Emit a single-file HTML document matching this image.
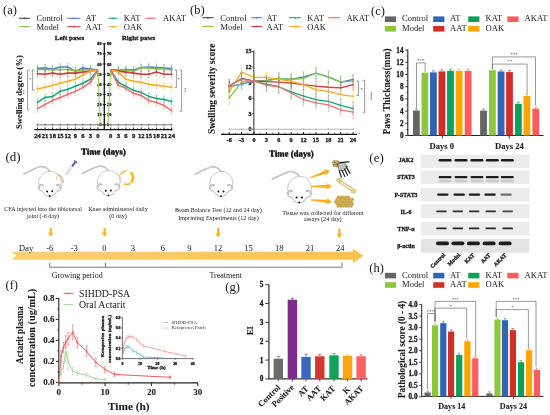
<!DOCTYPE html>
<html><head><meta charset="utf-8"><style>
html,body{margin:0;padding:0;background:#fff;width:550px;height:415px;overflow:hidden}
svg{display:block;will-change:transform;filter:blur(0.3px)}
text{font-family:"Liberation Serif", serif}
</style></head><body>
<svg width="550" height="415" viewBox="0 0 550 415">
<rect width="550" height="415" fill="#fff"/>
<text x="3" y="14.2" font-size="12.5" text-anchor="start" fill="#1a1a1a">(a)</text>
<line x1="19" y1="18.3" x2="30" y2="18.3" stroke="#444444" stroke-width="1.1"/>
<circle cx="24.5" cy="18.3" r="0.9" fill="#444444"/>
<text x="36.5" y="21.3" font-size="8.6" text-anchor="start" fill="#1a1a1a">Control</text>
<line x1="67.3" y1="18.3" x2="80.5" y2="18.3" stroke="#4a80cc" stroke-width="1.1"/>
<circle cx="73.9" cy="18.3" r="0.9" fill="#4a80cc"/>
<text x="85.6" y="21.3" font-size="8.6" text-anchor="start" fill="#1a1a1a">AT</text>
<line x1="108.5" y1="18.3" x2="117.4" y2="18.3" stroke="#13a87a" stroke-width="1.1"/>
<circle cx="113.0" cy="18.3" r="0.9" fill="#13a87a"/>
<text x="123.8" y="21.3" font-size="8.6" text-anchor="start" fill="#1a1a1a">KAT</text>
<line x1="145.4" y1="18.3" x2="155.6" y2="18.3" stroke="#f0706d" stroke-width="1.1"/>
<circle cx="150.5" cy="18.3" r="0.9" fill="#f0706d"/>
<text x="163" y="21.3" font-size="8.6" text-anchor="start" fill="#1a1a1a">AKAT</text>
<line x1="19" y1="26.7" x2="30" y2="26.7" stroke="#86c447" stroke-width="1.1"/>
<circle cx="24.5" cy="26.7" r="0.9" fill="#86c447"/>
<text x="36.5" y="29.7" font-size="8.6" text-anchor="start" fill="#1a1a1a">Model</text>
<line x1="67.3" y1="26.7" x2="80.5" y2="26.7" stroke="#cc3d3d" stroke-width="1.1"/>
<circle cx="73.9" cy="26.7" r="0.9" fill="#cc3d3d"/>
<text x="85.6" y="29.7" font-size="8.6" text-anchor="start" fill="#1a1a1a">AAT</text>
<line x1="108.5" y1="26.7" x2="117.4" y2="26.7" stroke="#f2ae24" stroke-width="1.1"/>
<circle cx="113.0" cy="26.7" r="0.9" fill="#f2ae24"/>
<text x="123.8" y="29.7" font-size="8.6" text-anchor="start" fill="#1a1a1a">OAK</text>
<text x="69.5" y="40" font-size="7" text-anchor="middle" font-weight="bold" stroke="#1a1a1a" stroke-width="0.3" fill="#1a1a1a">Left paws</text>
<text x="138.5" y="40" font-size="7" text-anchor="middle" font-weight="bold" stroke="#1a1a1a" stroke-width="0.3" fill="#1a1a1a">Right paws</text>
<line x1="104.3" y1="43.5" x2="104.3" y2="130" stroke="#111" stroke-width="1.3"/>
<line x1="102.8" y1="124.8" x2="105.8" y2="124.8" stroke="#111" stroke-width="1"/>
<text x="101.5" y="126.39999999999999" font-size="4.2" text-anchor="end" font-weight="bold" stroke="#1a1a1a" stroke-width="0.3" fill="#1a1a1a">0</text>
<text x="107.1" y="126.39999999999999" font-size="4.2" text-anchor="start" font-weight="bold" stroke="#1a1a1a" stroke-width="0.3" fill="#1a1a1a">0</text>
<line x1="102.8" y1="114.67" x2="105.8" y2="114.67" stroke="#111" stroke-width="1"/>
<text x="101.5" y="116.27" font-size="4.2" text-anchor="end" font-weight="bold" stroke="#1a1a1a" stroke-width="0.3" fill="#1a1a1a">10</text>
<text x="107.1" y="116.27" font-size="4.2" text-anchor="start" font-weight="bold" stroke="#1a1a1a" stroke-width="0.3" fill="#1a1a1a">10</text>
<line x1="102.8" y1="104.53999999999999" x2="105.8" y2="104.53999999999999" stroke="#111" stroke-width="1"/>
<text x="101.5" y="106.13999999999999" font-size="4.2" text-anchor="end" font-weight="bold" stroke="#1a1a1a" stroke-width="0.3" fill="#1a1a1a">20</text>
<text x="107.1" y="106.13999999999999" font-size="4.2" text-anchor="start" font-weight="bold" stroke="#1a1a1a" stroke-width="0.3" fill="#1a1a1a">20</text>
<line x1="102.8" y1="94.41" x2="105.8" y2="94.41" stroke="#111" stroke-width="1"/>
<text x="101.5" y="96.00999999999999" font-size="4.2" text-anchor="end" font-weight="bold" stroke="#1a1a1a" stroke-width="0.3" fill="#1a1a1a">30</text>
<text x="107.1" y="96.00999999999999" font-size="4.2" text-anchor="start" font-weight="bold" stroke="#1a1a1a" stroke-width="0.3" fill="#1a1a1a">30</text>
<line x1="102.8" y1="84.28" x2="105.8" y2="84.28" stroke="#111" stroke-width="1"/>
<text x="101.5" y="85.88" font-size="4.2" text-anchor="end" font-weight="bold" stroke="#1a1a1a" stroke-width="0.3" fill="#1a1a1a">40</text>
<text x="107.1" y="85.88" font-size="4.2" text-anchor="start" font-weight="bold" stroke="#1a1a1a" stroke-width="0.3" fill="#1a1a1a">40</text>
<line x1="102.8" y1="74.15" x2="105.8" y2="74.15" stroke="#111" stroke-width="1"/>
<text x="101.5" y="75.75" font-size="4.2" text-anchor="end" font-weight="bold" stroke="#1a1a1a" stroke-width="0.3" fill="#1a1a1a">50</text>
<text x="107.1" y="75.75" font-size="4.2" text-anchor="start" font-weight="bold" stroke="#1a1a1a" stroke-width="0.3" fill="#1a1a1a">50</text>
<line x1="102.8" y1="64.02000000000001" x2="105.8" y2="64.02000000000001" stroke="#111" stroke-width="1"/>
<text x="101.5" y="65.62" font-size="4.2" text-anchor="end" font-weight="bold" stroke="#1a1a1a" stroke-width="0.3" fill="#1a1a1a">60</text>
<text x="107.1" y="65.62" font-size="4.2" text-anchor="start" font-weight="bold" stroke="#1a1a1a" stroke-width="0.3" fill="#1a1a1a">60</text>
<line x1="102.8" y1="53.89" x2="105.8" y2="53.89" stroke="#111" stroke-width="1"/>
<text x="101.5" y="55.49" font-size="4.2" text-anchor="end" font-weight="bold" stroke="#1a1a1a" stroke-width="0.3" fill="#1a1a1a">70</text>
<text x="107.1" y="55.49" font-size="4.2" text-anchor="start" font-weight="bold" stroke="#1a1a1a" stroke-width="0.3" fill="#1a1a1a">70</text>
<line x1="102.8" y1="43.760000000000005" x2="105.8" y2="43.760000000000005" stroke="#111" stroke-width="1"/>
<text x="101.5" y="45.36000000000001" font-size="4.2" text-anchor="end" font-weight="bold" stroke="#1a1a1a" stroke-width="0.3" fill="#1a1a1a">80</text>
<text x="107.1" y="45.36000000000001" font-size="4.2" text-anchor="start" font-weight="bold" stroke="#1a1a1a" stroke-width="0.3" fill="#1a1a1a">80</text>
<line x1="34.4" y1="129.7" x2="172.5" y2="129.7" stroke="#111" stroke-width="1.3"/>
<line x1="36.5" y1="124.8" x2="172" y2="124.8" stroke="#444" stroke-width="0.7"/>
<line x1="98.0" y1="127.4" x2="98.0" y2="130.3" stroke="#111" stroke-width="0.9"/>
<line x1="98.0" y1="123.6" x2="98.0" y2="126" stroke="#444" stroke-width="0.6"/>
<line x1="110.7" y1="127.4" x2="110.7" y2="130.3" stroke="#111" stroke-width="0.9"/>
<line x1="110.7" y1="123.6" x2="110.7" y2="126" stroke="#444" stroke-width="0.6"/>
<text x="98.0" y="138.0" font-size="6.6" text-anchor="middle" font-weight="bold" stroke="#1a1a1a" stroke-width="0.3" fill="#1a1a1a">0</text>
<text x="110.7" y="138.0" font-size="6.6" text-anchor="middle" font-weight="bold" stroke="#1a1a1a" stroke-width="0.3" fill="#1a1a1a">0</text>
<line x1="90.44" y1="127.4" x2="90.44" y2="130.3" stroke="#111" stroke-width="0.9"/>
<line x1="90.44" y1="123.6" x2="90.44" y2="126" stroke="#444" stroke-width="0.6"/>
<line x1="118.32000000000001" y1="127.4" x2="118.32000000000001" y2="130.3" stroke="#111" stroke-width="0.9"/>
<line x1="118.32000000000001" y1="123.6" x2="118.32000000000001" y2="126" stroke="#444" stroke-width="0.6"/>
<text x="90.44" y="138.0" font-size="6.6" text-anchor="middle" font-weight="bold" stroke="#1a1a1a" stroke-width="0.3" fill="#1a1a1a">3</text>
<text x="118.32000000000001" y="138.0" font-size="6.6" text-anchor="middle" font-weight="bold" stroke="#1a1a1a" stroke-width="0.3" fill="#1a1a1a">3</text>
<line x1="82.88" y1="127.4" x2="82.88" y2="130.3" stroke="#111" stroke-width="0.9"/>
<line x1="82.88" y1="123.6" x2="82.88" y2="126" stroke="#444" stroke-width="0.6"/>
<line x1="125.94" y1="127.4" x2="125.94" y2="130.3" stroke="#111" stroke-width="0.9"/>
<line x1="125.94" y1="123.6" x2="125.94" y2="126" stroke="#444" stroke-width="0.6"/>
<text x="82.88" y="138.0" font-size="6.6" text-anchor="middle" font-weight="bold" stroke="#1a1a1a" stroke-width="0.3" fill="#1a1a1a">6</text>
<text x="125.94" y="138.0" font-size="6.6" text-anchor="middle" font-weight="bold" stroke="#1a1a1a" stroke-width="0.3" fill="#1a1a1a">6</text>
<line x1="75.32" y1="127.4" x2="75.32" y2="130.3" stroke="#111" stroke-width="0.9"/>
<line x1="75.32" y1="123.6" x2="75.32" y2="126" stroke="#444" stroke-width="0.6"/>
<line x1="133.56" y1="127.4" x2="133.56" y2="130.3" stroke="#111" stroke-width="0.9"/>
<line x1="133.56" y1="123.6" x2="133.56" y2="126" stroke="#444" stroke-width="0.6"/>
<text x="75.32" y="138.0" font-size="6.6" text-anchor="middle" font-weight="bold" stroke="#1a1a1a" stroke-width="0.3" fill="#1a1a1a">9</text>
<text x="133.56" y="138.0" font-size="6.6" text-anchor="middle" font-weight="bold" stroke="#1a1a1a" stroke-width="0.3" fill="#1a1a1a">9</text>
<line x1="67.75999999999999" y1="127.4" x2="67.75999999999999" y2="130.3" stroke="#111" stroke-width="0.9"/>
<line x1="67.75999999999999" y1="123.6" x2="67.75999999999999" y2="126" stroke="#444" stroke-width="0.6"/>
<line x1="141.18" y1="127.4" x2="141.18" y2="130.3" stroke="#111" stroke-width="0.9"/>
<line x1="141.18" y1="123.6" x2="141.18" y2="126" stroke="#444" stroke-width="0.6"/>
<text x="67.75999999999999" y="138.0" font-size="6.6" text-anchor="middle" font-weight="bold" stroke="#1a1a1a" stroke-width="0.3" fill="#1a1a1a">12</text>
<text x="141.18" y="138.0" font-size="6.6" text-anchor="middle" font-weight="bold" stroke="#1a1a1a" stroke-width="0.3" fill="#1a1a1a">12</text>
<line x1="60.2" y1="127.4" x2="60.2" y2="130.3" stroke="#111" stroke-width="0.9"/>
<line x1="60.2" y1="123.6" x2="60.2" y2="126" stroke="#444" stroke-width="0.6"/>
<line x1="148.8" y1="127.4" x2="148.8" y2="130.3" stroke="#111" stroke-width="0.9"/>
<line x1="148.8" y1="123.6" x2="148.8" y2="126" stroke="#444" stroke-width="0.6"/>
<text x="60.2" y="138.0" font-size="6.6" text-anchor="middle" font-weight="bold" stroke="#1a1a1a" stroke-width="0.3" fill="#1a1a1a">15</text>
<text x="148.8" y="138.0" font-size="6.6" text-anchor="middle" font-weight="bold" stroke="#1a1a1a" stroke-width="0.3" fill="#1a1a1a">15</text>
<line x1="52.64" y1="127.4" x2="52.64" y2="130.3" stroke="#111" stroke-width="0.9"/>
<line x1="52.64" y1="123.6" x2="52.64" y2="126" stroke="#444" stroke-width="0.6"/>
<line x1="156.42000000000002" y1="127.4" x2="156.42000000000002" y2="130.3" stroke="#111" stroke-width="0.9"/>
<line x1="156.42000000000002" y1="123.6" x2="156.42000000000002" y2="126" stroke="#444" stroke-width="0.6"/>
<text x="52.64" y="138.0" font-size="6.6" text-anchor="middle" font-weight="bold" stroke="#1a1a1a" stroke-width="0.3" fill="#1a1a1a">18</text>
<text x="156.42000000000002" y="138.0" font-size="6.6" text-anchor="middle" font-weight="bold" stroke="#1a1a1a" stroke-width="0.3" fill="#1a1a1a">18</text>
<line x1="45.08" y1="127.4" x2="45.08" y2="130.3" stroke="#111" stroke-width="0.9"/>
<line x1="45.08" y1="123.6" x2="45.08" y2="126" stroke="#444" stroke-width="0.6"/>
<line x1="164.04000000000002" y1="127.4" x2="164.04000000000002" y2="130.3" stroke="#111" stroke-width="0.9"/>
<line x1="164.04000000000002" y1="123.6" x2="164.04000000000002" y2="126" stroke="#444" stroke-width="0.6"/>
<text x="45.08" y="138.0" font-size="6.6" text-anchor="middle" font-weight="bold" stroke="#1a1a1a" stroke-width="0.3" fill="#1a1a1a">21</text>
<text x="164.04000000000002" y="138.0" font-size="6.6" text-anchor="middle" font-weight="bold" stroke="#1a1a1a" stroke-width="0.3" fill="#1a1a1a">21</text>
<line x1="37.519999999999996" y1="127.4" x2="37.519999999999996" y2="130.3" stroke="#111" stroke-width="0.9"/>
<line x1="37.519999999999996" y1="123.6" x2="37.519999999999996" y2="126" stroke="#444" stroke-width="0.6"/>
<line x1="171.66" y1="127.4" x2="171.66" y2="130.3" stroke="#111" stroke-width="0.9"/>
<line x1="171.66" y1="123.6" x2="171.66" y2="126" stroke="#444" stroke-width="0.6"/>
<text x="37.519999999999996" y="138.0" font-size="6.6" text-anchor="middle" font-weight="bold" stroke="#1a1a1a" stroke-width="0.3" fill="#1a1a1a">24</text>
<text x="171.66" y="138.0" font-size="6.6" text-anchor="middle" font-weight="bold" stroke="#1a1a1a" stroke-width="0.3" fill="#1a1a1a">24</text>
<line x1="94.22" y1="128.2" x2="94.22" y2="129.7" stroke="#111" stroke-width="0.6"/>
<line x1="114.51" y1="128.2" x2="114.51" y2="129.7" stroke="#111" stroke-width="0.6"/>
<line x1="86.66" y1="128.2" x2="86.66" y2="129.7" stroke="#111" stroke-width="0.6"/>
<line x1="122.13" y1="128.2" x2="122.13" y2="129.7" stroke="#111" stroke-width="0.6"/>
<line x1="79.1" y1="128.2" x2="79.1" y2="129.7" stroke="#111" stroke-width="0.6"/>
<line x1="129.75" y1="128.2" x2="129.75" y2="129.7" stroke="#111" stroke-width="0.6"/>
<line x1="71.53999999999999" y1="128.2" x2="71.53999999999999" y2="129.7" stroke="#111" stroke-width="0.6"/>
<line x1="137.37" y1="128.2" x2="137.37" y2="129.7" stroke="#111" stroke-width="0.6"/>
<line x1="63.98" y1="128.2" x2="63.98" y2="129.7" stroke="#111" stroke-width="0.6"/>
<line x1="144.99" y1="128.2" x2="144.99" y2="129.7" stroke="#111" stroke-width="0.6"/>
<line x1="56.42" y1="128.2" x2="56.42" y2="129.7" stroke="#111" stroke-width="0.6"/>
<line x1="152.61" y1="128.2" x2="152.61" y2="129.7" stroke="#111" stroke-width="0.6"/>
<line x1="48.86" y1="128.2" x2="48.86" y2="129.7" stroke="#111" stroke-width="0.6"/>
<line x1="160.23000000000002" y1="128.2" x2="160.23000000000002" y2="129.7" stroke="#111" stroke-width="0.6"/>
<line x1="41.3" y1="128.2" x2="41.3" y2="129.7" stroke="#111" stroke-width="0.6"/>
<line x1="167.85" y1="128.2" x2="167.85" y2="129.7" stroke="#111" stroke-width="0.6"/>
<text x="19.2" y="92" font-size="8.6" text-anchor="middle" font-weight="bold" stroke="#1a1a1a" stroke-width="0.08" fill="#1a1a1a" transform="rotate(-90 19.2 92)" dy="3">Swelling degree (%)</text>
<text x="103.6" y="154.5" font-size="8.8" text-anchor="middle" font-weight="bold" stroke="#1a1a1a" stroke-width="0.08" fill="#1a1a1a">Time (days)</text>
<line x1="37.519999999999996" y1="64.7746" x2="37.519999999999996" y2="71.7746" stroke="#4a80cc" stroke-width="0.55" opacity="0.8"/>
<line x1="36.72" y1="64.7746" x2="38.31999999999999" y2="64.7746" stroke="#4a80cc" stroke-width="0.45" opacity="0.8"/>
<line x1="36.72" y1="71.7746" x2="38.31999999999999" y2="71.7746" stroke="#4a80cc" stroke-width="0.45" opacity="0.8"/>
<line x1="45.08" y1="64.572" x2="45.08" y2="71.572" stroke="#4a80cc" stroke-width="0.55" opacity="0.8"/>
<line x1="44.28" y1="64.572" x2="45.879999999999995" y2="64.572" stroke="#4a80cc" stroke-width="0.45" opacity="0.8"/>
<line x1="44.28" y1="71.572" x2="45.879999999999995" y2="71.572" stroke="#4a80cc" stroke-width="0.45" opacity="0.8"/>
<line x1="52.64" y1="65.58500000000001" x2="52.64" y2="72.58500000000001" stroke="#4a80cc" stroke-width="0.55" opacity="0.8"/>
<line x1="51.84" y1="65.58500000000001" x2="53.44" y2="65.58500000000001" stroke="#4a80cc" stroke-width="0.45" opacity="0.8"/>
<line x1="51.84" y1="72.58500000000001" x2="53.44" y2="72.58500000000001" stroke="#4a80cc" stroke-width="0.45" opacity="0.8"/>
<line x1="60.2" y1="63.559" x2="60.2" y2="70.559" stroke="#4a80cc" stroke-width="0.55" opacity="0.8"/>
<line x1="59.400000000000006" y1="63.559" x2="61.0" y2="63.559" stroke="#4a80cc" stroke-width="0.45" opacity="0.8"/>
<line x1="59.400000000000006" y1="70.559" x2="61.0" y2="70.559" stroke="#4a80cc" stroke-width="0.45" opacity="0.8"/>
<line x1="67.75999999999999" y1="63.559" x2="67.75999999999999" y2="70.559" stroke="#4a80cc" stroke-width="0.55" opacity="0.8"/>
<line x1="66.96" y1="63.559" x2="68.55999999999999" y2="63.559" stroke="#4a80cc" stroke-width="0.45" opacity="0.8"/>
<line x1="66.96" y1="70.559" x2="68.55999999999999" y2="70.559" stroke="#4a80cc" stroke-width="0.45" opacity="0.8"/>
<line x1="75.32" y1="67.611" x2="75.32" y2="74.611" stroke="#4a80cc" stroke-width="0.55" opacity="0.8"/>
<line x1="74.52" y1="67.611" x2="76.11999999999999" y2="67.611" stroke="#4a80cc" stroke-width="0.45" opacity="0.8"/>
<line x1="74.52" y1="74.611" x2="76.11999999999999" y2="74.611" stroke="#4a80cc" stroke-width="0.45" opacity="0.8"/>
<line x1="82.88" y1="64.572" x2="82.88" y2="71.572" stroke="#4a80cc" stroke-width="0.55" opacity="0.8"/>
<line x1="82.08" y1="64.572" x2="83.67999999999999" y2="64.572" stroke="#4a80cc" stroke-width="0.45" opacity="0.8"/>
<line x1="82.08" y1="71.572" x2="83.67999999999999" y2="71.572" stroke="#4a80cc" stroke-width="0.45" opacity="0.8"/>
<line x1="90.44" y1="65.58500000000001" x2="90.44" y2="72.58500000000001" stroke="#4a80cc" stroke-width="0.55" opacity="0.8"/>
<line x1="89.64" y1="65.58500000000001" x2="91.24" y2="65.58500000000001" stroke="#4a80cc" stroke-width="0.45" opacity="0.8"/>
<line x1="89.64" y1="72.58500000000001" x2="91.24" y2="72.58500000000001" stroke="#4a80cc" stroke-width="0.45" opacity="0.8"/>
<polyline points="37.52,68.27 45.08,68.07 52.64,69.09 60.20,67.06 67.76,67.06 75.32,71.11 82.88,68.07 90.44,69.09 98.00,70.10" fill="none" stroke="#4a80cc" stroke-width="1.55" stroke-linejoin="round"/>
<circle cx="37.5" cy="68.3" r="0.9" fill="#4a80cc"/>
<circle cx="45.1" cy="68.1" r="0.9" fill="#4a80cc"/>
<circle cx="52.6" cy="69.1" r="0.9" fill="#4a80cc"/>
<circle cx="60.2" cy="67.1" r="0.9" fill="#4a80cc"/>
<circle cx="67.8" cy="67.1" r="0.9" fill="#4a80cc"/>
<circle cx="75.3" cy="71.1" r="0.9" fill="#4a80cc"/>
<circle cx="82.9" cy="68.1" r="0.9" fill="#4a80cc"/>
<circle cx="90.4" cy="69.1" r="0.9" fill="#4a80cc"/>
<line x1="37.519999999999996" y1="66.0915" x2="37.519999999999996" y2="73.0915" stroke="#86c447" stroke-width="0.55" opacity="0.8"/>
<line x1="36.72" y1="66.0915" x2="38.31999999999999" y2="66.0915" stroke="#86c447" stroke-width="0.45" opacity="0.8"/>
<line x1="36.72" y1="73.0915" x2="38.31999999999999" y2="73.0915" stroke="#86c447" stroke-width="0.45" opacity="0.8"/>
<line x1="45.08" y1="66.0915" x2="45.08" y2="73.0915" stroke="#86c447" stroke-width="0.55" opacity="0.8"/>
<line x1="44.28" y1="66.0915" x2="45.879999999999995" y2="66.0915" stroke="#86c447" stroke-width="0.45" opacity="0.8"/>
<line x1="44.28" y1="73.0915" x2="45.879999999999995" y2="73.0915" stroke="#86c447" stroke-width="0.45" opacity="0.8"/>
<line x1="52.64" y1="66.598" x2="52.64" y2="73.598" stroke="#86c447" stroke-width="0.55" opacity="0.8"/>
<line x1="51.84" y1="66.598" x2="53.44" y2="66.598" stroke="#86c447" stroke-width="0.45" opacity="0.8"/>
<line x1="51.84" y1="73.598" x2="53.44" y2="73.598" stroke="#86c447" stroke-width="0.45" opacity="0.8"/>
<line x1="60.2" y1="66.0915" x2="60.2" y2="73.0915" stroke="#86c447" stroke-width="0.55" opacity="0.8"/>
<line x1="59.400000000000006" y1="66.0915" x2="61.0" y2="66.0915" stroke="#86c447" stroke-width="0.45" opacity="0.8"/>
<line x1="59.400000000000006" y1="73.0915" x2="61.0" y2="73.0915" stroke="#86c447" stroke-width="0.45" opacity="0.8"/>
<line x1="67.75999999999999" y1="66.0915" x2="67.75999999999999" y2="73.0915" stroke="#86c447" stroke-width="0.55" opacity="0.8"/>
<line x1="66.96" y1="66.0915" x2="68.55999999999999" y2="66.0915" stroke="#86c447" stroke-width="0.45" opacity="0.8"/>
<line x1="66.96" y1="73.0915" x2="68.55999999999999" y2="73.0915" stroke="#86c447" stroke-width="0.45" opacity="0.8"/>
<line x1="75.32" y1="67.611" x2="75.32" y2="74.611" stroke="#86c447" stroke-width="0.55" opacity="0.8"/>
<line x1="74.52" y1="67.611" x2="76.11999999999999" y2="67.611" stroke="#86c447" stroke-width="0.45" opacity="0.8"/>
<line x1="74.52" y1="74.611" x2="76.11999999999999" y2="74.611" stroke="#86c447" stroke-width="0.45" opacity="0.8"/>
<line x1="82.88" y1="66.598" x2="82.88" y2="73.598" stroke="#86c447" stroke-width="0.55" opacity="0.8"/>
<line x1="82.08" y1="66.598" x2="83.67999999999999" y2="66.598" stroke="#86c447" stroke-width="0.45" opacity="0.8"/>
<line x1="82.08" y1="73.598" x2="83.67999999999999" y2="73.598" stroke="#86c447" stroke-width="0.45" opacity="0.8"/>
<line x1="90.44" y1="66.0915" x2="90.44" y2="73.0915" stroke="#86c447" stroke-width="0.55" opacity="0.8"/>
<line x1="89.64" y1="66.0915" x2="91.24" y2="66.0915" stroke="#86c447" stroke-width="0.45" opacity="0.8"/>
<line x1="89.64" y1="73.0915" x2="91.24" y2="73.0915" stroke="#86c447" stroke-width="0.45" opacity="0.8"/>
<polyline points="37.52,69.59 45.08,69.59 52.64,70.10 60.20,69.59 67.76,69.59 75.32,71.11 82.88,70.10 90.44,69.59 98.00,70.10" fill="none" stroke="#86c447" stroke-width="1.55" stroke-linejoin="round"/>
<line x1="98.0" y1="70.098" x2="100.2" y2="124.8" stroke="#9ccf62" stroke-width="1.1"/>
<circle cx="37.5" cy="69.6" r="0.9" fill="#86c447"/>
<circle cx="45.1" cy="69.6" r="0.9" fill="#86c447"/>
<circle cx="52.6" cy="70.1" r="0.9" fill="#86c447"/>
<circle cx="60.2" cy="69.6" r="0.9" fill="#86c447"/>
<circle cx="67.8" cy="69.6" r="0.9" fill="#86c447"/>
<circle cx="75.3" cy="71.1" r="0.9" fill="#86c447"/>
<circle cx="82.9" cy="70.1" r="0.9" fill="#86c447"/>
<circle cx="90.4" cy="69.6" r="0.9" fill="#86c447"/>
<line x1="37.519999999999996" y1="70.2448" x2="37.519999999999996" y2="77.2448" stroke="#cc3d3d" stroke-width="0.55" opacity="0.8"/>
<line x1="36.72" y1="70.2448" x2="38.31999999999999" y2="70.2448" stroke="#cc3d3d" stroke-width="0.45" opacity="0.8"/>
<line x1="36.72" y1="77.2448" x2="38.31999999999999" y2="77.2448" stroke="#cc3d3d" stroke-width="0.45" opacity="0.8"/>
<line x1="45.08" y1="70.65" x2="45.08" y2="77.65" stroke="#cc3d3d" stroke-width="0.55" opacity="0.8"/>
<line x1="44.28" y1="70.65" x2="45.879999999999995" y2="70.65" stroke="#cc3d3d" stroke-width="0.45" opacity="0.8"/>
<line x1="44.28" y1="77.65" x2="45.879999999999995" y2="77.65" stroke="#cc3d3d" stroke-width="0.45" opacity="0.8"/>
<line x1="52.64" y1="69.637" x2="52.64" y2="76.637" stroke="#cc3d3d" stroke-width="0.55" opacity="0.8"/>
<line x1="51.84" y1="69.637" x2="53.44" y2="69.637" stroke="#cc3d3d" stroke-width="0.45" opacity="0.8"/>
<line x1="51.84" y1="76.637" x2="53.44" y2="76.637" stroke="#cc3d3d" stroke-width="0.45" opacity="0.8"/>
<line x1="60.2" y1="70.65" x2="60.2" y2="77.65" stroke="#cc3d3d" stroke-width="0.55" opacity="0.8"/>
<line x1="59.400000000000006" y1="70.65" x2="61.0" y2="70.65" stroke="#cc3d3d" stroke-width="0.45" opacity="0.8"/>
<line x1="59.400000000000006" y1="77.65" x2="61.0" y2="77.65" stroke="#cc3d3d" stroke-width="0.45" opacity="0.8"/>
<line x1="67.75999999999999" y1="69.637" x2="67.75999999999999" y2="76.637" stroke="#cc3d3d" stroke-width="0.55" opacity="0.8"/>
<line x1="66.96" y1="69.637" x2="68.55999999999999" y2="69.637" stroke="#cc3d3d" stroke-width="0.45" opacity="0.8"/>
<line x1="66.96" y1="76.637" x2="68.55999999999999" y2="76.637" stroke="#cc3d3d" stroke-width="0.45" opacity="0.8"/>
<line x1="75.32" y1="69.637" x2="75.32" y2="76.637" stroke="#cc3d3d" stroke-width="0.55" opacity="0.8"/>
<line x1="74.52" y1="69.637" x2="76.11999999999999" y2="69.637" stroke="#cc3d3d" stroke-width="0.45" opacity="0.8"/>
<line x1="74.52" y1="76.637" x2="76.11999999999999" y2="76.637" stroke="#cc3d3d" stroke-width="0.45" opacity="0.8"/>
<line x1="82.88" y1="68.624" x2="82.88" y2="75.624" stroke="#cc3d3d" stroke-width="0.55" opacity="0.8"/>
<line x1="82.08" y1="68.624" x2="83.67999999999999" y2="68.624" stroke="#cc3d3d" stroke-width="0.45" opacity="0.8"/>
<line x1="82.08" y1="75.624" x2="83.67999999999999" y2="75.624" stroke="#cc3d3d" stroke-width="0.45" opacity="0.8"/>
<line x1="90.44" y1="67.611" x2="90.44" y2="74.611" stroke="#cc3d3d" stroke-width="0.55" opacity="0.8"/>
<line x1="89.64" y1="67.611" x2="91.24" y2="67.611" stroke="#cc3d3d" stroke-width="0.45" opacity="0.8"/>
<line x1="89.64" y1="74.611" x2="91.24" y2="74.611" stroke="#cc3d3d" stroke-width="0.45" opacity="0.8"/>
<polyline points="37.52,73.74 45.08,74.15 52.64,73.14 60.20,74.15 67.76,73.14 75.32,73.14 82.88,72.12 90.44,71.11 98.00,70.10" fill="none" stroke="#cc3d3d" stroke-width="1.55" stroke-linejoin="round"/>
<circle cx="37.5" cy="73.7" r="0.9" fill="#cc3d3d"/>
<circle cx="45.1" cy="74.2" r="0.9" fill="#cc3d3d"/>
<circle cx="52.6" cy="73.1" r="0.9" fill="#cc3d3d"/>
<circle cx="60.2" cy="74.2" r="0.9" fill="#cc3d3d"/>
<circle cx="67.8" cy="73.1" r="0.9" fill="#cc3d3d"/>
<circle cx="75.3" cy="73.1" r="0.9" fill="#cc3d3d"/>
<circle cx="82.9" cy="72.1" r="0.9" fill="#cc3d3d"/>
<circle cx="90.4" cy="71.1" r="0.9" fill="#cc3d3d"/>
<line x1="37.519999999999996" y1="85.5411" x2="37.519999999999996" y2="92.5411" stroke="#f2ae24" stroke-width="0.55" opacity="0.8"/>
<line x1="36.72" y1="85.5411" x2="38.31999999999999" y2="85.5411" stroke="#f2ae24" stroke-width="0.45" opacity="0.8"/>
<line x1="36.72" y1="92.5411" x2="38.31999999999999" y2="92.5411" stroke="#f2ae24" stroke-width="0.45" opacity="0.8"/>
<line x1="45.08" y1="83.819" x2="45.08" y2="90.819" stroke="#f2ae24" stroke-width="0.55" opacity="0.8"/>
<line x1="44.28" y1="83.819" x2="45.879999999999995" y2="83.819" stroke="#f2ae24" stroke-width="0.45" opacity="0.8"/>
<line x1="44.28" y1="90.819" x2="45.879999999999995" y2="90.819" stroke="#f2ae24" stroke-width="0.45" opacity="0.8"/>
<line x1="52.64" y1="81.793" x2="52.64" y2="88.793" stroke="#f2ae24" stroke-width="0.55" opacity="0.8"/>
<line x1="51.84" y1="81.793" x2="53.44" y2="81.793" stroke="#f2ae24" stroke-width="0.45" opacity="0.8"/>
<line x1="51.84" y1="88.793" x2="53.44" y2="88.793" stroke="#f2ae24" stroke-width="0.45" opacity="0.8"/>
<line x1="60.2" y1="79.767" x2="60.2" y2="86.767" stroke="#f2ae24" stroke-width="0.55" opacity="0.8"/>
<line x1="59.400000000000006" y1="79.767" x2="61.0" y2="79.767" stroke="#f2ae24" stroke-width="0.45" opacity="0.8"/>
<line x1="59.400000000000006" y1="86.767" x2="61.0" y2="86.767" stroke="#f2ae24" stroke-width="0.45" opacity="0.8"/>
<line x1="67.75999999999999" y1="77.741" x2="67.75999999999999" y2="84.741" stroke="#f2ae24" stroke-width="0.55" opacity="0.8"/>
<line x1="66.96" y1="77.741" x2="68.55999999999999" y2="77.741" stroke="#f2ae24" stroke-width="0.45" opacity="0.8"/>
<line x1="66.96" y1="84.741" x2="68.55999999999999" y2="84.741" stroke="#f2ae24" stroke-width="0.45" opacity="0.8"/>
<line x1="75.32" y1="75.715" x2="75.32" y2="82.715" stroke="#f2ae24" stroke-width="0.55" opacity="0.8"/>
<line x1="74.52" y1="75.715" x2="76.11999999999999" y2="75.715" stroke="#f2ae24" stroke-width="0.45" opacity="0.8"/>
<line x1="74.52" y1="82.715" x2="76.11999999999999" y2="82.715" stroke="#f2ae24" stroke-width="0.45" opacity="0.8"/>
<line x1="82.88" y1="71.66300000000001" x2="82.88" y2="78.66300000000001" stroke="#f2ae24" stroke-width="0.55" opacity="0.8"/>
<line x1="82.08" y1="71.66300000000001" x2="83.67999999999999" y2="71.66300000000001" stroke="#f2ae24" stroke-width="0.45" opacity="0.8"/>
<line x1="82.08" y1="78.66300000000001" x2="83.67999999999999" y2="78.66300000000001" stroke="#f2ae24" stroke-width="0.45" opacity="0.8"/>
<line x1="90.44" y1="67.611" x2="90.44" y2="74.611" stroke="#f2ae24" stroke-width="0.55" opacity="0.8"/>
<line x1="89.64" y1="67.611" x2="91.24" y2="67.611" stroke="#f2ae24" stroke-width="0.45" opacity="0.8"/>
<line x1="89.64" y1="74.611" x2="91.24" y2="74.611" stroke="#f2ae24" stroke-width="0.45" opacity="0.8"/>
<polyline points="37.52,89.04 45.08,87.32 52.64,85.29 60.20,83.27 67.76,81.24 75.32,79.22 82.88,75.16 90.44,71.11 98.00,70.10" fill="none" stroke="#f2ae24" stroke-width="1.55" stroke-linejoin="round"/>
<circle cx="37.5" cy="89.0" r="0.9" fill="#f2ae24"/>
<circle cx="45.1" cy="87.3" r="0.9" fill="#f2ae24"/>
<circle cx="52.6" cy="85.3" r="0.9" fill="#f2ae24"/>
<circle cx="60.2" cy="83.3" r="0.9" fill="#f2ae24"/>
<circle cx="67.8" cy="81.2" r="0.9" fill="#f2ae24"/>
<circle cx="75.3" cy="79.2" r="0.9" fill="#f2ae24"/>
<circle cx="82.9" cy="75.2" r="0.9" fill="#f2ae24"/>
<circle cx="90.4" cy="71.1" r="0.9" fill="#f2ae24"/>
<line x1="37.519999999999996" y1="98.9127" x2="37.519999999999996" y2="105.9127" stroke="#13a87a" stroke-width="0.55" opacity="0.8"/>
<line x1="36.72" y1="98.9127" x2="38.31999999999999" y2="98.9127" stroke="#13a87a" stroke-width="0.45" opacity="0.8"/>
<line x1="36.72" y1="105.9127" x2="38.31999999999999" y2="105.9127" stroke="#13a87a" stroke-width="0.45" opacity="0.8"/>
<line x1="45.08" y1="93.949" x2="45.08" y2="100.949" stroke="#13a87a" stroke-width="0.55" opacity="0.8"/>
<line x1="44.28" y1="93.949" x2="45.879999999999995" y2="93.949" stroke="#13a87a" stroke-width="0.45" opacity="0.8"/>
<line x1="44.28" y1="100.949" x2="45.879999999999995" y2="100.949" stroke="#13a87a" stroke-width="0.45" opacity="0.8"/>
<line x1="52.64" y1="92.936" x2="52.64" y2="99.936" stroke="#13a87a" stroke-width="0.55" opacity="0.8"/>
<line x1="51.84" y1="92.936" x2="53.44" y2="92.936" stroke="#13a87a" stroke-width="0.45" opacity="0.8"/>
<line x1="51.84" y1="99.936" x2="53.44" y2="99.936" stroke="#13a87a" stroke-width="0.45" opacity="0.8"/>
<line x1="60.2" y1="87.87100000000001" x2="60.2" y2="94.87100000000001" stroke="#13a87a" stroke-width="0.55" opacity="0.8"/>
<line x1="59.400000000000006" y1="87.87100000000001" x2="61.0" y2="87.87100000000001" stroke="#13a87a" stroke-width="0.45" opacity="0.8"/>
<line x1="59.400000000000006" y1="94.87100000000001" x2="61.0" y2="94.87100000000001" stroke="#13a87a" stroke-width="0.45" opacity="0.8"/>
<line x1="67.75999999999999" y1="85.845" x2="67.75999999999999" y2="92.845" stroke="#13a87a" stroke-width="0.55" opacity="0.8"/>
<line x1="66.96" y1="85.845" x2="68.55999999999999" y2="85.845" stroke="#13a87a" stroke-width="0.45" opacity="0.8"/>
<line x1="66.96" y1="92.845" x2="68.55999999999999" y2="92.845" stroke="#13a87a" stroke-width="0.45" opacity="0.8"/>
<line x1="75.32" y1="82.806" x2="75.32" y2="89.806" stroke="#13a87a" stroke-width="0.55" opacity="0.8"/>
<line x1="74.52" y1="82.806" x2="76.11999999999999" y2="82.806" stroke="#13a87a" stroke-width="0.45" opacity="0.8"/>
<line x1="74.52" y1="89.806" x2="76.11999999999999" y2="89.806" stroke="#13a87a" stroke-width="0.45" opacity="0.8"/>
<line x1="82.88" y1="79.767" x2="82.88" y2="86.767" stroke="#13a87a" stroke-width="0.55" opacity="0.8"/>
<line x1="82.08" y1="79.767" x2="83.67999999999999" y2="79.767" stroke="#13a87a" stroke-width="0.45" opacity="0.8"/>
<line x1="82.08" y1="86.767" x2="83.67999999999999" y2="86.767" stroke="#13a87a" stroke-width="0.45" opacity="0.8"/>
<line x1="90.44" y1="75.715" x2="90.44" y2="82.715" stroke="#13a87a" stroke-width="0.55" opacity="0.8"/>
<line x1="89.64" y1="75.715" x2="91.24" y2="75.715" stroke="#13a87a" stroke-width="0.45" opacity="0.8"/>
<line x1="89.64" y1="82.715" x2="91.24" y2="82.715" stroke="#13a87a" stroke-width="0.45" opacity="0.8"/>
<polyline points="37.52,102.41 45.08,97.45 52.64,96.44 60.20,91.37 67.76,89.34 75.32,86.31 82.88,83.27 90.44,79.22 98.00,70.10" fill="none" stroke="#13a87a" stroke-width="1.55" stroke-linejoin="round"/>
<circle cx="37.5" cy="102.4" r="0.9" fill="#13a87a"/>
<circle cx="45.1" cy="97.4" r="0.9" fill="#13a87a"/>
<circle cx="52.6" cy="96.4" r="0.9" fill="#13a87a"/>
<circle cx="60.2" cy="91.4" r="0.9" fill="#13a87a"/>
<circle cx="67.8" cy="89.3" r="0.9" fill="#13a87a"/>
<circle cx="75.3" cy="86.3" r="0.9" fill="#13a87a"/>
<circle cx="82.9" cy="83.3" r="0.9" fill="#13a87a"/>
<circle cx="90.4" cy="79.2" r="0.9" fill="#13a87a"/>
<line x1="37.519999999999996" y1="105.092" x2="37.519999999999996" y2="112.092" stroke="#f0706d" stroke-width="0.55" opacity="0.8"/>
<line x1="36.72" y1="105.092" x2="38.31999999999999" y2="105.092" stroke="#f0706d" stroke-width="0.45" opacity="0.8"/>
<line x1="36.72" y1="112.092" x2="38.31999999999999" y2="112.092" stroke="#f0706d" stroke-width="0.45" opacity="0.8"/>
<line x1="45.08" y1="101.03999999999999" x2="45.08" y2="108.03999999999999" stroke="#f0706d" stroke-width="0.55" opacity="0.8"/>
<line x1="44.28" y1="101.03999999999999" x2="45.879999999999995" y2="101.03999999999999" stroke="#f0706d" stroke-width="0.45" opacity="0.8"/>
<line x1="44.28" y1="108.03999999999999" x2="45.879999999999995" y2="108.03999999999999" stroke="#f0706d" stroke-width="0.45" opacity="0.8"/>
<line x1="52.64" y1="96.988" x2="52.64" y2="103.988" stroke="#f0706d" stroke-width="0.55" opacity="0.8"/>
<line x1="51.84" y1="96.988" x2="53.44" y2="96.988" stroke="#f0706d" stroke-width="0.45" opacity="0.8"/>
<line x1="51.84" y1="103.988" x2="53.44" y2="103.988" stroke="#f0706d" stroke-width="0.45" opacity="0.8"/>
<line x1="60.2" y1="93.949" x2="60.2" y2="100.949" stroke="#f0706d" stroke-width="0.55" opacity="0.8"/>
<line x1="59.400000000000006" y1="93.949" x2="61.0" y2="93.949" stroke="#f0706d" stroke-width="0.45" opacity="0.8"/>
<line x1="59.400000000000006" y1="100.949" x2="61.0" y2="100.949" stroke="#f0706d" stroke-width="0.45" opacity="0.8"/>
<line x1="67.75999999999999" y1="90.91" x2="67.75999999999999" y2="97.91" stroke="#f0706d" stroke-width="0.55" opacity="0.8"/>
<line x1="66.96" y1="90.91" x2="68.55999999999999" y2="90.91" stroke="#f0706d" stroke-width="0.45" opacity="0.8"/>
<line x1="66.96" y1="97.91" x2="68.55999999999999" y2="97.91" stroke="#f0706d" stroke-width="0.45" opacity="0.8"/>
<line x1="75.32" y1="87.87100000000001" x2="75.32" y2="94.87100000000001" stroke="#f0706d" stroke-width="0.55" opacity="0.8"/>
<line x1="74.52" y1="87.87100000000001" x2="76.11999999999999" y2="87.87100000000001" stroke="#f0706d" stroke-width="0.45" opacity="0.8"/>
<line x1="74.52" y1="94.87100000000001" x2="76.11999999999999" y2="94.87100000000001" stroke="#f0706d" stroke-width="0.45" opacity="0.8"/>
<line x1="82.88" y1="83.819" x2="82.88" y2="90.819" stroke="#f0706d" stroke-width="0.55" opacity="0.8"/>
<line x1="82.08" y1="83.819" x2="83.67999999999999" y2="83.819" stroke="#f0706d" stroke-width="0.45" opacity="0.8"/>
<line x1="82.08" y1="90.819" x2="83.67999999999999" y2="90.819" stroke="#f0706d" stroke-width="0.45" opacity="0.8"/>
<line x1="90.44" y1="78.754" x2="90.44" y2="85.754" stroke="#f0706d" stroke-width="0.55" opacity="0.8"/>
<line x1="89.64" y1="78.754" x2="91.24" y2="78.754" stroke="#f0706d" stroke-width="0.45" opacity="0.8"/>
<line x1="89.64" y1="85.754" x2="91.24" y2="85.754" stroke="#f0706d" stroke-width="0.45" opacity="0.8"/>
<polyline points="37.52,108.59 45.08,104.54 52.64,100.49 60.20,97.45 67.76,94.41 75.32,91.37 82.88,87.32 90.44,82.25 98.00,70.10" fill="none" stroke="#f0706d" stroke-width="1.55" stroke-linejoin="round"/>
<circle cx="37.5" cy="108.6" r="0.9" fill="#f0706d"/>
<circle cx="45.1" cy="104.5" r="0.9" fill="#f0706d"/>
<circle cx="52.6" cy="100.5" r="0.9" fill="#f0706d"/>
<circle cx="60.2" cy="97.4" r="0.9" fill="#f0706d"/>
<circle cx="67.8" cy="94.4" r="0.9" fill="#f0706d"/>
<circle cx="75.3" cy="91.4" r="0.9" fill="#f0706d"/>
<circle cx="82.9" cy="87.3" r="0.9" fill="#f0706d"/>
<circle cx="90.4" cy="82.3" r="0.9" fill="#f0706d"/>
<line x1="118.32000000000001" y1="66.29410000000001" x2="118.32000000000001" y2="73.29410000000001" stroke="#4a80cc" stroke-width="0.55" opacity="0.8"/>
<line x1="117.52000000000001" y1="66.29410000000001" x2="119.12" y2="66.29410000000001" stroke="#4a80cc" stroke-width="0.45" opacity="0.8"/>
<line x1="117.52000000000001" y1="73.29410000000001" x2="119.12" y2="73.29410000000001" stroke="#4a80cc" stroke-width="0.45" opacity="0.8"/>
<line x1="125.94" y1="66.0915" x2="125.94" y2="73.0915" stroke="#4a80cc" stroke-width="0.55" opacity="0.8"/>
<line x1="125.14" y1="66.0915" x2="126.74" y2="66.0915" stroke="#4a80cc" stroke-width="0.45" opacity="0.8"/>
<line x1="125.14" y1="73.0915" x2="126.74" y2="73.0915" stroke="#4a80cc" stroke-width="0.45" opacity="0.8"/>
<line x1="133.56" y1="66.598" x2="133.56" y2="73.598" stroke="#4a80cc" stroke-width="0.55" opacity="0.8"/>
<line x1="132.76" y1="66.598" x2="134.36" y2="66.598" stroke="#4a80cc" stroke-width="0.45" opacity="0.8"/>
<line x1="132.76" y1="73.598" x2="134.36" y2="73.598" stroke="#4a80cc" stroke-width="0.45" opacity="0.8"/>
<line x1="141.18" y1="64.0655" x2="141.18" y2="71.0655" stroke="#4a80cc" stroke-width="0.55" opacity="0.8"/>
<line x1="140.38" y1="64.0655" x2="141.98000000000002" y2="64.0655" stroke="#4a80cc" stroke-width="0.45" opacity="0.8"/>
<line x1="140.38" y1="71.0655" x2="141.98000000000002" y2="71.0655" stroke="#4a80cc" stroke-width="0.45" opacity="0.8"/>
<line x1="148.8" y1="63.559" x2="148.8" y2="70.559" stroke="#4a80cc" stroke-width="0.55" opacity="0.8"/>
<line x1="148.0" y1="63.559" x2="149.60000000000002" y2="63.559" stroke="#4a80cc" stroke-width="0.45" opacity="0.8"/>
<line x1="148.0" y1="70.559" x2="149.60000000000002" y2="70.559" stroke="#4a80cc" stroke-width="0.45" opacity="0.8"/>
<line x1="156.42000000000002" y1="64.0655" x2="156.42000000000002" y2="71.0655" stroke="#4a80cc" stroke-width="0.55" opacity="0.8"/>
<line x1="155.62" y1="64.0655" x2="157.22000000000003" y2="64.0655" stroke="#4a80cc" stroke-width="0.45" opacity="0.8"/>
<line x1="155.62" y1="71.0655" x2="157.22000000000003" y2="71.0655" stroke="#4a80cc" stroke-width="0.45" opacity="0.8"/>
<line x1="164.04000000000002" y1="64.572" x2="164.04000000000002" y2="71.572" stroke="#4a80cc" stroke-width="0.55" opacity="0.8"/>
<line x1="163.24" y1="64.572" x2="164.84000000000003" y2="64.572" stroke="#4a80cc" stroke-width="0.45" opacity="0.8"/>
<line x1="163.24" y1="71.572" x2="164.84000000000003" y2="71.572" stroke="#4a80cc" stroke-width="0.45" opacity="0.8"/>
<line x1="171.66" y1="65.0785" x2="171.66" y2="72.0785" stroke="#4a80cc" stroke-width="0.55" opacity="0.8"/>
<line x1="170.85999999999999" y1="65.0785" x2="172.46" y2="65.0785" stroke="#4a80cc" stroke-width="0.45" opacity="0.8"/>
<line x1="170.85999999999999" y1="72.0785" x2="172.46" y2="72.0785" stroke="#4a80cc" stroke-width="0.45" opacity="0.8"/>
<polyline points="110.70,70.10 118.32,69.79 125.94,69.59 133.56,70.10 141.18,67.57 148.80,67.06 156.42,67.57 164.04,68.07 171.66,68.58" fill="none" stroke="#4a80cc" stroke-width="1.55" stroke-linejoin="round"/>
<circle cx="118.3" cy="69.8" r="0.9" fill="#4a80cc"/>
<circle cx="125.9" cy="69.6" r="0.9" fill="#4a80cc"/>
<circle cx="133.6" cy="70.1" r="0.9" fill="#4a80cc"/>
<circle cx="141.2" cy="67.6" r="0.9" fill="#4a80cc"/>
<circle cx="148.8" cy="67.1" r="0.9" fill="#4a80cc"/>
<circle cx="156.4" cy="67.6" r="0.9" fill="#4a80cc"/>
<circle cx="164.0" cy="68.1" r="0.9" fill="#4a80cc"/>
<circle cx="171.7" cy="68.6" r="0.9" fill="#4a80cc"/>
<line x1="118.32000000000001" y1="66.598" x2="118.32000000000001" y2="73.598" stroke="#86c447" stroke-width="0.55" opacity="0.8"/>
<line x1="117.52000000000001" y1="66.598" x2="119.12" y2="66.598" stroke="#86c447" stroke-width="0.45" opacity="0.8"/>
<line x1="117.52000000000001" y1="73.598" x2="119.12" y2="73.598" stroke="#86c447" stroke-width="0.45" opacity="0.8"/>
<line x1="125.94" y1="66.598" x2="125.94" y2="73.598" stroke="#86c447" stroke-width="0.55" opacity="0.8"/>
<line x1="125.14" y1="66.598" x2="126.74" y2="66.598" stroke="#86c447" stroke-width="0.45" opacity="0.8"/>
<line x1="125.14" y1="73.598" x2="126.74" y2="73.598" stroke="#86c447" stroke-width="0.45" opacity="0.8"/>
<line x1="133.56" y1="67.611" x2="133.56" y2="74.611" stroke="#86c447" stroke-width="0.55" opacity="0.8"/>
<line x1="132.76" y1="67.611" x2="134.36" y2="67.611" stroke="#86c447" stroke-width="0.45" opacity="0.8"/>
<line x1="132.76" y1="74.611" x2="134.36" y2="74.611" stroke="#86c447" stroke-width="0.45" opacity="0.8"/>
<line x1="141.18" y1="64.572" x2="141.18" y2="71.572" stroke="#86c447" stroke-width="0.55" opacity="0.8"/>
<line x1="140.38" y1="64.572" x2="141.98000000000002" y2="64.572" stroke="#86c447" stroke-width="0.45" opacity="0.8"/>
<line x1="140.38" y1="71.572" x2="141.98000000000002" y2="71.572" stroke="#86c447" stroke-width="0.45" opacity="0.8"/>
<line x1="148.8" y1="64.572" x2="148.8" y2="71.572" stroke="#86c447" stroke-width="0.55" opacity="0.8"/>
<line x1="148.0" y1="64.572" x2="149.60000000000002" y2="64.572" stroke="#86c447" stroke-width="0.45" opacity="0.8"/>
<line x1="148.0" y1="71.572" x2="149.60000000000002" y2="71.572" stroke="#86c447" stroke-width="0.45" opacity="0.8"/>
<line x1="156.42000000000002" y1="65.58500000000001" x2="156.42000000000002" y2="72.58500000000001" stroke="#86c447" stroke-width="0.55" opacity="0.8"/>
<line x1="155.62" y1="65.58500000000001" x2="157.22000000000003" y2="65.58500000000001" stroke="#86c447" stroke-width="0.45" opacity="0.8"/>
<line x1="155.62" y1="72.58500000000001" x2="157.22000000000003" y2="72.58500000000001" stroke="#86c447" stroke-width="0.45" opacity="0.8"/>
<line x1="164.04000000000002" y1="65.58500000000001" x2="164.04000000000002" y2="72.58500000000001" stroke="#86c447" stroke-width="0.55" opacity="0.8"/>
<line x1="163.24" y1="65.58500000000001" x2="164.84000000000003" y2="65.58500000000001" stroke="#86c447" stroke-width="0.45" opacity="0.8"/>
<line x1="163.24" y1="72.58500000000001" x2="164.84000000000003" y2="72.58500000000001" stroke="#86c447" stroke-width="0.45" opacity="0.8"/>
<line x1="171.66" y1="66.598" x2="171.66" y2="73.598" stroke="#86c447" stroke-width="0.55" opacity="0.8"/>
<line x1="170.85999999999999" y1="66.598" x2="172.46" y2="66.598" stroke="#86c447" stroke-width="0.45" opacity="0.8"/>
<line x1="170.85999999999999" y1="73.598" x2="172.46" y2="73.598" stroke="#86c447" stroke-width="0.45" opacity="0.8"/>
<polyline points="110.70,70.10 118.32,70.10 125.94,70.10 133.56,71.11 141.18,68.07 148.80,68.07 156.42,69.09 164.04,69.09 171.66,70.10" fill="none" stroke="#86c447" stroke-width="1.55" stroke-linejoin="round"/>
<line x1="108.1" y1="124.8" x2="110.7" y2="70.098" stroke="#9ccf62" stroke-width="1.1"/>
<circle cx="118.3" cy="70.1" r="0.9" fill="#86c447"/>
<circle cx="125.9" cy="70.1" r="0.9" fill="#86c447"/>
<circle cx="133.6" cy="71.1" r="0.9" fill="#86c447"/>
<circle cx="141.2" cy="68.1" r="0.9" fill="#86c447"/>
<circle cx="148.8" cy="68.1" r="0.9" fill="#86c447"/>
<circle cx="156.4" cy="69.1" r="0.9" fill="#86c447"/>
<circle cx="164.0" cy="69.1" r="0.9" fill="#86c447"/>
<circle cx="171.7" cy="70.1" r="0.9" fill="#86c447"/>
<line x1="118.32000000000001" y1="67.611" x2="118.32000000000001" y2="74.611" stroke="#cc3d3d" stroke-width="0.55" opacity="0.8"/>
<line x1="117.52000000000001" y1="67.611" x2="119.12" y2="67.611" stroke="#cc3d3d" stroke-width="0.45" opacity="0.8"/>
<line x1="117.52000000000001" y1="74.611" x2="119.12" y2="74.611" stroke="#cc3d3d" stroke-width="0.45" opacity="0.8"/>
<line x1="125.94" y1="68.624" x2="125.94" y2="75.624" stroke="#cc3d3d" stroke-width="0.55" opacity="0.8"/>
<line x1="125.14" y1="68.624" x2="126.74" y2="68.624" stroke="#cc3d3d" stroke-width="0.45" opacity="0.8"/>
<line x1="125.14" y1="75.624" x2="126.74" y2="75.624" stroke="#cc3d3d" stroke-width="0.45" opacity="0.8"/>
<line x1="133.56" y1="69.637" x2="133.56" y2="76.637" stroke="#cc3d3d" stroke-width="0.55" opacity="0.8"/>
<line x1="132.76" y1="69.637" x2="134.36" y2="69.637" stroke="#cc3d3d" stroke-width="0.45" opacity="0.8"/>
<line x1="132.76" y1="76.637" x2="134.36" y2="76.637" stroke="#cc3d3d" stroke-width="0.45" opacity="0.8"/>
<line x1="141.18" y1="70.65" x2="141.18" y2="77.65" stroke="#cc3d3d" stroke-width="0.55" opacity="0.8"/>
<line x1="140.38" y1="70.65" x2="141.98000000000002" y2="70.65" stroke="#cc3d3d" stroke-width="0.45" opacity="0.8"/>
<line x1="140.38" y1="77.65" x2="141.98000000000002" y2="77.65" stroke="#cc3d3d" stroke-width="0.45" opacity="0.8"/>
<line x1="148.8" y1="70.65" x2="148.8" y2="77.65" stroke="#cc3d3d" stroke-width="0.55" opacity="0.8"/>
<line x1="148.0" y1="70.65" x2="149.60000000000002" y2="70.65" stroke="#cc3d3d" stroke-width="0.45" opacity="0.8"/>
<line x1="148.0" y1="77.65" x2="149.60000000000002" y2="77.65" stroke="#cc3d3d" stroke-width="0.45" opacity="0.8"/>
<line x1="156.42000000000002" y1="68.624" x2="156.42000000000002" y2="75.624" stroke="#cc3d3d" stroke-width="0.55" opacity="0.8"/>
<line x1="155.62" y1="68.624" x2="157.22000000000003" y2="68.624" stroke="#cc3d3d" stroke-width="0.45" opacity="0.8"/>
<line x1="155.62" y1="75.624" x2="157.22000000000003" y2="75.624" stroke="#cc3d3d" stroke-width="0.45" opacity="0.8"/>
<line x1="164.04000000000002" y1="70.65" x2="164.04000000000002" y2="77.65" stroke="#cc3d3d" stroke-width="0.55" opacity="0.8"/>
<line x1="163.24" y1="70.65" x2="164.84000000000003" y2="70.65" stroke="#cc3d3d" stroke-width="0.45" opacity="0.8"/>
<line x1="163.24" y1="77.65" x2="164.84000000000003" y2="77.65" stroke="#cc3d3d" stroke-width="0.45" opacity="0.8"/>
<line x1="171.66" y1="70.65" x2="171.66" y2="77.65" stroke="#cc3d3d" stroke-width="0.55" opacity="0.8"/>
<line x1="170.85999999999999" y1="70.65" x2="172.46" y2="70.65" stroke="#cc3d3d" stroke-width="0.45" opacity="0.8"/>
<line x1="170.85999999999999" y1="77.65" x2="172.46" y2="77.65" stroke="#cc3d3d" stroke-width="0.45" opacity="0.8"/>
<polyline points="110.70,70.10 118.32,71.11 125.94,72.12 133.56,73.14 141.18,74.15 148.80,74.15 156.42,72.12 164.04,74.15 171.66,74.15" fill="none" stroke="#cc3d3d" stroke-width="1.55" stroke-linejoin="round"/>
<circle cx="118.3" cy="71.1" r="0.9" fill="#cc3d3d"/>
<circle cx="125.9" cy="72.1" r="0.9" fill="#cc3d3d"/>
<circle cx="133.6" cy="73.1" r="0.9" fill="#cc3d3d"/>
<circle cx="141.2" cy="74.2" r="0.9" fill="#cc3d3d"/>
<circle cx="148.8" cy="74.2" r="0.9" fill="#cc3d3d"/>
<circle cx="156.4" cy="72.1" r="0.9" fill="#cc3d3d"/>
<circle cx="164.0" cy="74.2" r="0.9" fill="#cc3d3d"/>
<circle cx="171.7" cy="74.2" r="0.9" fill="#cc3d3d"/>
<line x1="118.32000000000001" y1="68.624" x2="118.32000000000001" y2="75.624" stroke="#f2ae24" stroke-width="0.55" opacity="0.8"/>
<line x1="117.52000000000001" y1="68.624" x2="119.12" y2="68.624" stroke="#f2ae24" stroke-width="0.45" opacity="0.8"/>
<line x1="117.52000000000001" y1="75.624" x2="119.12" y2="75.624" stroke="#f2ae24" stroke-width="0.45" opacity="0.8"/>
<line x1="125.94" y1="75.715" x2="125.94" y2="82.715" stroke="#f2ae24" stroke-width="0.55" opacity="0.8"/>
<line x1="125.14" y1="75.715" x2="126.74" y2="75.715" stroke="#f2ae24" stroke-width="0.45" opacity="0.8"/>
<line x1="125.14" y1="82.715" x2="126.74" y2="82.715" stroke="#f2ae24" stroke-width="0.45" opacity="0.8"/>
<line x1="133.56" y1="77.741" x2="133.56" y2="84.741" stroke="#f2ae24" stroke-width="0.55" opacity="0.8"/>
<line x1="132.76" y1="77.741" x2="134.36" y2="77.741" stroke="#f2ae24" stroke-width="0.45" opacity="0.8"/>
<line x1="132.76" y1="84.741" x2="134.36" y2="84.741" stroke="#f2ae24" stroke-width="0.45" opacity="0.8"/>
<line x1="141.18" y1="78.754" x2="141.18" y2="85.754" stroke="#f2ae24" stroke-width="0.55" opacity="0.8"/>
<line x1="140.38" y1="78.754" x2="141.98000000000002" y2="78.754" stroke="#f2ae24" stroke-width="0.45" opacity="0.8"/>
<line x1="140.38" y1="85.754" x2="141.98000000000002" y2="85.754" stroke="#f2ae24" stroke-width="0.45" opacity="0.8"/>
<line x1="148.8" y1="80.78" x2="148.8" y2="87.78" stroke="#f2ae24" stroke-width="0.55" opacity="0.8"/>
<line x1="148.0" y1="80.78" x2="149.60000000000002" y2="80.78" stroke="#f2ae24" stroke-width="0.45" opacity="0.8"/>
<line x1="148.0" y1="87.78" x2="149.60000000000002" y2="87.78" stroke="#f2ae24" stroke-width="0.45" opacity="0.8"/>
<line x1="156.42000000000002" y1="81.793" x2="156.42000000000002" y2="88.793" stroke="#f2ae24" stroke-width="0.55" opacity="0.8"/>
<line x1="155.62" y1="81.793" x2="157.22000000000003" y2="81.793" stroke="#f2ae24" stroke-width="0.45" opacity="0.8"/>
<line x1="155.62" y1="88.793" x2="157.22000000000003" y2="88.793" stroke="#f2ae24" stroke-width="0.45" opacity="0.8"/>
<line x1="164.04000000000002" y1="82.806" x2="164.04000000000002" y2="89.806" stroke="#f2ae24" stroke-width="0.55" opacity="0.8"/>
<line x1="163.24" y1="82.806" x2="164.84000000000003" y2="82.806" stroke="#f2ae24" stroke-width="0.45" opacity="0.8"/>
<line x1="163.24" y1="89.806" x2="164.84000000000003" y2="89.806" stroke="#f2ae24" stroke-width="0.45" opacity="0.8"/>
<line x1="171.66" y1="83.819" x2="171.66" y2="90.819" stroke="#f2ae24" stroke-width="0.55" opacity="0.8"/>
<line x1="170.85999999999999" y1="83.819" x2="172.46" y2="83.819" stroke="#f2ae24" stroke-width="0.45" opacity="0.8"/>
<line x1="170.85999999999999" y1="90.819" x2="172.46" y2="90.819" stroke="#f2ae24" stroke-width="0.45" opacity="0.8"/>
<polyline points="110.70,70.10 118.32,72.12 125.94,79.22 133.56,81.24 141.18,82.25 148.80,84.28 156.42,85.29 164.04,86.31 171.66,87.32" fill="none" stroke="#f2ae24" stroke-width="1.55" stroke-linejoin="round"/>
<circle cx="118.3" cy="72.1" r="0.9" fill="#f2ae24"/>
<circle cx="125.9" cy="79.2" r="0.9" fill="#f2ae24"/>
<circle cx="133.6" cy="81.2" r="0.9" fill="#f2ae24"/>
<circle cx="141.2" cy="82.3" r="0.9" fill="#f2ae24"/>
<circle cx="148.8" cy="84.3" r="0.9" fill="#f2ae24"/>
<circle cx="156.4" cy="85.3" r="0.9" fill="#f2ae24"/>
<circle cx="164.0" cy="86.3" r="0.9" fill="#f2ae24"/>
<circle cx="171.7" cy="87.3" r="0.9" fill="#f2ae24"/>
<line x1="118.32000000000001" y1="78.754" x2="118.32000000000001" y2="85.754" stroke="#13a87a" stroke-width="0.55" opacity="0.8"/>
<line x1="117.52000000000001" y1="78.754" x2="119.12" y2="78.754" stroke="#13a87a" stroke-width="0.45" opacity="0.8"/>
<line x1="117.52000000000001" y1="85.754" x2="119.12" y2="85.754" stroke="#13a87a" stroke-width="0.45" opacity="0.8"/>
<line x1="125.94" y1="82.806" x2="125.94" y2="89.806" stroke="#13a87a" stroke-width="0.55" opacity="0.8"/>
<line x1="125.14" y1="82.806" x2="126.74" y2="82.806" stroke="#13a87a" stroke-width="0.45" opacity="0.8"/>
<line x1="125.14" y1="89.806" x2="126.74" y2="89.806" stroke="#13a87a" stroke-width="0.45" opacity="0.8"/>
<line x1="133.56" y1="86.858" x2="133.56" y2="93.858" stroke="#13a87a" stroke-width="0.55" opacity="0.8"/>
<line x1="132.76" y1="86.858" x2="134.36" y2="86.858" stroke="#13a87a" stroke-width="0.45" opacity="0.8"/>
<line x1="132.76" y1="93.858" x2="134.36" y2="93.858" stroke="#13a87a" stroke-width="0.45" opacity="0.8"/>
<line x1="141.18" y1="88.884" x2="141.18" y2="95.884" stroke="#13a87a" stroke-width="0.55" opacity="0.8"/>
<line x1="140.38" y1="88.884" x2="141.98000000000002" y2="88.884" stroke="#13a87a" stroke-width="0.45" opacity="0.8"/>
<line x1="140.38" y1="95.884" x2="141.98000000000002" y2="95.884" stroke="#13a87a" stroke-width="0.45" opacity="0.8"/>
<line x1="148.8" y1="92.936" x2="148.8" y2="99.936" stroke="#13a87a" stroke-width="0.55" opacity="0.8"/>
<line x1="148.0" y1="92.936" x2="149.60000000000002" y2="92.936" stroke="#13a87a" stroke-width="0.45" opacity="0.8"/>
<line x1="148.0" y1="99.936" x2="149.60000000000002" y2="99.936" stroke="#13a87a" stroke-width="0.45" opacity="0.8"/>
<line x1="156.42000000000002" y1="94.962" x2="156.42000000000002" y2="101.962" stroke="#13a87a" stroke-width="0.55" opacity="0.8"/>
<line x1="155.62" y1="94.962" x2="157.22000000000003" y2="94.962" stroke="#13a87a" stroke-width="0.45" opacity="0.8"/>
<line x1="155.62" y1="101.962" x2="157.22000000000003" y2="101.962" stroke="#13a87a" stroke-width="0.45" opacity="0.8"/>
<line x1="164.04000000000002" y1="95.975" x2="164.04000000000002" y2="102.975" stroke="#13a87a" stroke-width="0.55" opacity="0.8"/>
<line x1="163.24" y1="95.975" x2="164.84000000000003" y2="95.975" stroke="#13a87a" stroke-width="0.45" opacity="0.8"/>
<line x1="163.24" y1="102.975" x2="164.84000000000003" y2="102.975" stroke="#13a87a" stroke-width="0.45" opacity="0.8"/>
<line x1="171.66" y1="98.001" x2="171.66" y2="105.001" stroke="#13a87a" stroke-width="0.55" opacity="0.8"/>
<line x1="170.85999999999999" y1="98.001" x2="172.46" y2="98.001" stroke="#13a87a" stroke-width="0.45" opacity="0.8"/>
<line x1="170.85999999999999" y1="105.001" x2="172.46" y2="105.001" stroke="#13a87a" stroke-width="0.45" opacity="0.8"/>
<polyline points="110.70,70.10 118.32,82.25 125.94,86.31 133.56,90.36 141.18,92.38 148.80,96.44 156.42,98.46 164.04,99.47 171.66,101.50" fill="none" stroke="#13a87a" stroke-width="1.55" stroke-linejoin="round"/>
<circle cx="118.3" cy="82.3" r="0.9" fill="#13a87a"/>
<circle cx="125.9" cy="86.3" r="0.9" fill="#13a87a"/>
<circle cx="133.6" cy="90.4" r="0.9" fill="#13a87a"/>
<circle cx="141.2" cy="92.4" r="0.9" fill="#13a87a"/>
<circle cx="148.8" cy="96.4" r="0.9" fill="#13a87a"/>
<circle cx="156.4" cy="98.5" r="0.9" fill="#13a87a"/>
<circle cx="164.0" cy="99.5" r="0.9" fill="#13a87a"/>
<circle cx="171.7" cy="101.5" r="0.9" fill="#13a87a"/>
<line x1="118.32000000000001" y1="81.793" x2="118.32000000000001" y2="88.793" stroke="#f0706d" stroke-width="0.55" opacity="0.8"/>
<line x1="117.52000000000001" y1="81.793" x2="119.12" y2="81.793" stroke="#f0706d" stroke-width="0.45" opacity="0.8"/>
<line x1="117.52000000000001" y1="88.793" x2="119.12" y2="88.793" stroke="#f0706d" stroke-width="0.45" opacity="0.8"/>
<line x1="125.94" y1="84.832" x2="125.94" y2="91.832" stroke="#f0706d" stroke-width="0.55" opacity="0.8"/>
<line x1="125.14" y1="84.832" x2="126.74" y2="84.832" stroke="#f0706d" stroke-width="0.45" opacity="0.8"/>
<line x1="125.14" y1="91.832" x2="126.74" y2="91.832" stroke="#f0706d" stroke-width="0.45" opacity="0.8"/>
<line x1="133.56" y1="89.89699999999999" x2="133.56" y2="96.89699999999999" stroke="#f0706d" stroke-width="0.55" opacity="0.8"/>
<line x1="132.76" y1="89.89699999999999" x2="134.36" y2="89.89699999999999" stroke="#f0706d" stroke-width="0.45" opacity="0.8"/>
<line x1="132.76" y1="96.89699999999999" x2="134.36" y2="96.89699999999999" stroke="#f0706d" stroke-width="0.45" opacity="0.8"/>
<line x1="141.18" y1="91.923" x2="141.18" y2="98.923" stroke="#f0706d" stroke-width="0.55" opacity="0.8"/>
<line x1="140.38" y1="91.923" x2="141.98000000000002" y2="91.923" stroke="#f0706d" stroke-width="0.45" opacity="0.8"/>
<line x1="140.38" y1="98.923" x2="141.98000000000002" y2="98.923" stroke="#f0706d" stroke-width="0.45" opacity="0.8"/>
<line x1="148.8" y1="96.988" x2="148.8" y2="103.988" stroke="#f0706d" stroke-width="0.55" opacity="0.8"/>
<line x1="148.0" y1="96.988" x2="149.60000000000002" y2="96.988" stroke="#f0706d" stroke-width="0.45" opacity="0.8"/>
<line x1="148.0" y1="103.988" x2="149.60000000000002" y2="103.988" stroke="#f0706d" stroke-width="0.45" opacity="0.8"/>
<line x1="156.42000000000002" y1="99.014" x2="156.42000000000002" y2="106.014" stroke="#f0706d" stroke-width="0.55" opacity="0.8"/>
<line x1="155.62" y1="99.014" x2="157.22000000000003" y2="99.014" stroke="#f0706d" stroke-width="0.45" opacity="0.8"/>
<line x1="155.62" y1="106.014" x2="157.22000000000003" y2="106.014" stroke="#f0706d" stroke-width="0.45" opacity="0.8"/>
<line x1="164.04000000000002" y1="102.053" x2="164.04000000000002" y2="109.053" stroke="#f0706d" stroke-width="0.55" opacity="0.8"/>
<line x1="163.24" y1="102.053" x2="164.84000000000003" y2="102.053" stroke="#f0706d" stroke-width="0.45" opacity="0.8"/>
<line x1="163.24" y1="109.053" x2="164.84000000000003" y2="109.053" stroke="#f0706d" stroke-width="0.45" opacity="0.8"/>
<line x1="171.66" y1="107.118" x2="171.66" y2="114.118" stroke="#f0706d" stroke-width="0.55" opacity="0.8"/>
<line x1="170.85999999999999" y1="107.118" x2="172.46" y2="107.118" stroke="#f0706d" stroke-width="0.45" opacity="0.8"/>
<line x1="170.85999999999999" y1="114.118" x2="172.46" y2="114.118" stroke="#f0706d" stroke-width="0.45" opacity="0.8"/>
<polyline points="110.70,70.10 118.32,85.29 125.94,88.33 133.56,93.40 141.18,95.42 148.80,100.49 156.42,102.51 164.04,105.55 171.66,110.62" fill="none" stroke="#f0706d" stroke-width="1.55" stroke-linejoin="round"/>
<circle cx="118.3" cy="85.3" r="0.9" fill="#f0706d"/>
<circle cx="125.9" cy="88.3" r="0.9" fill="#f0706d"/>
<circle cx="133.6" cy="93.4" r="0.9" fill="#f0706d"/>
<circle cx="141.2" cy="95.4" r="0.9" fill="#f0706d"/>
<circle cx="148.8" cy="100.5" r="0.9" fill="#f0706d"/>
<circle cx="156.4" cy="102.5" r="0.9" fill="#f0706d"/>
<circle cx="164.0" cy="105.6" r="0.9" fill="#f0706d"/>
<circle cx="171.7" cy="110.6" r="0.9" fill="#f0706d"/>
<polyline points="34.4,70 32.4,70 32.4,90.2 34.4,90.2" fill="none" stroke="#555" stroke-width="0.6"/>
<polyline points="29.6,70.1 27.6,70.1 27.6,109.8 29.6,109.8" fill="none" stroke="#555" stroke-width="0.6"/>
<text x="30.2" y="81" font-size="4" text-anchor="middle" fill="#1a1a1a">*</text>
<text x="25.6" y="92" font-size="4.5" text-anchor="middle" fill="#1a1a1a" transform="rotate(-90 25.6 92)">**</text>
<polyline points="174.6,70.1 176.6,70.1 176.6,87.4 174.6,87.4" fill="none" stroke="#555" stroke-width="0.6"/>
<polyline points="179.6,70.1 181.6,70.1 181.6,111.2 179.6,111.2" fill="none" stroke="#555" stroke-width="0.6"/>
<text x="178.8" y="81" font-size="4.5" text-anchor="middle" fill="#1a1a1a">*</text>
<text x="183.2" y="90" font-size="4.5" text-anchor="middle" fill="#1a1a1a" transform="rotate(90 183.2 90)">**</text>
<text x="190" y="14.2" font-size="12.5" text-anchor="start" fill="#1a1a1a">(b)</text>
<line x1="202.3" y1="17.7" x2="213.7" y2="17.7" stroke="#444444" stroke-width="1.1"/>
<circle cx="208.0" cy="17.7" r="0.9" fill="#444444"/>
<text x="220.3" y="20.7" font-size="8.6" text-anchor="start" fill="#1a1a1a">Control</text>
<line x1="251.4" y1="17.7" x2="262" y2="17.7" stroke="#4a80cc" stroke-width="1.1"/>
<circle cx="256.7" cy="17.7" r="0.9" fill="#4a80cc"/>
<text x="266.5" y="20.7" font-size="8.6" text-anchor="start" fill="#1a1a1a">AT</text>
<line x1="289" y1="17.7" x2="301" y2="17.7" stroke="#13a87a" stroke-width="1.1"/>
<circle cx="295.0" cy="17.7" r="0.9" fill="#13a87a"/>
<text x="307.3" y="20.7" font-size="8.6" text-anchor="start" fill="#1a1a1a">KAT</text>
<line x1="328" y1="17.7" x2="340" y2="17.7" stroke="#f0706d" stroke-width="1.1"/>
<circle cx="334.0" cy="17.7" r="0.9" fill="#f0706d"/>
<text x="346.4" y="20.7" font-size="8.6" text-anchor="start" fill="#1a1a1a">AKAT</text>
<line x1="202.3" y1="26.5" x2="213.7" y2="26.5" stroke="#86c447" stroke-width="1.1"/>
<circle cx="208.0" cy="26.5" r="0.9" fill="#86c447"/>
<text x="220.3" y="29.5" font-size="8.6" text-anchor="start" fill="#1a1a1a">Model</text>
<line x1="251.4" y1="26.5" x2="262" y2="26.5" stroke="#cc3d3d" stroke-width="1.1"/>
<circle cx="256.7" cy="26.5" r="0.9" fill="#cc3d3d"/>
<text x="266.5" y="29.5" font-size="8.6" text-anchor="start" fill="#1a1a1a">AAT</text>
<line x1="289" y1="26.5" x2="301" y2="26.5" stroke="#f2ae24" stroke-width="1.1"/>
<circle cx="295.0" cy="26.5" r="0.9" fill="#f2ae24"/>
<text x="307.3" y="29.5" font-size="8.6" text-anchor="start" fill="#1a1a1a">OAK</text>
<line x1="253.8" y1="50.5" x2="253.8" y2="134.6" stroke="#666" stroke-width="1.4"/>
<line x1="252" y1="129.3" x2="253.8" y2="129.3" stroke="#333" stroke-width="0.8"/>
<text x="251.5" y="131.3" font-size="6" text-anchor="end" font-weight="bold" stroke="#1a1a1a" stroke-width="0.3" fill="#1a1a1a">0</text>
<line x1="252" y1="113.73000000000002" x2="253.8" y2="113.73000000000002" stroke="#333" stroke-width="0.8"/>
<text x="251.5" y="115.73000000000002" font-size="6" text-anchor="end" font-weight="bold" stroke="#1a1a1a" stroke-width="0.3" fill="#1a1a1a">3</text>
<line x1="252" y1="98.16000000000001" x2="253.8" y2="98.16000000000001" stroke="#333" stroke-width="0.8"/>
<text x="251.5" y="100.16000000000001" font-size="6" text-anchor="end" font-weight="bold" stroke="#1a1a1a" stroke-width="0.3" fill="#1a1a1a">6</text>
<line x1="252" y1="82.59" x2="253.8" y2="82.59" stroke="#333" stroke-width="0.8"/>
<text x="251.5" y="84.59" font-size="6" text-anchor="end" font-weight="bold" stroke="#1a1a1a" stroke-width="0.3" fill="#1a1a1a">9</text>
<line x1="252" y1="67.02000000000001" x2="253.8" y2="67.02000000000001" stroke="#333" stroke-width="0.8"/>
<text x="251.5" y="69.02000000000001" font-size="6" text-anchor="end" font-weight="bold" stroke="#1a1a1a" stroke-width="0.3" fill="#1a1a1a">12</text>
<line x1="252" y1="51.45" x2="253.8" y2="51.45" stroke="#333" stroke-width="0.8"/>
<text x="251.5" y="53.45" font-size="6" text-anchor="end" font-weight="bold" stroke="#1a1a1a" stroke-width="0.3" fill="#1a1a1a">15</text>
<line x1="221" y1="134.3" x2="357" y2="134.3" stroke="#111" stroke-width="1.2"/>
<line x1="228.6" y1="129.3" x2="354" y2="129.3" stroke="#999" stroke-width="0.7"/>
<line x1="229.22" y1="132.0" x2="229.22" y2="134.4" stroke="#111" stroke-width="0.9"/>
<line x1="229.22" y1="128.2" x2="229.22" y2="129.3" stroke="#777" stroke-width="0.5"/>
<text x="229.22" y="142.3" font-size="6.2" text-anchor="middle" font-weight="bold" stroke="#1a1a1a" stroke-width="0.3" fill="#1a1a1a">-6</text>
<line x1="241.61" y1="132.0" x2="241.61" y2="134.4" stroke="#111" stroke-width="0.9"/>
<line x1="241.61" y1="128.2" x2="241.61" y2="129.3" stroke="#777" stroke-width="0.5"/>
<text x="241.61" y="142.3" font-size="6.2" text-anchor="middle" font-weight="bold" stroke="#1a1a1a" stroke-width="0.3" fill="#1a1a1a">-3</text>
<line x1="254.0" y1="132.0" x2="254.0" y2="134.4" stroke="#111" stroke-width="0.9"/>
<line x1="254.0" y1="128.2" x2="254.0" y2="129.3" stroke="#777" stroke-width="0.5"/>
<text x="254.0" y="142.3" font-size="6.2" text-anchor="middle" font-weight="bold" stroke="#1a1a1a" stroke-width="0.3" fill="#1a1a1a">0</text>
<line x1="266.39" y1="132.0" x2="266.39" y2="134.4" stroke="#111" stroke-width="0.9"/>
<line x1="266.39" y1="128.2" x2="266.39" y2="129.3" stroke="#777" stroke-width="0.5"/>
<text x="266.39" y="142.3" font-size="6.2" text-anchor="middle" font-weight="bold" stroke="#1a1a1a" stroke-width="0.3" fill="#1a1a1a">3</text>
<line x1="278.78" y1="132.0" x2="278.78" y2="134.4" stroke="#111" stroke-width="0.9"/>
<line x1="278.78" y1="128.2" x2="278.78" y2="129.3" stroke="#777" stroke-width="0.5"/>
<text x="278.78" y="142.3" font-size="6.2" text-anchor="middle" font-weight="bold" stroke="#1a1a1a" stroke-width="0.3" fill="#1a1a1a">6</text>
<line x1="291.17" y1="132.0" x2="291.17" y2="134.4" stroke="#111" stroke-width="0.9"/>
<line x1="291.17" y1="128.2" x2="291.17" y2="129.3" stroke="#777" stroke-width="0.5"/>
<text x="291.17" y="142.3" font-size="6.2" text-anchor="middle" font-weight="bold" stroke="#1a1a1a" stroke-width="0.3" fill="#1a1a1a">9</text>
<line x1="303.56" y1="132.0" x2="303.56" y2="134.4" stroke="#111" stroke-width="0.9"/>
<line x1="303.56" y1="128.2" x2="303.56" y2="129.3" stroke="#777" stroke-width="0.5"/>
<text x="303.56" y="142.3" font-size="6.2" text-anchor="middle" font-weight="bold" stroke="#1a1a1a" stroke-width="0.3" fill="#1a1a1a">12</text>
<line x1="315.95" y1="132.0" x2="315.95" y2="134.4" stroke="#111" stroke-width="0.9"/>
<line x1="315.95" y1="128.2" x2="315.95" y2="129.3" stroke="#777" stroke-width="0.5"/>
<text x="315.95" y="142.3" font-size="6.2" text-anchor="middle" font-weight="bold" stroke="#1a1a1a" stroke-width="0.3" fill="#1a1a1a">15</text>
<line x1="328.34000000000003" y1="132.0" x2="328.34000000000003" y2="134.4" stroke="#111" stroke-width="0.9"/>
<line x1="328.34000000000003" y1="128.2" x2="328.34000000000003" y2="129.3" stroke="#777" stroke-width="0.5"/>
<text x="328.34000000000003" y="142.3" font-size="6.2" text-anchor="middle" font-weight="bold" stroke="#1a1a1a" stroke-width="0.3" fill="#1a1a1a">18</text>
<line x1="340.73" y1="132.0" x2="340.73" y2="134.4" stroke="#111" stroke-width="0.9"/>
<line x1="340.73" y1="128.2" x2="340.73" y2="129.3" stroke="#777" stroke-width="0.5"/>
<text x="340.73" y="142.3" font-size="6.2" text-anchor="middle" font-weight="bold" stroke="#1a1a1a" stroke-width="0.3" fill="#1a1a1a">21</text>
<line x1="353.12" y1="132.0" x2="353.12" y2="134.4" stroke="#111" stroke-width="0.9"/>
<line x1="353.12" y1="128.2" x2="353.12" y2="129.3" stroke="#777" stroke-width="0.5"/>
<text x="353.12" y="142.3" font-size="6.2" text-anchor="middle" font-weight="bold" stroke="#1a1a1a" stroke-width="0.3" fill="#1a1a1a">24</text>
<line x1="223.025" y1="132.8" x2="223.025" y2="134.3" stroke="#111" stroke-width="0.6"/>
<line x1="235.415" y1="132.8" x2="235.415" y2="134.3" stroke="#111" stroke-width="0.6"/>
<line x1="247.805" y1="132.8" x2="247.805" y2="134.3" stroke="#111" stroke-width="0.6"/>
<line x1="260.195" y1="132.8" x2="260.195" y2="134.3" stroke="#111" stroke-width="0.6"/>
<line x1="272.585" y1="132.8" x2="272.585" y2="134.3" stroke="#111" stroke-width="0.6"/>
<line x1="284.975" y1="132.8" x2="284.975" y2="134.3" stroke="#111" stroke-width="0.6"/>
<line x1="297.365" y1="132.8" x2="297.365" y2="134.3" stroke="#111" stroke-width="0.6"/>
<line x1="309.755" y1="132.8" x2="309.755" y2="134.3" stroke="#111" stroke-width="0.6"/>
<line x1="322.145" y1="132.8" x2="322.145" y2="134.3" stroke="#111" stroke-width="0.6"/>
<line x1="334.53499999999997" y1="132.8" x2="334.53499999999997" y2="134.3" stroke="#111" stroke-width="0.6"/>
<line x1="346.925" y1="132.8" x2="346.925" y2="134.3" stroke="#111" stroke-width="0.6"/>
<line x1="359.315" y1="132.8" x2="359.315" y2="134.3" stroke="#111" stroke-width="0.6"/>
<text x="211.8" y="88.7" font-size="9.4" text-anchor="middle" font-weight="bold" stroke="#1a1a1a" stroke-width="0.08" fill="#1a1a1a" transform="rotate(-90 211.8 88.7)" dy="3">Swelling severity score</text>
<text x="291.4" y="156" font-size="8.8" text-anchor="middle" font-weight="bold" stroke="#1a1a1a" stroke-width="0.08" fill="#1a1a1a">Time (days)</text>
<line x1="229.22" y1="81.55200000000002" x2="229.22" y2="91.93200000000002" stroke="#4a80cc" stroke-width="0.55" opacity="0.75"/>
<line x1="228.32" y1="81.55200000000002" x2="230.12" y2="81.55200000000002" stroke="#4a80cc" stroke-width="0.5" opacity="0.75"/>
<line x1="228.32" y1="91.93200000000002" x2="230.12" y2="91.93200000000002" stroke="#4a80cc" stroke-width="0.5" opacity="0.75"/>
<line x1="241.61" y1="78.95700000000002" x2="241.61" y2="89.33700000000002" stroke="#4a80cc" stroke-width="0.55" opacity="0.75"/>
<line x1="240.71" y1="78.95700000000002" x2="242.51000000000002" y2="78.95700000000002" stroke="#4a80cc" stroke-width="0.5" opacity="0.75"/>
<line x1="240.71" y1="89.33700000000002" x2="242.51000000000002" y2="89.33700000000002" stroke="#4a80cc" stroke-width="0.5" opacity="0.75"/>
<line x1="254.0" y1="75.843" x2="254.0" y2="86.223" stroke="#4a80cc" stroke-width="0.55" opacity="0.75"/>
<line x1="253.1" y1="75.843" x2="254.9" y2="75.843" stroke="#4a80cc" stroke-width="0.5" opacity="0.75"/>
<line x1="253.1" y1="86.223" x2="254.9" y2="86.223" stroke="#4a80cc" stroke-width="0.5" opacity="0.75"/>
<line x1="266.39" y1="75.32400000000001" x2="266.39" y2="85.70400000000001" stroke="#4a80cc" stroke-width="0.55" opacity="0.75"/>
<line x1="265.49" y1="75.32400000000001" x2="267.28999999999996" y2="75.32400000000001" stroke="#4a80cc" stroke-width="0.5" opacity="0.75"/>
<line x1="265.49" y1="85.70400000000001" x2="267.28999999999996" y2="85.70400000000001" stroke="#4a80cc" stroke-width="0.5" opacity="0.75"/>
<line x1="278.78" y1="73.248" x2="278.78" y2="83.628" stroke="#4a80cc" stroke-width="0.55" opacity="0.75"/>
<line x1="277.88" y1="73.248" x2="279.67999999999995" y2="73.248" stroke="#4a80cc" stroke-width="0.5" opacity="0.75"/>
<line x1="277.88" y1="83.628" x2="279.67999999999995" y2="83.628" stroke="#4a80cc" stroke-width="0.5" opacity="0.75"/>
<line x1="291.17" y1="74.286" x2="291.17" y2="84.666" stroke="#4a80cc" stroke-width="0.55" opacity="0.75"/>
<line x1="290.27000000000004" y1="74.286" x2="292.07" y2="74.286" stroke="#4a80cc" stroke-width="0.5" opacity="0.75"/>
<line x1="290.27000000000004" y1="84.666" x2="292.07" y2="84.666" stroke="#4a80cc" stroke-width="0.5" opacity="0.75"/>
<line x1="303.56" y1="71.691" x2="303.56" y2="82.071" stroke="#4a80cc" stroke-width="0.55" opacity="0.75"/>
<line x1="302.66" y1="71.691" x2="304.46" y2="71.691" stroke="#4a80cc" stroke-width="0.5" opacity="0.75"/>
<line x1="302.66" y1="82.071" x2="304.46" y2="82.071" stroke="#4a80cc" stroke-width="0.5" opacity="0.75"/>
<line x1="315.95" y1="68.058" x2="315.95" y2="78.438" stroke="#4a80cc" stroke-width="0.55" opacity="0.75"/>
<line x1="315.05" y1="68.058" x2="316.84999999999997" y2="68.058" stroke="#4a80cc" stroke-width="0.5" opacity="0.75"/>
<line x1="315.05" y1="78.438" x2="316.84999999999997" y2="78.438" stroke="#4a80cc" stroke-width="0.5" opacity="0.75"/>
<line x1="328.34000000000003" y1="71.691" x2="328.34000000000003" y2="82.071" stroke="#4a80cc" stroke-width="0.55" opacity="0.75"/>
<line x1="327.44000000000005" y1="71.691" x2="329.24" y2="71.691" stroke="#4a80cc" stroke-width="0.5" opacity="0.75"/>
<line x1="327.44000000000005" y1="82.071" x2="329.24" y2="82.071" stroke="#4a80cc" stroke-width="0.5" opacity="0.75"/>
<line x1="340.73" y1="76.88100000000001" x2="340.73" y2="87.26100000000001" stroke="#4a80cc" stroke-width="0.55" opacity="0.75"/>
<line x1="339.83000000000004" y1="76.88100000000001" x2="341.63" y2="76.88100000000001" stroke="#4a80cc" stroke-width="0.5" opacity="0.75"/>
<line x1="339.83000000000004" y1="87.26100000000001" x2="341.63" y2="87.26100000000001" stroke="#4a80cc" stroke-width="0.5" opacity="0.75"/>
<line x1="353.12" y1="74.286" x2="353.12" y2="84.666" stroke="#4a80cc" stroke-width="0.55" opacity="0.75"/>
<line x1="352.22" y1="74.286" x2="354.02" y2="74.286" stroke="#4a80cc" stroke-width="0.5" opacity="0.75"/>
<line x1="352.22" y1="84.666" x2="354.02" y2="84.666" stroke="#4a80cc" stroke-width="0.5" opacity="0.75"/>
<polyline points="229.22,86.74 241.61,84.15 254.00,81.03 266.39,80.51 278.78,78.44 291.17,79.48 303.56,76.88 315.95,73.25 328.34,76.88 340.73,82.07 353.12,79.48" fill="none" stroke="#4a80cc" stroke-width="1.3" stroke-linejoin="round"/>
<circle cx="229.2" cy="86.7" r="0.8" fill="#4a80cc"/>
<circle cx="241.6" cy="84.1" r="0.8" fill="#4a80cc"/>
<circle cx="254.0" cy="81.0" r="0.8" fill="#4a80cc"/>
<circle cx="266.4" cy="80.5" r="0.8" fill="#4a80cc"/>
<circle cx="278.8" cy="78.4" r="0.8" fill="#4a80cc"/>
<circle cx="291.2" cy="79.5" r="0.8" fill="#4a80cc"/>
<circle cx="303.6" cy="76.9" r="0.8" fill="#4a80cc"/>
<circle cx="315.9" cy="73.2" r="0.8" fill="#4a80cc"/>
<circle cx="328.3" cy="76.9" r="0.8" fill="#4a80cc"/>
<circle cx="340.7" cy="82.1" r="0.8" fill="#4a80cc"/>
<circle cx="353.1" cy="79.5" r="0.8" fill="#4a80cc"/>
<line x1="229.22" y1="91.93200000000002" x2="229.22" y2="104.388" stroke="#86c447" stroke-width="0.55" opacity="0.75"/>
<line x1="228.32" y1="91.93200000000002" x2="230.12" y2="91.93200000000002" stroke="#86c447" stroke-width="0.5" opacity="0.75"/>
<line x1="228.32" y1="104.388" x2="230.12" y2="104.388" stroke="#86c447" stroke-width="0.5" opacity="0.75"/>
<line x1="241.61" y1="75.84300000000002" x2="241.61" y2="88.299" stroke="#86c447" stroke-width="0.55" opacity="0.75"/>
<line x1="240.71" y1="75.84300000000002" x2="242.51000000000002" y2="75.84300000000002" stroke="#86c447" stroke-width="0.5" opacity="0.75"/>
<line x1="240.71" y1="88.299" x2="242.51000000000002" y2="88.299" stroke="#86c447" stroke-width="0.5" opacity="0.75"/>
<line x1="254.0" y1="74.805" x2="254.0" y2="87.261" stroke="#86c447" stroke-width="0.55" opacity="0.75"/>
<line x1="253.1" y1="74.805" x2="254.9" y2="74.805" stroke="#86c447" stroke-width="0.5" opacity="0.75"/>
<line x1="253.1" y1="87.261" x2="254.9" y2="87.261" stroke="#86c447" stroke-width="0.5" opacity="0.75"/>
<line x1="266.39" y1="74.805" x2="266.39" y2="87.261" stroke="#86c447" stroke-width="0.55" opacity="0.75"/>
<line x1="265.49" y1="74.805" x2="267.28999999999996" y2="74.805" stroke="#86c447" stroke-width="0.5" opacity="0.75"/>
<line x1="265.49" y1="87.261" x2="267.28999999999996" y2="87.261" stroke="#86c447" stroke-width="0.5" opacity="0.75"/>
<line x1="278.78" y1="72.21000000000001" x2="278.78" y2="84.666" stroke="#86c447" stroke-width="0.55" opacity="0.75"/>
<line x1="277.88" y1="72.21000000000001" x2="279.67999999999995" y2="72.21000000000001" stroke="#86c447" stroke-width="0.5" opacity="0.75"/>
<line x1="277.88" y1="84.666" x2="279.67999999999995" y2="84.666" stroke="#86c447" stroke-width="0.5" opacity="0.75"/>
<line x1="291.17" y1="73.248" x2="291.17" y2="85.704" stroke="#86c447" stroke-width="0.55" opacity="0.75"/>
<line x1="290.27000000000004" y1="73.248" x2="292.07" y2="73.248" stroke="#86c447" stroke-width="0.5" opacity="0.75"/>
<line x1="290.27000000000004" y1="85.704" x2="292.07" y2="85.704" stroke="#86c447" stroke-width="0.5" opacity="0.75"/>
<line x1="303.56" y1="72.21000000000001" x2="303.56" y2="84.666" stroke="#86c447" stroke-width="0.55" opacity="0.75"/>
<line x1="302.66" y1="72.21000000000001" x2="304.46" y2="72.21000000000001" stroke="#86c447" stroke-width="0.5" opacity="0.75"/>
<line x1="302.66" y1="84.666" x2="304.46" y2="84.666" stroke="#86c447" stroke-width="0.5" opacity="0.75"/>
<line x1="315.95" y1="67.02000000000001" x2="315.95" y2="79.476" stroke="#86c447" stroke-width="0.55" opacity="0.75"/>
<line x1="315.05" y1="67.02000000000001" x2="316.84999999999997" y2="67.02000000000001" stroke="#86c447" stroke-width="0.5" opacity="0.75"/>
<line x1="315.05" y1="79.476" x2="316.84999999999997" y2="79.476" stroke="#86c447" stroke-width="0.5" opacity="0.75"/>
<line x1="328.34000000000003" y1="70.653" x2="328.34000000000003" y2="83.109" stroke="#86c447" stroke-width="0.55" opacity="0.75"/>
<line x1="327.44000000000005" y1="70.653" x2="329.24" y2="70.653" stroke="#86c447" stroke-width="0.5" opacity="0.75"/>
<line x1="327.44000000000005" y1="83.109" x2="329.24" y2="83.109" stroke="#86c447" stroke-width="0.5" opacity="0.75"/>
<line x1="340.73" y1="75.84300000000002" x2="340.73" y2="88.299" stroke="#86c447" stroke-width="0.55" opacity="0.75"/>
<line x1="339.83000000000004" y1="75.84300000000002" x2="341.63" y2="75.84300000000002" stroke="#86c447" stroke-width="0.5" opacity="0.75"/>
<line x1="339.83000000000004" y1="88.299" x2="341.63" y2="88.299" stroke="#86c447" stroke-width="0.5" opacity="0.75"/>
<line x1="353.12" y1="74.805" x2="353.12" y2="87.261" stroke="#86c447" stroke-width="0.55" opacity="0.75"/>
<line x1="352.22" y1="74.805" x2="354.02" y2="74.805" stroke="#86c447" stroke-width="0.5" opacity="0.75"/>
<line x1="352.22" y1="87.261" x2="354.02" y2="87.261" stroke="#86c447" stroke-width="0.5" opacity="0.75"/>
<polyline points="229.22,98.16 241.61,82.07 254.00,81.03 266.39,81.03 278.78,78.44 291.17,79.48 303.56,78.44 315.95,73.25 328.34,76.88 340.73,82.07 353.12,81.03" fill="none" stroke="#86c447" stroke-width="1.3" stroke-linejoin="round"/>
<circle cx="229.2" cy="98.2" r="0.8" fill="#86c447"/>
<circle cx="241.6" cy="82.1" r="0.8" fill="#86c447"/>
<circle cx="254.0" cy="81.0" r="0.8" fill="#86c447"/>
<circle cx="266.4" cy="81.0" r="0.8" fill="#86c447"/>
<circle cx="278.8" cy="78.4" r="0.8" fill="#86c447"/>
<circle cx="291.2" cy="79.5" r="0.8" fill="#86c447"/>
<circle cx="303.6" cy="78.4" r="0.8" fill="#86c447"/>
<circle cx="315.9" cy="73.2" r="0.8" fill="#86c447"/>
<circle cx="328.3" cy="76.9" r="0.8" fill="#86c447"/>
<circle cx="340.7" cy="82.1" r="0.8" fill="#86c447"/>
<circle cx="353.1" cy="81.0" r="0.8" fill="#86c447"/>
<line x1="229.22" y1="81.03300000000002" x2="229.22" y2="91.41300000000001" stroke="#cc3d3d" stroke-width="0.55" opacity="0.75"/>
<line x1="228.32" y1="81.03300000000002" x2="230.12" y2="81.03300000000002" stroke="#cc3d3d" stroke-width="0.5" opacity="0.75"/>
<line x1="228.32" y1="91.41300000000001" x2="230.12" y2="91.41300000000001" stroke="#cc3d3d" stroke-width="0.5" opacity="0.75"/>
<line x1="241.61" y1="73.248" x2="241.61" y2="83.628" stroke="#cc3d3d" stroke-width="0.55" opacity="0.75"/>
<line x1="240.71" y1="73.248" x2="242.51000000000002" y2="73.248" stroke="#cc3d3d" stroke-width="0.5" opacity="0.75"/>
<line x1="240.71" y1="83.628" x2="242.51000000000002" y2="83.628" stroke="#cc3d3d" stroke-width="0.5" opacity="0.75"/>
<line x1="254.0" y1="75.843" x2="254.0" y2="86.223" stroke="#cc3d3d" stroke-width="0.55" opacity="0.75"/>
<line x1="253.1" y1="75.843" x2="254.9" y2="75.843" stroke="#cc3d3d" stroke-width="0.5" opacity="0.75"/>
<line x1="253.1" y1="86.223" x2="254.9" y2="86.223" stroke="#cc3d3d" stroke-width="0.5" opacity="0.75"/>
<line x1="266.39" y1="76.36200000000002" x2="266.39" y2="86.74200000000002" stroke="#cc3d3d" stroke-width="0.55" opacity="0.75"/>
<line x1="265.49" y1="76.36200000000002" x2="267.28999999999996" y2="76.36200000000002" stroke="#cc3d3d" stroke-width="0.5" opacity="0.75"/>
<line x1="265.49" y1="86.74200000000002" x2="267.28999999999996" y2="86.74200000000002" stroke="#cc3d3d" stroke-width="0.5" opacity="0.75"/>
<line x1="278.78" y1="76.88100000000001" x2="278.78" y2="87.26100000000001" stroke="#cc3d3d" stroke-width="0.55" opacity="0.75"/>
<line x1="277.88" y1="76.88100000000001" x2="279.67999999999995" y2="76.88100000000001" stroke="#cc3d3d" stroke-width="0.5" opacity="0.75"/>
<line x1="277.88" y1="87.26100000000001" x2="279.67999999999995" y2="87.26100000000001" stroke="#cc3d3d" stroke-width="0.5" opacity="0.75"/>
<line x1="291.17" y1="77.91900000000001" x2="291.17" y2="88.299" stroke="#cc3d3d" stroke-width="0.55" opacity="0.75"/>
<line x1="290.27000000000004" y1="77.91900000000001" x2="292.07" y2="77.91900000000001" stroke="#cc3d3d" stroke-width="0.5" opacity="0.75"/>
<line x1="290.27000000000004" y1="88.299" x2="292.07" y2="88.299" stroke="#cc3d3d" stroke-width="0.5" opacity="0.75"/>
<line x1="303.56" y1="79.47600000000001" x2="303.56" y2="89.85600000000001" stroke="#cc3d3d" stroke-width="0.55" opacity="0.75"/>
<line x1="302.66" y1="79.47600000000001" x2="304.46" y2="79.47600000000001" stroke="#cc3d3d" stroke-width="0.5" opacity="0.75"/>
<line x1="302.66" y1="89.85600000000001" x2="304.46" y2="89.85600000000001" stroke="#cc3d3d" stroke-width="0.5" opacity="0.75"/>
<line x1="315.95" y1="81.03300000000002" x2="315.95" y2="91.41300000000001" stroke="#cc3d3d" stroke-width="0.55" opacity="0.75"/>
<line x1="315.05" y1="81.03300000000002" x2="316.84999999999997" y2="81.03300000000002" stroke="#cc3d3d" stroke-width="0.5" opacity="0.75"/>
<line x1="315.05" y1="91.41300000000001" x2="316.84999999999997" y2="91.41300000000001" stroke="#cc3d3d" stroke-width="0.5" opacity="0.75"/>
<line x1="328.34000000000003" y1="82.07100000000001" x2="328.34000000000003" y2="92.45100000000001" stroke="#cc3d3d" stroke-width="0.55" opacity="0.75"/>
<line x1="327.44000000000005" y1="82.07100000000001" x2="329.24" y2="82.07100000000001" stroke="#cc3d3d" stroke-width="0.5" opacity="0.75"/>
<line x1="327.44000000000005" y1="92.45100000000001" x2="329.24" y2="92.45100000000001" stroke="#cc3d3d" stroke-width="0.5" opacity="0.75"/>
<line x1="340.73" y1="82.59" x2="340.73" y2="92.97" stroke="#cc3d3d" stroke-width="0.55" opacity="0.75"/>
<line x1="339.83000000000004" y1="82.59" x2="341.63" y2="82.59" stroke="#cc3d3d" stroke-width="0.5" opacity="0.75"/>
<line x1="339.83000000000004" y1="92.97" x2="341.63" y2="92.97" stroke="#cc3d3d" stroke-width="0.5" opacity="0.75"/>
<line x1="353.12" y1="79.47600000000001" x2="353.12" y2="89.85600000000001" stroke="#cc3d3d" stroke-width="0.55" opacity="0.75"/>
<line x1="352.22" y1="79.47600000000001" x2="354.02" y2="79.47600000000001" stroke="#cc3d3d" stroke-width="0.5" opacity="0.75"/>
<line x1="352.22" y1="89.85600000000001" x2="354.02" y2="89.85600000000001" stroke="#cc3d3d" stroke-width="0.5" opacity="0.75"/>
<polyline points="229.22,86.22 241.61,78.44 254.00,81.03 266.39,81.55 278.78,82.07 291.17,83.11 303.56,84.67 315.95,86.22 328.34,87.26 340.73,87.78 353.12,84.67" fill="none" stroke="#cc3d3d" stroke-width="1.3" stroke-linejoin="round"/>
<circle cx="229.2" cy="86.2" r="0.8" fill="#cc3d3d"/>
<circle cx="241.6" cy="78.4" r="0.8" fill="#cc3d3d"/>
<circle cx="254.0" cy="81.0" r="0.8" fill="#cc3d3d"/>
<circle cx="266.4" cy="81.6" r="0.8" fill="#cc3d3d"/>
<circle cx="278.8" cy="82.1" r="0.8" fill="#cc3d3d"/>
<circle cx="291.2" cy="83.1" r="0.8" fill="#cc3d3d"/>
<circle cx="303.6" cy="84.7" r="0.8" fill="#cc3d3d"/>
<circle cx="315.9" cy="86.2" r="0.8" fill="#cc3d3d"/>
<circle cx="328.3" cy="87.3" r="0.8" fill="#cc3d3d"/>
<circle cx="340.7" cy="87.8" r="0.8" fill="#cc3d3d"/>
<circle cx="353.1" cy="84.7" r="0.8" fill="#cc3d3d"/>
<line x1="229.22" y1="86.74200000000002" x2="229.22" y2="97.12200000000001" stroke="#f2ae24" stroke-width="0.55" opacity="0.75"/>
<line x1="228.32" y1="86.74200000000002" x2="230.12" y2="86.74200000000002" stroke="#f2ae24" stroke-width="0.5" opacity="0.75"/>
<line x1="228.32" y1="97.12200000000001" x2="230.12" y2="97.12200000000001" stroke="#f2ae24" stroke-width="0.5" opacity="0.75"/>
<line x1="241.61" y1="67.02000000000001" x2="241.61" y2="77.4" stroke="#f2ae24" stroke-width="0.55" opacity="0.75"/>
<line x1="240.71" y1="67.02000000000001" x2="242.51000000000002" y2="67.02000000000001" stroke="#f2ae24" stroke-width="0.5" opacity="0.75"/>
<line x1="240.71" y1="77.4" x2="242.51000000000002" y2="77.4" stroke="#f2ae24" stroke-width="0.5" opacity="0.75"/>
<line x1="254.0" y1="72.21000000000001" x2="254.0" y2="82.59" stroke="#f2ae24" stroke-width="0.55" opacity="0.75"/>
<line x1="253.1" y1="72.21000000000001" x2="254.9" y2="72.21000000000001" stroke="#f2ae24" stroke-width="0.5" opacity="0.75"/>
<line x1="253.1" y1="82.59" x2="254.9" y2="82.59" stroke="#f2ae24" stroke-width="0.5" opacity="0.75"/>
<line x1="266.39" y1="72.21000000000001" x2="266.39" y2="82.59" stroke="#f2ae24" stroke-width="0.55" opacity="0.75"/>
<line x1="265.49" y1="72.21000000000001" x2="267.28999999999996" y2="72.21000000000001" stroke="#f2ae24" stroke-width="0.5" opacity="0.75"/>
<line x1="265.49" y1="82.59" x2="267.28999999999996" y2="82.59" stroke="#f2ae24" stroke-width="0.5" opacity="0.75"/>
<line x1="278.78" y1="74.286" x2="278.78" y2="84.666" stroke="#f2ae24" stroke-width="0.55" opacity="0.75"/>
<line x1="277.88" y1="74.286" x2="279.67999999999995" y2="74.286" stroke="#f2ae24" stroke-width="0.5" opacity="0.75"/>
<line x1="277.88" y1="84.666" x2="279.67999999999995" y2="84.666" stroke="#f2ae24" stroke-width="0.5" opacity="0.75"/>
<line x1="291.17" y1="75.843" x2="291.17" y2="86.223" stroke="#f2ae24" stroke-width="0.55" opacity="0.75"/>
<line x1="290.27000000000004" y1="75.843" x2="292.07" y2="75.843" stroke="#f2ae24" stroke-width="0.5" opacity="0.75"/>
<line x1="290.27000000000004" y1="86.223" x2="292.07" y2="86.223" stroke="#f2ae24" stroke-width="0.5" opacity="0.75"/>
<line x1="303.56" y1="79.47600000000001" x2="303.56" y2="89.85600000000001" stroke="#f2ae24" stroke-width="0.55" opacity="0.75"/>
<line x1="302.66" y1="79.47600000000001" x2="304.46" y2="79.47600000000001" stroke="#f2ae24" stroke-width="0.5" opacity="0.75"/>
<line x1="302.66" y1="89.85600000000001" x2="304.46" y2="89.85600000000001" stroke="#f2ae24" stroke-width="0.5" opacity="0.75"/>
<line x1="315.95" y1="84.66600000000001" x2="315.95" y2="95.046" stroke="#f2ae24" stroke-width="0.55" opacity="0.75"/>
<line x1="315.05" y1="84.66600000000001" x2="316.84999999999997" y2="84.66600000000001" stroke="#f2ae24" stroke-width="0.5" opacity="0.75"/>
<line x1="315.05" y1="95.046" x2="316.84999999999997" y2="95.046" stroke="#f2ae24" stroke-width="0.5" opacity="0.75"/>
<line x1="328.34000000000003" y1="86.22300000000001" x2="328.34000000000003" y2="96.60300000000001" stroke="#f2ae24" stroke-width="0.55" opacity="0.75"/>
<line x1="327.44000000000005" y1="86.22300000000001" x2="329.24" y2="86.22300000000001" stroke="#f2ae24" stroke-width="0.5" opacity="0.75"/>
<line x1="327.44000000000005" y1="96.60300000000001" x2="329.24" y2="96.60300000000001" stroke="#f2ae24" stroke-width="0.5" opacity="0.75"/>
<line x1="340.73" y1="89.33700000000002" x2="340.73" y2="99.71700000000001" stroke="#f2ae24" stroke-width="0.55" opacity="0.75"/>
<line x1="339.83000000000004" y1="89.33700000000002" x2="341.63" y2="89.33700000000002" stroke="#f2ae24" stroke-width="0.5" opacity="0.75"/>
<line x1="339.83000000000004" y1="99.71700000000001" x2="341.63" y2="99.71700000000001" stroke="#f2ae24" stroke-width="0.5" opacity="0.75"/>
<line x1="353.12" y1="91.15350000000001" x2="353.12" y2="101.5335" stroke="#f2ae24" stroke-width="0.55" opacity="0.75"/>
<line x1="352.22" y1="91.15350000000001" x2="354.02" y2="91.15350000000001" stroke="#f2ae24" stroke-width="0.5" opacity="0.75"/>
<line x1="352.22" y1="101.5335" x2="354.02" y2="101.5335" stroke="#f2ae24" stroke-width="0.5" opacity="0.75"/>
<polyline points="229.22,91.93 241.61,72.21 254.00,77.40 266.39,77.40 278.78,79.48 291.17,81.03 303.56,84.67 315.95,89.86 328.34,91.41 340.73,94.53 353.12,96.34" fill="none" stroke="#f2ae24" stroke-width="1.3" stroke-linejoin="round"/>
<circle cx="229.2" cy="91.9" r="0.8" fill="#f2ae24"/>
<circle cx="241.6" cy="72.2" r="0.8" fill="#f2ae24"/>
<circle cx="254.0" cy="77.4" r="0.8" fill="#f2ae24"/>
<circle cx="266.4" cy="77.4" r="0.8" fill="#f2ae24"/>
<circle cx="278.8" cy="79.5" r="0.8" fill="#f2ae24"/>
<circle cx="291.2" cy="81.0" r="0.8" fill="#f2ae24"/>
<circle cx="303.6" cy="84.7" r="0.8" fill="#f2ae24"/>
<circle cx="315.9" cy="89.9" r="0.8" fill="#f2ae24"/>
<circle cx="328.3" cy="91.4" r="0.8" fill="#f2ae24"/>
<circle cx="340.7" cy="94.5" r="0.8" fill="#f2ae24"/>
<circle cx="353.1" cy="96.3" r="0.8" fill="#f2ae24"/>
<line x1="229.22" y1="79.47600000000001" x2="229.22" y2="91.932" stroke="#13a87a" stroke-width="0.55" opacity="0.75"/>
<line x1="228.32" y1="79.47600000000001" x2="230.12" y2="79.47600000000001" stroke="#13a87a" stroke-width="0.5" opacity="0.75"/>
<line x1="228.32" y1="91.932" x2="230.12" y2="91.932" stroke="#13a87a" stroke-width="0.5" opacity="0.75"/>
<line x1="241.61" y1="72.72900000000001" x2="241.61" y2="85.185" stroke="#13a87a" stroke-width="0.55" opacity="0.75"/>
<line x1="240.71" y1="72.72900000000001" x2="242.51000000000002" y2="72.72900000000001" stroke="#13a87a" stroke-width="0.5" opacity="0.75"/>
<line x1="240.71" y1="85.185" x2="242.51000000000002" y2="85.185" stroke="#13a87a" stroke-width="0.5" opacity="0.75"/>
<line x1="254.0" y1="74.805" x2="254.0" y2="87.261" stroke="#13a87a" stroke-width="0.55" opacity="0.75"/>
<line x1="253.1" y1="74.805" x2="254.9" y2="74.805" stroke="#13a87a" stroke-width="0.5" opacity="0.75"/>
<line x1="253.1" y1="87.261" x2="254.9" y2="87.261" stroke="#13a87a" stroke-width="0.5" opacity="0.75"/>
<line x1="266.39" y1="77.91900000000003" x2="266.39" y2="90.37500000000001" stroke="#13a87a" stroke-width="0.55" opacity="0.75"/>
<line x1="265.49" y1="77.91900000000003" x2="267.28999999999996" y2="77.91900000000003" stroke="#13a87a" stroke-width="0.5" opacity="0.75"/>
<line x1="265.49" y1="90.37500000000001" x2="267.28999999999996" y2="90.37500000000001" stroke="#13a87a" stroke-width="0.5" opacity="0.75"/>
<line x1="278.78" y1="80.51400000000002" x2="278.78" y2="92.97000000000001" stroke="#13a87a" stroke-width="0.55" opacity="0.75"/>
<line x1="277.88" y1="80.51400000000002" x2="279.67999999999995" y2="80.51400000000002" stroke="#13a87a" stroke-width="0.5" opacity="0.75"/>
<line x1="277.88" y1="92.97000000000001" x2="279.67999999999995" y2="92.97000000000001" stroke="#13a87a" stroke-width="0.5" opacity="0.75"/>
<line x1="291.17" y1="85.70400000000002" x2="291.17" y2="98.16000000000001" stroke="#13a87a" stroke-width="0.55" opacity="0.75"/>
<line x1="290.27000000000004" y1="85.70400000000002" x2="292.07" y2="85.70400000000002" stroke="#13a87a" stroke-width="0.5" opacity="0.75"/>
<line x1="290.27000000000004" y1="98.16000000000001" x2="292.07" y2="98.16000000000001" stroke="#13a87a" stroke-width="0.5" opacity="0.75"/>
<line x1="303.56" y1="89.85600000000001" x2="303.56" y2="102.312" stroke="#13a87a" stroke-width="0.55" opacity="0.75"/>
<line x1="302.66" y1="89.85600000000001" x2="304.46" y2="89.85600000000001" stroke="#13a87a" stroke-width="0.5" opacity="0.75"/>
<line x1="302.66" y1="102.312" x2="304.46" y2="102.312" stroke="#13a87a" stroke-width="0.5" opacity="0.75"/>
<line x1="315.95" y1="93.48900000000002" x2="315.95" y2="105.94500000000001" stroke="#13a87a" stroke-width="0.55" opacity="0.75"/>
<line x1="315.05" y1="93.48900000000002" x2="316.84999999999997" y2="93.48900000000002" stroke="#13a87a" stroke-width="0.5" opacity="0.75"/>
<line x1="315.05" y1="105.94500000000001" x2="316.84999999999997" y2="105.94500000000001" stroke="#13a87a" stroke-width="0.5" opacity="0.75"/>
<line x1="328.34000000000003" y1="95.046" x2="328.34000000000003" y2="107.502" stroke="#13a87a" stroke-width="0.55" opacity="0.75"/>
<line x1="327.44000000000005" y1="95.046" x2="329.24" y2="95.046" stroke="#13a87a" stroke-width="0.5" opacity="0.75"/>
<line x1="327.44000000000005" y1="107.502" x2="329.24" y2="107.502" stroke="#13a87a" stroke-width="0.5" opacity="0.75"/>
<line x1="340.73" y1="99.19800000000002" x2="340.73" y2="111.65400000000001" stroke="#13a87a" stroke-width="0.55" opacity="0.75"/>
<line x1="339.83000000000004" y1="99.19800000000002" x2="341.63" y2="99.19800000000002" stroke="#13a87a" stroke-width="0.5" opacity="0.75"/>
<line x1="339.83000000000004" y1="111.65400000000001" x2="341.63" y2="111.65400000000001" stroke="#13a87a" stroke-width="0.5" opacity="0.75"/>
<line x1="353.12" y1="102.31200000000001" x2="353.12" y2="114.768" stroke="#13a87a" stroke-width="0.55" opacity="0.75"/>
<line x1="352.22" y1="102.31200000000001" x2="354.02" y2="102.31200000000001" stroke="#13a87a" stroke-width="0.5" opacity="0.75"/>
<line x1="352.22" y1="114.768" x2="354.02" y2="114.768" stroke="#13a87a" stroke-width="0.5" opacity="0.75"/>
<polyline points="229.22,85.70 241.61,78.96 254.00,81.03 266.39,84.15 278.78,86.74 291.17,91.93 303.56,96.08 315.95,99.72 328.34,101.27 340.73,105.43 353.12,108.54" fill="none" stroke="#13a87a" stroke-width="1.3" stroke-linejoin="round"/>
<circle cx="229.2" cy="85.7" r="0.8" fill="#13a87a"/>
<circle cx="241.6" cy="79.0" r="0.8" fill="#13a87a"/>
<circle cx="254.0" cy="81.0" r="0.8" fill="#13a87a"/>
<circle cx="266.4" cy="84.1" r="0.8" fill="#13a87a"/>
<circle cx="278.8" cy="86.7" r="0.8" fill="#13a87a"/>
<circle cx="291.2" cy="91.9" r="0.8" fill="#13a87a"/>
<circle cx="303.6" cy="96.1" r="0.8" fill="#13a87a"/>
<circle cx="315.9" cy="99.7" r="0.8" fill="#13a87a"/>
<circle cx="328.3" cy="101.3" r="0.8" fill="#13a87a"/>
<circle cx="340.7" cy="105.4" r="0.8" fill="#13a87a"/>
<circle cx="353.1" cy="108.5" r="0.8" fill="#13a87a"/>
<line x1="229.22" y1="79.47600000000001" x2="229.22" y2="91.932" stroke="#f0706d" stroke-width="0.55" opacity="0.75"/>
<line x1="228.32" y1="79.47600000000001" x2="230.12" y2="79.47600000000001" stroke="#f0706d" stroke-width="0.5" opacity="0.75"/>
<line x1="228.32" y1="91.932" x2="230.12" y2="91.932" stroke="#f0706d" stroke-width="0.5" opacity="0.75"/>
<line x1="241.61" y1="73.248" x2="241.61" y2="85.704" stroke="#f0706d" stroke-width="0.55" opacity="0.75"/>
<line x1="240.71" y1="73.248" x2="242.51000000000002" y2="73.248" stroke="#f0706d" stroke-width="0.5" opacity="0.75"/>
<line x1="240.71" y1="85.704" x2="242.51000000000002" y2="85.704" stroke="#f0706d" stroke-width="0.5" opacity="0.75"/>
<line x1="254.0" y1="74.805" x2="254.0" y2="87.261" stroke="#f0706d" stroke-width="0.55" opacity="0.75"/>
<line x1="253.1" y1="74.805" x2="254.9" y2="74.805" stroke="#f0706d" stroke-width="0.5" opacity="0.75"/>
<line x1="253.1" y1="87.261" x2="254.9" y2="87.261" stroke="#f0706d" stroke-width="0.5" opacity="0.75"/>
<line x1="266.39" y1="78.95700000000001" x2="266.39" y2="91.413" stroke="#f0706d" stroke-width="0.55" opacity="0.75"/>
<line x1="265.49" y1="78.95700000000001" x2="267.28999999999996" y2="78.95700000000001" stroke="#f0706d" stroke-width="0.5" opacity="0.75"/>
<line x1="265.49" y1="91.413" x2="267.28999999999996" y2="91.413" stroke="#f0706d" stroke-width="0.5" opacity="0.75"/>
<line x1="278.78" y1="80.51400000000002" x2="278.78" y2="92.97000000000001" stroke="#f0706d" stroke-width="0.55" opacity="0.75"/>
<line x1="277.88" y1="80.51400000000002" x2="279.67999999999995" y2="80.51400000000002" stroke="#f0706d" stroke-width="0.5" opacity="0.75"/>
<line x1="277.88" y1="92.97000000000001" x2="279.67999999999995" y2="92.97000000000001" stroke="#f0706d" stroke-width="0.5" opacity="0.75"/>
<line x1="291.17" y1="86.742" x2="291.17" y2="99.198" stroke="#f0706d" stroke-width="0.55" opacity="0.75"/>
<line x1="290.27000000000004" y1="86.742" x2="292.07" y2="86.742" stroke="#f0706d" stroke-width="0.5" opacity="0.75"/>
<line x1="290.27000000000004" y1="99.198" x2="292.07" y2="99.198" stroke="#f0706d" stroke-width="0.5" opacity="0.75"/>
<line x1="303.56" y1="93.48900000000002" x2="303.56" y2="105.94500000000001" stroke="#f0706d" stroke-width="0.55" opacity="0.75"/>
<line x1="302.66" y1="93.48900000000002" x2="304.46" y2="93.48900000000002" stroke="#f0706d" stroke-width="0.5" opacity="0.75"/>
<line x1="302.66" y1="105.94500000000001" x2="304.46" y2="105.94500000000001" stroke="#f0706d" stroke-width="0.5" opacity="0.75"/>
<line x1="315.95" y1="96.60300000000002" x2="315.95" y2="109.05900000000001" stroke="#f0706d" stroke-width="0.55" opacity="0.75"/>
<line x1="315.05" y1="96.60300000000002" x2="316.84999999999997" y2="96.60300000000002" stroke="#f0706d" stroke-width="0.5" opacity="0.75"/>
<line x1="315.05" y1="109.05900000000001" x2="316.84999999999997" y2="109.05900000000001" stroke="#f0706d" stroke-width="0.5" opacity="0.75"/>
<line x1="328.34000000000003" y1="98.67900000000002" x2="328.34000000000003" y2="111.135" stroke="#f0706d" stroke-width="0.55" opacity="0.75"/>
<line x1="327.44000000000005" y1="98.67900000000002" x2="329.24" y2="98.67900000000002" stroke="#f0706d" stroke-width="0.5" opacity="0.75"/>
<line x1="327.44000000000005" y1="111.135" x2="329.24" y2="111.135" stroke="#f0706d" stroke-width="0.5" opacity="0.75"/>
<line x1="340.73" y1="103.60950000000001" x2="340.73" y2="116.0655" stroke="#f0706d" stroke-width="0.55" opacity="0.75"/>
<line x1="339.83000000000004" y1="103.60950000000001" x2="341.63" y2="103.60950000000001" stroke="#f0706d" stroke-width="0.5" opacity="0.75"/>
<line x1="339.83000000000004" y1="116.0655" x2="341.63" y2="116.0655" stroke="#f0706d" stroke-width="0.5" opacity="0.75"/>
<line x1="353.12" y1="105.94500000000002" x2="353.12" y2="118.40100000000001" stroke="#f0706d" stroke-width="0.55" opacity="0.75"/>
<line x1="352.22" y1="105.94500000000002" x2="354.02" y2="105.94500000000002" stroke="#f0706d" stroke-width="0.5" opacity="0.75"/>
<line x1="352.22" y1="118.40100000000001" x2="354.02" y2="118.40100000000001" stroke="#f0706d" stroke-width="0.5" opacity="0.75"/>
<polyline points="229.22,85.70 241.61,79.48 254.00,81.03 266.39,85.19 278.78,86.74 291.17,92.97 303.56,99.72 315.95,102.83 328.34,104.91 340.73,109.84 353.12,112.17" fill="none" stroke="#f0706d" stroke-width="1.3" stroke-linejoin="round"/>
<circle cx="229.2" cy="85.7" r="0.8" fill="#f0706d"/>
<circle cx="241.6" cy="79.5" r="0.8" fill="#f0706d"/>
<circle cx="254.0" cy="81.0" r="0.8" fill="#f0706d"/>
<circle cx="266.4" cy="85.2" r="0.8" fill="#f0706d"/>
<circle cx="278.8" cy="86.7" r="0.8" fill="#f0706d"/>
<circle cx="291.2" cy="93.0" r="0.8" fill="#f0706d"/>
<circle cx="303.6" cy="99.7" r="0.8" fill="#f0706d"/>
<circle cx="315.9" cy="102.8" r="0.8" fill="#f0706d"/>
<circle cx="328.3" cy="104.9" r="0.8" fill="#f0706d"/>
<circle cx="340.7" cy="109.8" r="0.8" fill="#f0706d"/>
<circle cx="353.1" cy="112.2" r="0.8" fill="#f0706d"/>
<polyline points="356.4,81.1 358.4,81.1 358.4,95.5 356.4,95.5" fill="none" stroke="#555" stroke-width="0.6"/>
<polyline points="362.6,80.3 364.6,80.3 364.6,112.3 362.6,112.3" fill="none" stroke="#555" stroke-width="0.6"/>
<text x="361.5" y="91" font-size="4" text-anchor="middle" fill="#1a1a1a">*</text>
<text x="368.5" y="96" font-size="5" text-anchor="middle" fill="#1a1a1a" transform="rotate(90 368.5 96)">***</text>
<text x="371" y="14.6" font-size="12.5" text-anchor="start" fill="#1a1a1a">(c)</text>
<rect x="384.90" y="16.40" width="11.20" height="5.60" fill="#666666"/>
<text x="402" y="21.4" font-size="8.6" text-anchor="start" fill="#1a1a1a">Control</text>
<rect x="433.20" y="16.40" width="11.20" height="5.60" fill="#3065b5"/>
<text x="450" y="21.4" font-size="8.6" text-anchor="start" fill="#1a1a1a">AT</text>
<rect x="468.20" y="16.40" width="11.20" height="5.60" fill="#0ea05a"/>
<text x="485.5" y="21.4" font-size="8.6" text-anchor="start" fill="#1a1a1a">KAT</text>
<rect x="507.30" y="16.40" width="11.20" height="5.60" fill="#fb5c5f"/>
<text x="524.5" y="21.4" font-size="8.6" text-anchor="start" fill="#1a1a1a">AKAT</text>
<rect x="384.90" y="26.00" width="11.20" height="5.60" fill="#8dc63f"/>
<text x="402" y="31" font-size="8.6" text-anchor="start" fill="#1a1a1a">Model</text>
<rect x="433.20" y="26.00" width="11.20" height="5.60" fill="#d22e28"/>
<text x="450" y="31" font-size="8.6" text-anchor="start" fill="#1a1a1a">AAT</text>
<rect x="468.20" y="26.00" width="11.20" height="5.60" fill="#ffa500"/>
<text x="485.5" y="31" font-size="8.6" text-anchor="start" fill="#1a1a1a">OAK</text>
<line x1="407.8" y1="49.5" x2="407.8" y2="135.5" stroke="#222" stroke-width="1.1"/>
<line x1="405.2" y1="135.5" x2="407.8" y2="135.5" stroke="#222" stroke-width="0.9"/>
<text x="403.5" y="137.9" font-size="7.2" text-anchor="end" font-weight="bold" stroke="#1a1a1a" stroke-width="0.3" fill="#1a1a1a">0</text>
<line x1="405.2" y1="123.3" x2="407.8" y2="123.3" stroke="#222" stroke-width="0.9"/>
<text x="403.5" y="125.7" font-size="7.2" text-anchor="end" font-weight="bold" stroke="#1a1a1a" stroke-width="0.3" fill="#1a1a1a">2</text>
<line x1="405.2" y1="111.1" x2="407.8" y2="111.1" stroke="#222" stroke-width="0.9"/>
<text x="403.5" y="113.5" font-size="7.2" text-anchor="end" font-weight="bold" stroke="#1a1a1a" stroke-width="0.3" fill="#1a1a1a">4</text>
<line x1="405.2" y1="98.9" x2="407.8" y2="98.9" stroke="#222" stroke-width="0.9"/>
<text x="403.5" y="101.30000000000001" font-size="7.2" text-anchor="end" font-weight="bold" stroke="#1a1a1a" stroke-width="0.3" fill="#1a1a1a">6</text>
<line x1="405.2" y1="86.7" x2="407.8" y2="86.7" stroke="#222" stroke-width="0.9"/>
<text x="403.5" y="89.10000000000001" font-size="7.2" text-anchor="end" font-weight="bold" stroke="#1a1a1a" stroke-width="0.3" fill="#1a1a1a">8</text>
<line x1="405.2" y1="74.5" x2="407.8" y2="74.5" stroke="#222" stroke-width="0.9"/>
<text x="403.5" y="76.9" font-size="7.2" text-anchor="end" font-weight="bold" stroke="#1a1a1a" stroke-width="0.3" fill="#1a1a1a">10</text>
<line x1="405.2" y1="62.30000000000001" x2="407.8" y2="62.30000000000001" stroke="#222" stroke-width="0.9"/>
<text x="403.5" y="64.70000000000002" font-size="7.2" text-anchor="end" font-weight="bold" stroke="#1a1a1a" stroke-width="0.3" fill="#1a1a1a">12</text>
<line x1="405.2" y1="50.10000000000001" x2="407.8" y2="50.10000000000001" stroke="#222" stroke-width="0.9"/>
<text x="403.5" y="52.50000000000001" font-size="7.2" text-anchor="end" font-weight="bold" stroke="#1a1a1a" stroke-width="0.3" fill="#1a1a1a">14</text>
<line x1="406.3" y1="129.4" x2="407.8" y2="129.4" stroke="#222" stroke-width="0.6"/>
<line x1="406.3" y1="117.2" x2="407.8" y2="117.2" stroke="#222" stroke-width="0.6"/>
<line x1="406.3" y1="105.0" x2="407.8" y2="105.0" stroke="#222" stroke-width="0.6"/>
<line x1="406.3" y1="92.80000000000001" x2="407.8" y2="92.80000000000001" stroke="#222" stroke-width="0.6"/>
<line x1="406.3" y1="80.6" x2="407.8" y2="80.6" stroke="#222" stroke-width="0.6"/>
<line x1="406.3" y1="68.4" x2="407.8" y2="68.4" stroke="#222" stroke-width="0.6"/>
<line x1="406.3" y1="56.2" x2="407.8" y2="56.2" stroke="#222" stroke-width="0.6"/>
<line x1="407.8" y1="135.5" x2="543.5" y2="135.5" stroke="#222" stroke-width="1.1"/>
<line x1="442.3" y1="135.5" x2="442.3" y2="138.5" stroke="#222" stroke-width="0.9"/>
<line x1="509.2" y1="135.5" x2="509.2" y2="138.5" stroke="#222" stroke-width="0.9"/>
<text x="441.8" y="148.5" font-size="8.6" text-anchor="middle" font-weight="bold" stroke="#1a1a1a" stroke-width="0.08" fill="#1a1a1a">Days 0</text>
<text x="509.4" y="148.5" font-size="8.6" text-anchor="middle" font-weight="bold" stroke="#1a1a1a" stroke-width="0.08" fill="#1a1a1a">Days 24</text>
<text x="387" y="91.5" font-size="9.5" text-anchor="middle" font-weight="bold" stroke="#1a1a1a" stroke-width="0.08" fill="#1a1a1a" transform="rotate(-90 387 91.5)" dy="3">Paws Thickness(mm)</text>
<rect x="413.00" y="110.49" width="6.80" height="25.01" fill="#666666"/>
<line x1="416.4" y1="108.89000000000001" x2="416.4" y2="110.49000000000001" stroke="#666666" stroke-width="0.6"/>
<line x1="415.0" y1="108.89000000000001" x2="417.8" y2="108.89000000000001" stroke="#666666" stroke-width="0.6"/>
<rect x="421.50" y="72.67" width="6.80" height="62.83" fill="#8dc63f"/>
<line x1="424.9" y1="71.07000000000001" x2="424.9" y2="72.67" stroke="#8dc63f" stroke-width="0.6"/>
<line x1="423.5" y1="71.07000000000001" x2="426.3" y2="71.07000000000001" stroke="#8dc63f" stroke-width="0.6"/>
<rect x="430.00" y="72.37" width="6.80" height="63.13" fill="#3065b5"/>
<line x1="433.4" y1="70.76500000000001" x2="433.4" y2="72.36500000000001" stroke="#3065b5" stroke-width="0.6"/>
<line x1="432.0" y1="70.76500000000001" x2="434.8" y2="70.76500000000001" stroke="#3065b5" stroke-width="0.6"/>
<rect x="438.50" y="71.45" width="6.80" height="64.05" fill="#d22e28"/>
<line x1="441.9" y1="69.85000000000001" x2="441.9" y2="71.45" stroke="#d22e28" stroke-width="0.6"/>
<line x1="440.5" y1="69.85000000000001" x2="443.3" y2="69.85000000000001" stroke="#d22e28" stroke-width="0.6"/>
<rect x="447.10" y="70.84" width="6.80" height="64.66" fill="#0ea05a"/>
<line x1="450.5" y1="69.24000000000001" x2="450.5" y2="70.84" stroke="#0ea05a" stroke-width="0.6"/>
<line x1="449.1" y1="69.24000000000001" x2="451.90000000000003" y2="69.24000000000001" stroke="#0ea05a" stroke-width="0.6"/>
<rect x="455.70" y="70.84" width="6.80" height="64.66" fill="#ffa500"/>
<line x1="459.09999999999997" y1="69.24000000000001" x2="459.09999999999997" y2="70.84" stroke="#ffa500" stroke-width="0.6"/>
<line x1="457.7" y1="69.24000000000001" x2="460.5" y2="69.24000000000001" stroke="#ffa500" stroke-width="0.6"/>
<rect x="464.70" y="70.84" width="6.80" height="64.66" fill="#fb5c5f"/>
<line x1="468.09999999999997" y1="69.24000000000001" x2="468.09999999999997" y2="70.84" stroke="#fb5c5f" stroke-width="0.6"/>
<line x1="466.7" y1="69.24000000000001" x2="469.5" y2="69.24000000000001" stroke="#fb5c5f" stroke-width="0.6"/>
<rect x="480.10" y="110.61" width="6.80" height="24.89" fill="#666666"/>
<line x1="483.5" y1="109.012" x2="483.5" y2="110.612" stroke="#666666" stroke-width="0.6"/>
<line x1="482.1" y1="109.012" x2="484.90000000000003" y2="109.012" stroke="#666666" stroke-width="0.6"/>
<rect x="489.00" y="70.23" width="6.80" height="65.27" fill="#8dc63f"/>
<line x1="492.4" y1="68.63000000000001" x2="492.4" y2="70.23" stroke="#8dc63f" stroke-width="0.6"/>
<line x1="491" y1="68.63000000000001" x2="493.8" y2="68.63000000000001" stroke="#8dc63f" stroke-width="0.6"/>
<rect x="497.70" y="71.45" width="6.80" height="64.05" fill="#3065b5"/>
<line x1="501.09999999999997" y1="69.85000000000001" x2="501.09999999999997" y2="71.45" stroke="#3065b5" stroke-width="0.6"/>
<line x1="499.7" y1="69.85000000000001" x2="502.5" y2="69.85000000000001" stroke="#3065b5" stroke-width="0.6"/>
<rect x="506.10" y="72.06" width="6.80" height="63.44" fill="#d22e28"/>
<line x1="509.5" y1="70.46000000000001" x2="509.5" y2="72.06" stroke="#d22e28" stroke-width="0.6"/>
<line x1="508.1" y1="70.46000000000001" x2="510.90000000000003" y2="70.46000000000001" stroke="#d22e28" stroke-width="0.6"/>
<rect x="515.00" y="103.78" width="6.80" height="31.72" fill="#0ea05a"/>
<line x1="518.4" y1="102.18" x2="518.4" y2="103.78" stroke="#0ea05a" stroke-width="0.6"/>
<line x1="517" y1="102.18" x2="519.8" y2="102.18" stroke="#0ea05a" stroke-width="0.6"/>
<rect x="523.50" y="95.85" width="6.80" height="39.65" fill="#ffa500"/>
<line x1="526.9" y1="94.25" x2="526.9" y2="95.85" stroke="#ffa500" stroke-width="0.6"/>
<line x1="525.5" y1="94.25" x2="528.3" y2="94.25" stroke="#ffa500" stroke-width="0.6"/>
<rect x="532.40" y="108.66" width="6.80" height="26.84" fill="#fb5c5f"/>
<line x1="535.8" y1="107.06" x2="535.8" y2="108.66" stroke="#fb5c5f" stroke-width="0.6"/>
<line x1="534.4" y1="107.06" x2="537.1999999999999" y2="107.06" stroke="#fb5c5f" stroke-width="0.6"/>
<polyline points="416.5,108 416.5,62.9 425.2,62.9 425.2,70.5" fill="none" stroke="#555" stroke-width="0.6"/>
<text x="420.85" y="61.5" font-size="5" text-anchor="middle" fill="#333">***</text>
<polyline points="492.4,68.4 492.4,56.9 535.5,56.9 535.5,105.5" fill="none" stroke="#555" stroke-width="0.6"/>
<text x="513.95" y="56.2" font-size="5" text-anchor="middle" fill="#333">***</text>
<polyline points="492.4,68.4 492.4,64.1 527.1,64.1 527.1,94.5" fill="none" stroke="#555" stroke-width="0.6"/>
<text x="509.75" y="63.4" font-size="5" text-anchor="middle" fill="#333">**</text>
<text x="5.5" y="160.5" font-size="13" text-anchor="start" fill="#1a1a1a">(d)</text>
<text x="103.4" y="153.8" font-size="8.8" text-anchor="middle" font-weight="bold" stroke="#1a1a1a" stroke-width="0.08" fill="#1a1a1a">Time (days)</text>
<text x="291.5" y="156.5" font-size="8.8" text-anchor="middle" font-weight="bold" stroke="#1a1a1a" stroke-width="0.08" fill="#1a1a1a">Time (days)</text>
<g transform="translate(49.7 196.0) scale(1.0)" fill="#fff"><path d="M-25.7,-22 C-19,-25 -12,-29.6 -7.7,-29.4 C-4.5,-29.2 -2,-27.5 0.6,-24.2" fill="none" stroke="#a8a8a8" stroke-width="1.5" stroke-linecap="round"/><path d="M-25.2,-22.1 C-19,-25 -12,-29.4 -7.7,-29.3 C-4.5,-29.1 -2,-27.5 0.4,-24.4" fill="none" stroke="#ececec" stroke-width="0.6" stroke-linecap="round"/><circle cx="0.3" cy="-13.4" r="11.4" stroke="#999" stroke-width="0.5"/><path d="M-6,-11 C-9,-12.6 -12,-10.5 -11.4,-7.6 C-10.9,-5.6 -9.2,-5 -8,-5.3 C-6,-2.8 -3,0.6 0,0.7 C3,0.6 6,-2.8 8,-5.3 C9.2,-5 11,-5.6 11.5,-7.6 C12,-10.5 9,-12.6 6,-11 C3,-12.2 -3,-12.2 -6,-11 Z" stroke="none"/><path d="M-6,-11 C-9,-12.6 -12,-10.5 -11.4,-7.6 C-10.9,-5.6 -9.2,-5 -8,-5.3 C-6,-2.8 -3,0.6 0,0.7 C3,0.6 6,-2.8 8,-5.3 C9.2,-5 11,-5.6 11.5,-7.6 C12,-10.5 9,-12.6 6,-11" fill="none" stroke="#7a7a7a" stroke-width="0.55"/><path d="M-6.2,-10.2 C-8.8,-11.4 -10.8,-9.6 -10.2,-7.0 M6.2,-10.2 C8.8,-11.4 10.8,-9.6 10.2,-7.0" fill="none" stroke="#9a9a9a" stroke-width="0.75"/><circle cx="-2.6" cy="-4.6" r="1.0" fill="#111"/><circle cx="2.5" cy="-4.7" r="1.0" fill="#111"/><circle cx="0" cy="0" r="0.9" fill="#111"/><path d="M-3.5,-1.2 L-7.5,-0.6 M-3.5,-0.6 L-6.8,1.0 M3.5,-1.2 L7.5,-0.6 M3.5,-0.6 L6.8,1.0" stroke="#c8c8c8" stroke-width="0.3"/></g>
<path d="M59.3,174.2 C62.5,175.5 64.2,179.5 63.9,183.3 L62,183 C61.8,179.8 60.6,176.8 58.6,175.4 Z" fill="#ebc5a5"/>
<path d="M59,174.6 C56.5,175.2 55.6,178.6 57.6,180.4" fill="none" stroke="#9a9a9a" stroke-width="0.55"/>
<g stroke-linecap="round"><line x1="65.4" y1="175" x2="67" y2="173" stroke="#aab" stroke-width="0.5"/><line x1="67" y1="173" x2="72.6" y2="165.4" stroke="#c4c6e0" stroke-width="2.4"/><line x1="67.4" y1="172.4" x2="72.2" y2="165.9" stroke="#f4f4fb" stroke-width="1.2"/><line x1="72.6" y1="165.6" x2="75.6" y2="161.6" stroke="#5b57a8" stroke-width="1.9"/><line x1="74.2" y1="160.8" x2="77" y2="163" stroke="#6d69b5" stroke-width="1.1"/></g>
<g transform="translate(108.4 195.3) scale(1.0)" fill="#fff"><path d="M-25.7,-22 C-19,-25 -12,-29.6 -7.7,-29.4 C-4.5,-29.2 -2,-27.5 0.6,-24.2" fill="none" stroke="#a8a8a8" stroke-width="1.5" stroke-linecap="round"/><path d="M-25.2,-22.1 C-19,-25 -12,-29.4 -7.7,-29.3 C-4.5,-29.1 -2,-27.5 0.4,-24.4" fill="none" stroke="#ececec" stroke-width="0.6" stroke-linecap="round"/><circle cx="0.3" cy="-13.4" r="11.4" stroke="#999" stroke-width="0.5"/><path d="M-6,-11 C-9,-12.6 -12,-10.5 -11.4,-7.6 C-10.9,-5.6 -9.2,-5 -8,-5.3 C-6,-2.8 -3,0.6 0,0.7 C3,0.6 6,-2.8 8,-5.3 C9.2,-5 11,-5.6 11.5,-7.6 C12,-10.5 9,-12.6 6,-11 C3,-12.2 -3,-12.2 -6,-11 Z" stroke="none"/><path d="M-6,-11 C-9,-12.6 -12,-10.5 -11.4,-7.6 C-10.9,-5.6 -9.2,-5 -8,-5.3 C-6,-2.8 -3,0.6 0,0.7 C3,0.6 6,-2.8 8,-5.3 C9.2,-5 11,-5.6 11.5,-7.6 C12,-10.5 9,-12.6 6,-11" fill="none" stroke="#7a7a7a" stroke-width="0.55"/><path d="M-6.2,-10.2 C-8.8,-11.4 -10.8,-9.6 -10.2,-7.0 M6.2,-10.2 C8.8,-11.4 10.8,-9.6 10.2,-7.0" fill="none" stroke="#9a9a9a" stroke-width="0.75"/><circle cx="-2.6" cy="-4.6" r="1.0" fill="#111"/><circle cx="2.5" cy="-4.7" r="1.0" fill="#111"/><circle cx="0" cy="0" r="0.9" fill="#111"/><path d="M-3.5,-1.2 L-7.5,-0.6 M-3.5,-0.6 L-6.8,1.0 M3.5,-1.2 L7.5,-0.6 M3.5,-0.6 L6.8,1.0" stroke="#c8c8c8" stroke-width="0.3"/></g>
<path d="M120.91,174.20 A6.8,6.8 0 0 1 125.85,170.87" fill="none" stroke="#f5a623" stroke-width="1.3" stroke-linecap="round"/>
<path d="M131.25,173.15 A6.3,6.3 0 0 1 131.63,181.65" fill="none" stroke="#f7b800" stroke-width="2.6" stroke-linecap="round"/>
<path d="M129.99,183.60 A6.8,6.8 0 0 1 124.25,183.90" fill="none" stroke="#f5a623" stroke-width="1.3" stroke-linecap="round"/>
<path d="M118,173.6 C120.5,175 122,179 121.7,183 L120.6,182.8 C120.5,179.5 119.5,176.5 117.6,175 Z" fill="#ecd0bc"/>
<g transform="translate(221 196.1) scale(1.0)" fill="#fff"><path d="M-25.7,-22 C-19,-25 -12,-29.6 -7.7,-29.4 C-4.5,-29.2 -2,-27.5 0.6,-24.2" fill="none" stroke="#a8a8a8" stroke-width="1.5" stroke-linecap="round"/><path d="M-25.2,-22.1 C-19,-25 -12,-29.4 -7.7,-29.3 C-4.5,-29.1 -2,-27.5 0.4,-24.4" fill="none" stroke="#ececec" stroke-width="0.6" stroke-linecap="round"/><circle cx="0.3" cy="-13.4" r="11.4" stroke="#999" stroke-width="0.5"/><path d="M-6,-11 C-9,-12.6 -12,-10.5 -11.4,-7.6 C-10.9,-5.6 -9.2,-5 -8,-5.3 C-6,-2.8 -3,0.6 0,0.7 C3,0.6 6,-2.8 8,-5.3 C9.2,-5 11,-5.6 11.5,-7.6 C12,-10.5 9,-12.6 6,-11 C3,-12.2 -3,-12.2 -6,-11 Z" stroke="none"/><path d="M-6,-11 C-9,-12.6 -12,-10.5 -11.4,-7.6 C-10.9,-5.6 -9.2,-5 -8,-5.3 C-6,-2.8 -3,0.6 0,0.7 C3,0.6 6,-2.8 8,-5.3 C9.2,-5 11,-5.6 11.5,-7.6 C12,-10.5 9,-12.6 6,-11" fill="none" stroke="#7a7a7a" stroke-width="0.55"/><path d="M-6.2,-10.2 C-8.8,-11.4 -10.8,-9.6 -10.2,-7.0 M6.2,-10.2 C8.8,-11.4 10.8,-9.6 10.2,-7.0" fill="none" stroke="#9a9a9a" stroke-width="0.75"/><circle cx="-2.6" cy="-4.6" r="1.0" fill="#111"/><circle cx="2.5" cy="-4.7" r="1.0" fill="#111"/><circle cx="0" cy="0" r="0.9" fill="#111"/><path d="M-3.5,-1.2 L-7.5,-0.6 M-3.5,-0.6 L-6.8,1.0 M3.5,-1.2 L7.5,-0.6 M3.5,-0.6 L6.8,1.0" stroke="#c8c8c8" stroke-width="0.3"/></g>
<g transform="translate(299.3 202.4) scale(1.05)" fill="#fff"><path d="M-25.7,-22 C-19,-25 -12,-29.6 -7.7,-29.4 C-4.5,-29.2 -2,-27.5 0.6,-24.2" fill="none" stroke="#a8a8a8" stroke-width="1.5" stroke-linecap="round"/><path d="M-25.2,-22.1 C-19,-25 -12,-29.4 -7.7,-29.3 C-4.5,-29.1 -2,-27.5 0.4,-24.4" fill="none" stroke="#ececec" stroke-width="0.6" stroke-linecap="round"/><circle cx="0.3" cy="-13.4" r="11.4" stroke="#999" stroke-width="0.5"/><path d="M-6,-11 C-9,-12.6 -12,-10.5 -11.4,-7.6 C-10.9,-5.6 -9.2,-5 -8,-5.3 C-6,-2.8 -3,0.6 0,0.7 C3,0.6 6,-2.8 8,-5.3 C9.2,-5 11,-5.6 11.5,-7.6 C12,-10.5 9,-12.6 6,-11 C3,-12.2 -3,-12.2 -6,-11 Z" stroke="none"/><path d="M-6,-11 C-9,-12.6 -12,-10.5 -11.4,-7.6 C-10.9,-5.6 -9.2,-5 -8,-5.3 C-6,-2.8 -3,0.6 0,0.7 C3,0.6 6,-2.8 8,-5.3 C9.2,-5 11,-5.6 11.5,-7.6 C12,-10.5 9,-12.6 6,-11" fill="none" stroke="#7a7a7a" stroke-width="0.55"/><path d="M-6.2,-10.2 C-8.8,-11.4 -10.8,-9.6 -10.2,-7.0 M6.2,-10.2 C8.8,-11.4 10.8,-9.6 10.2,-7.0" fill="none" stroke="#9a9a9a" stroke-width="0.75"/><circle cx="-2.6" cy="-4.6" r="1.0" fill="#111"/><circle cx="2.5" cy="-4.7" r="1.0" fill="#111"/><circle cx="0" cy="0" r="0.9" fill="#111"/><path d="M-3.5,-1.2 L-7.5,-0.6 M-3.5,-0.6 L-6.8,1.0 M3.5,-1.2 L7.5,-0.6 M3.5,-0.6 L6.8,1.0" stroke="#c8c8c8" stroke-width="0.3"/></g>
<polygon points="310.51,178.36 325.90,173.83 326.42,175.24 330.00,170.50 324.20,169.24 324.72,170.64 310.09,177.24" fill="#f7b21f"/>
<polygon points="311.20,187.00 327.00,188.10 327.00,189.60 332.00,186.40 327.00,183.20 327.00,184.70 311.20,185.80" fill="#f7b21f"/>
<polygon points="311.15,200.50 326.87,203.04 326.73,204.53 332.00,201.80 327.31,198.16 327.18,199.65 311.25,199.30" fill="#f7b21f"/>
<g stroke-linecap="round"><polygon points="331.5,163 334,159.8 338.5,160.5 340.5,164.5 338,167.8 333.5,166.5" fill="#b9a060"/><g fill="#3a342c"><circle cx="335" cy="162" r="0.8"/><circle cx="337.5" cy="164.6" r="0.8"/><circle cx="334" cy="165" r="0.6"/><circle cx="339" cy="162" r="0.6"/></g><circle cx="335.8" cy="161.2" r="0.9" fill="#e6cf7a"/><circle cx="333.6" cy="163.4" r="0.7" fill="#e8d488"/><polygon points="338,164 344.5,162.5 347.5,166.5 343.5,171 339.5,170" fill="#d9d5cf" stroke="#3a3530" stroke-width="0.6"/><g stroke="#222" stroke-width="1.25" fill="none" stroke-dasharray="2.2 0.6"><path d="M339.2,170.6 L341.3,177"/><path d="M341.9,170.3 L344.8,176.4"/><path d="M344.6,169 L347.5,175.2"/><path d="M346,166.5 L350,173.4"/><path d="M340,162.6 L349,161.9"/></g><g stroke="#777" stroke-width="0.5" fill="none"><path d="M339.8,165.5 L341.5,169.8"/><path d="M342,165 L344,169.3"/><path d="M344,164.5 L346,168"/></g></g>
<g><path d="M340.5,182.2 L352.2,189.6" stroke="#b8963c" stroke-width="3.2" stroke-linecap="round"/><path d="M340.5,182.2 L352.2,189.6" stroke="#f3e3a6" stroke-width="2.2" stroke-linecap="round"/><circle cx="338.6" cy="180.4" r="1.9" fill="#f0dc94" stroke="#b8963c" stroke-width="0.5"/><circle cx="340.2" cy="179.6" r="1.5" fill="#f0dc94" stroke="#b8963c" stroke-width="0.4"/><circle cx="354" cy="190.8" r="1.9" fill="#f0dc94" stroke="#b8963c" stroke-width="0.5"/><circle cx="352.4" cy="191.8" r="1.5" fill="#f0dc94" stroke="#b8963c" stroke-width="0.4"/><path d="M341,182.4 L352,189.4" stroke="#f6ebbf" stroke-width="1.6" stroke-linecap="round"/></g>
<circle cx="338.2" cy="197.2" r="1.35" fill="#e6b94e" stroke="#a7802a" stroke-width="0.3"/><circle cx="338.2" cy="197.2" r="0.5" fill="#9a9a50"/><circle cx="340.8" cy="197.2" r="1.35" fill="#e6b94e" stroke="#a7802a" stroke-width="0.3"/><circle cx="340.8" cy="197.2" r="0.5" fill="#7a8a60"/><circle cx="343.4" cy="197.2" r="1.35" fill="#e6b94e" stroke="#a7802a" stroke-width="0.3"/><circle cx="343.4" cy="197.2" r="0.5" fill="#9a9a50"/><circle cx="346.0" cy="197.2" r="1.35" fill="#e6b94e" stroke="#a7802a" stroke-width="0.3"/><circle cx="346.0" cy="197.2" r="0.5" fill="#7a8a60"/><circle cx="348.6" cy="197.2" r="1.35" fill="#e6b94e" stroke="#a7802a" stroke-width="0.3"/><circle cx="348.6" cy="197.2" r="0.5" fill="#9a9a50"/><circle cx="336.9" cy="199.4" r="1.35" fill="#e6b94e" stroke="#a7802a" stroke-width="0.3"/><circle cx="336.9" cy="199.4" r="0.5" fill="#9a9a50"/><circle cx="339.5" cy="199.4" r="1.35" fill="#e6b94e" stroke="#a7802a" stroke-width="0.3"/><circle cx="339.5" cy="199.4" r="0.5" fill="#9a9a50"/><circle cx="342.1" cy="199.4" r="1.35" fill="#e6b94e" stroke="#a7802a" stroke-width="0.3"/><circle cx="342.1" cy="199.4" r="0.5" fill="#9a9a50"/><circle cx="344.7" cy="199.4" r="1.35" fill="#e6b94e" stroke="#a7802a" stroke-width="0.3"/><circle cx="344.7" cy="199.4" r="0.5" fill="#6f8f78"/><circle cx="347.3" cy="199.4" r="1.35" fill="#e6b94e" stroke="#a7802a" stroke-width="0.3"/><circle cx="347.3" cy="199.4" r="0.5" fill="#7a8a60"/><circle cx="349.9" cy="199.4" r="1.35" fill="#e6b94e" stroke="#a7802a" stroke-width="0.3"/><circle cx="349.9" cy="199.4" r="0.5" fill="#6f8f78"/><circle cx="352.5" cy="199.4" r="1.35" fill="#e6b94e" stroke="#a7802a" stroke-width="0.3"/><circle cx="352.5" cy="199.4" r="0.5" fill="#9a9a50"/><circle cx="335.6" cy="201.7" r="1.35" fill="#e6b94e" stroke="#a7802a" stroke-width="0.3"/><circle cx="335.6" cy="201.7" r="0.5" fill="#6f8f78"/><circle cx="338.2" cy="201.7" r="1.35" fill="#e6b94e" stroke="#a7802a" stroke-width="0.3"/><circle cx="338.2" cy="201.7" r="0.5" fill="#6f8f78"/><circle cx="340.8" cy="201.7" r="1.35" fill="#e6b94e" stroke="#a7802a" stroke-width="0.3"/><circle cx="340.8" cy="201.7" r="0.5" fill="#6f8f78"/><circle cx="343.4" cy="201.7" r="1.35" fill="#e6b94e" stroke="#a7802a" stroke-width="0.3"/><circle cx="343.4" cy="201.7" r="0.5" fill="#7a8a60"/><circle cx="346.0" cy="201.7" r="1.35" fill="#e6b94e" stroke="#a7802a" stroke-width="0.3"/><circle cx="346.0" cy="201.7" r="0.5" fill="#7a8a60"/><circle cx="348.6" cy="201.7" r="1.35" fill="#e6b94e" stroke="#a7802a" stroke-width="0.3"/><circle cx="348.6" cy="201.7" r="0.5" fill="#6f8f78"/><circle cx="351.2" cy="201.7" r="1.35" fill="#e6b94e" stroke="#a7802a" stroke-width="0.3"/><circle cx="351.2" cy="201.7" r="0.5" fill="#7a8a60"/><circle cx="336.9" cy="203.9" r="1.35" fill="#e6b94e" stroke="#a7802a" stroke-width="0.3"/><circle cx="336.9" cy="203.9" r="0.5" fill="#9a9a50"/><circle cx="339.5" cy="203.9" r="1.35" fill="#e6b94e" stroke="#a7802a" stroke-width="0.3"/><circle cx="339.5" cy="203.9" r="0.5" fill="#6f8f78"/><circle cx="342.1" cy="203.9" r="1.35" fill="#e6b94e" stroke="#a7802a" stroke-width="0.3"/><circle cx="342.1" cy="203.9" r="0.5" fill="#9a9a50"/><circle cx="344.7" cy="203.9" r="1.35" fill="#e6b94e" stroke="#a7802a" stroke-width="0.3"/><circle cx="344.7" cy="203.9" r="0.5" fill="#6f8f78"/><circle cx="347.3" cy="203.9" r="1.35" fill="#e6b94e" stroke="#a7802a" stroke-width="0.3"/><circle cx="347.3" cy="203.9" r="0.5" fill="#6f8f78"/><circle cx="349.9" cy="203.9" r="1.35" fill="#e6b94e" stroke="#a7802a" stroke-width="0.3"/><circle cx="349.9" cy="203.9" r="0.5" fill="#9a9a50"/><circle cx="352.5" cy="203.9" r="1.35" fill="#e6b94e" stroke="#a7802a" stroke-width="0.3"/><circle cx="352.5" cy="203.9" r="0.5" fill="#6f8f78"/><circle cx="338.2" cy="206.2" r="1.35" fill="#e6b94e" stroke="#a7802a" stroke-width="0.3"/><circle cx="338.2" cy="206.2" r="0.5" fill="#7a8a60"/><circle cx="340.8" cy="206.2" r="1.35" fill="#e6b94e" stroke="#a7802a" stroke-width="0.3"/><circle cx="340.8" cy="206.2" r="0.5" fill="#7a8a60"/><circle cx="343.4" cy="206.2" r="1.35" fill="#e6b94e" stroke="#a7802a" stroke-width="0.3"/><circle cx="343.4" cy="206.2" r="0.5" fill="#6f8f78"/><circle cx="346.0" cy="206.2" r="1.35" fill="#e6b94e" stroke="#a7802a" stroke-width="0.3"/><circle cx="346.0" cy="206.2" r="0.5" fill="#7a8a60"/><circle cx="348.6" cy="206.2" r="1.35" fill="#e6b94e" stroke="#a7802a" stroke-width="0.3"/><circle cx="348.6" cy="206.2" r="0.5" fill="#6f8f78"/><circle cx="351.2" cy="206.2" r="1.35" fill="#e6b94e" stroke="#a7802a" stroke-width="0.3"/><circle cx="351.2" cy="206.2" r="0.5" fill="#6f8f78"/>
<text x="43" y="211" font-size="6.1" text-anchor="middle" fill="#1a1a1a">CFA injected into the tibiotarsal</text>
<text x="43" y="217.6" font-size="6.1" text-anchor="middle" fill="#1a1a1a">joint (-6 day)</text>
<text x="118" y="211" font-size="6.1" text-anchor="middle" fill="#1a1a1a">Knee administered daily</text>
<text x="118" y="217.6" font-size="6.1" text-anchor="middle" fill="#1a1a1a">(0 day)</text>
<text x="218.5" y="212" font-size="6.1" text-anchor="middle" fill="#1a1a1a">Beam Balance Test (12 and 24 day)</text>
<text x="218.5" y="219.5" font-size="6.1" text-anchor="middle" fill="#1a1a1a">Imprinting Experiments (12 day)</text>
<text x="322.8" y="215" font-size="6.1" text-anchor="middle" fill="#1a1a1a">Tissue was collected for different</text>
<text x="322.8" y="220.6" font-size="6.1" text-anchor="middle" fill="#1a1a1a">assays (24 day)</text>
<path d="M49.699999999999996,228 L51.9,228 L51.9,232.8 L53.699999999999996,232.4 L50.8,236.8 L47.9,232.4 L49.699999999999996,232.8 Z" fill="#f7b529"/>
<path d="M103.5,228 L105.69999999999999,228 L105.69999999999999,232.8 L107.5,232.4 L104.6,236.8 L101.69999999999999,232.4 L103.5,232.8 Z" fill="#f7b529"/>
<path d="M217.0,227.7 L219.2,227.7 L219.2,233.4 L221.0,233.0 L218.1,237.4 L215.2,233.0 L217.0,233.4 Z" fill="#f7b529"/>
<path d="M338.4,228.5 L340.6,228.5 L340.6,234.3 L342.4,233.9 L339.5,238.3 L336.6,233.9 L338.4,234.3 Z" fill="#f7b529"/>
<defs><linearGradient id="tl" x1="0" x2="1" y1="0" y2="0"><stop offset="0" stop-color="#fccf74"/><stop offset="1" stop-color="#fbc24c"/></linearGradient></defs>
<path d="M11.5,251.7 L352.9,251.7 L352.9,248.7 L363.5,255.8 L352.9,262.9 L352.9,259.7 L11.5,259.7 L16.2,255.7 Z" fill="url(#tl)"/>
<text x="26" y="250.5" font-size="8.8" text-anchor="middle" fill="#1a1a1a">Day</text>
<text x="49.7" y="250.8" font-size="8.5" text-anchor="middle" fill="#1a1a1a">-6</text>
<text x="74.2" y="250.8" font-size="8.5" text-anchor="middle" fill="#1a1a1a">-3</text>
<text x="104.3" y="250.8" font-size="8.5" text-anchor="middle" fill="#1a1a1a">0</text>
<text x="132.9" y="250.8" font-size="8.5" text-anchor="middle" fill="#1a1a1a">3</text>
<text x="162.9" y="250.8" font-size="8.5" text-anchor="middle" fill="#1a1a1a">6</text>
<text x="189.4" y="250.8" font-size="8.5" text-anchor="middle" fill="#1a1a1a">9</text>
<text x="218.1" y="250.8" font-size="8.5" text-anchor="middle" fill="#1a1a1a">12</text>
<text x="248.6" y="250.8" font-size="8.5" text-anchor="middle" fill="#1a1a1a">15</text>
<text x="279.3" y="250.8" font-size="8.5" text-anchor="middle" fill="#1a1a1a">18</text>
<text x="310" y="250.8" font-size="8.5" text-anchor="middle" fill="#1a1a1a">21</text>
<text x="340.2" y="250.8" font-size="8.5" text-anchor="middle" fill="#1a1a1a">24</text>
<polyline points="49.7,263 49.7,267.2 342,267.2 342,262.5" fill="none" stroke="#555" stroke-width="0.8"/>
<line x1="105.4" y1="263" x2="105.4" y2="267.2" stroke="#555" stroke-width="0.8"/>
<text x="77.3" y="278.3" font-size="8" text-anchor="middle" fill="#1a1a1a">Growing period</text>
<text x="225.7" y="278.3" font-size="8" text-anchor="middle" fill="#1a1a1a">Treatment</text>
<text x="369.3" y="161.5" font-size="13" text-anchor="start" fill="#1a1a1a">(e)</text>
<rect x="420.80" y="154.70" width="108.50" height="13.30" fill="#ececec"/>
<text x="406" y="162.4" font-size="5.9" text-anchor="middle" font-weight="bold" stroke="#1a1a1a" stroke-width="0.3" fill="#1a1a1a">JAK2</text>
<rect x="420.80" y="170.60" width="108.50" height="13.40" fill="#ececec"/>
<text x="406" y="179.4" font-size="5.9" text-anchor="middle" font-weight="bold" stroke="#1a1a1a" stroke-width="0.3" fill="#1a1a1a">STAT3</text>
<rect x="420.80" y="188.00" width="108.50" height="13.30" fill="#ececec"/>
<text x="406" y="196.6" font-size="5.9" text-anchor="middle" font-weight="bold" stroke="#1a1a1a" stroke-width="0.3" fill="#1a1a1a">P-STAT3</text>
<rect x="420.80" y="204.00" width="108.50" height="14.20" fill="#ececec"/>
<text x="406" y="214.1" font-size="5.9" text-anchor="middle" font-weight="bold" stroke="#1a1a1a" stroke-width="0.3" fill="#1a1a1a">IL-6</text>
<rect x="420.80" y="221.80" width="108.50" height="13.70" fill="#ececec"/>
<text x="406" y="230.9" font-size="5.9" text-anchor="middle" font-weight="bold" stroke="#1a1a1a" stroke-width="0.3" fill="#1a1a1a">TNF-α</text>
<rect x="420.80" y="239.10" width="108.50" height="13.60" fill="#e4e4e4"/>
<text x="406" y="248.0" font-size="5.9" text-anchor="middle" font-weight="bold" stroke="#1a1a1a" stroke-width="0.3" fill="#1a1a1a">β-actin</text>
<filter id="bl" x="-20%" y="-100%" width="140%" height="300%"><feGaussianBlur stdDeviation="0.45"/></filter>
<rect x="438.60" y="159.10" width="13.00" height="2.40" rx="1.20" fill="#1a1a1a" opacity="1.0" filter="url(#bl)"/>
<rect x="438.60" y="176.10" width="13.00" height="2.20" rx="1.10" fill="#1a1a1a" opacity="1.0" filter="url(#bl)"/>
<rect x="438.35" y="179.60" width="13.50" height="2.80" rx="1.40" fill="#aaa" opacity="0.45" filter="url(#bl)"/>
<rect x="454.50" y="159.10" width="13.00" height="2.40" rx="1.20" fill="#1a1a1a" opacity="1.0" filter="url(#bl)"/>
<rect x="454.50" y="176.10" width="13.00" height="2.20" rx="1.10" fill="#1a1a1a" opacity="1.0" filter="url(#bl)"/>
<rect x="454.25" y="179.60" width="13.50" height="2.80" rx="1.40" fill="#aaa" opacity="0.45" filter="url(#bl)"/>
<rect x="470.40" y="159.10" width="13.00" height="2.40" rx="1.20" fill="#1a1a1a" opacity="1.0" filter="url(#bl)"/>
<rect x="470.40" y="176.10" width="13.00" height="2.20" rx="1.10" fill="#1a1a1a" opacity="1.0" filter="url(#bl)"/>
<rect x="470.15" y="179.60" width="13.50" height="2.80" rx="1.40" fill="#aaa" opacity="0.45" filter="url(#bl)"/>
<rect x="485.80" y="159.10" width="13.00" height="2.40" rx="1.20" fill="#1a1a1a" opacity="1.0" filter="url(#bl)"/>
<rect x="485.80" y="176.10" width="13.00" height="2.20" rx="1.10" fill="#1a1a1a" opacity="1.0" filter="url(#bl)"/>
<rect x="485.55" y="179.60" width="13.50" height="2.80" rx="1.40" fill="#aaa" opacity="0.45" filter="url(#bl)"/>
<rect x="500.80" y="159.10" width="13.00" height="2.40" rx="1.20" fill="#1a1a1a" opacity="1.0" filter="url(#bl)"/>
<rect x="500.80" y="176.10" width="13.00" height="2.20" rx="1.10" fill="#1a1a1a" opacity="1.0" filter="url(#bl)"/>
<rect x="500.55" y="179.60" width="13.50" height="2.80" rx="1.40" fill="#aaa" opacity="0.45" filter="url(#bl)"/>
<rect x="437.05" y="193.55" width="11.50" height="2.10" rx="1.05" fill="#1a1a1a" opacity="1" filter="url(#bl)"/>
<rect x="453.45" y="193.55" width="11.50" height="2.10" rx="1.05" fill="#1a1a1a" opacity="1" filter="url(#bl)"/>
<rect x="468.75" y="193.55" width="11.50" height="2.10" rx="1.05" fill="#1a1a1a" opacity="1" filter="url(#bl)"/>
<rect x="484.25" y="193.55" width="11.50" height="2.10" rx="1.05" fill="#1a1a1a" opacity="1" filter="url(#bl)"/>
<rect x="500.35" y="193.55" width="11.50" height="2.10" rx="1.05" fill="#1a1a1a" opacity="0.6" filter="url(#bl)"/>
<rect x="436.25" y="210.45" width="10.50" height="1.70" rx="0.85" fill="#1a1a1a" opacity="0.9" filter="url(#bl)"/>
<rect x="436.25" y="227.45" width="10.50" height="1.90" rx="0.95" fill="#1a1a1a" opacity="0.95" filter="url(#bl)"/>
<rect x="452.55" y="210.45" width="10.50" height="1.70" rx="0.85" fill="#1a1a1a" opacity="0.9" filter="url(#bl)"/>
<rect x="452.55" y="227.45" width="10.50" height="1.90" rx="0.95" fill="#1a1a1a" opacity="0.95" filter="url(#bl)"/>
<rect x="468.95" y="210.45" width="10.50" height="1.70" rx="0.85" fill="#1a1a1a" opacity="0.9" filter="url(#bl)"/>
<rect x="468.95" y="227.45" width="10.50" height="1.90" rx="0.95" fill="#1a1a1a" opacity="0.95" filter="url(#bl)"/>
<rect x="485.55" y="210.45" width="10.50" height="1.70" rx="0.85" fill="#1a1a1a" opacity="0.9" filter="url(#bl)"/>
<rect x="485.55" y="227.45" width="10.50" height="1.90" rx="0.95" fill="#1a1a1a" opacity="0.95" filter="url(#bl)"/>
<rect x="502.45" y="210.45" width="10.50" height="1.70" rx="0.85" fill="#1a1a1a" opacity="0.8" filter="url(#bl)"/>
<rect x="502.45" y="227.45" width="10.50" height="1.90" rx="0.95" fill="#1a1a1a" opacity="0.95" filter="url(#bl)"/>
<rect x="436.00" y="241.60" width="13.00" height="3.60" rx="1.80" fill="#1a1a1a" opacity="1.0" filter="url(#bl)"/>
<rect x="451.40" y="241.60" width="13.00" height="3.60" rx="1.80" fill="#1a1a1a" opacity="1.0" filter="url(#bl)"/>
<rect x="466.90" y="241.60" width="13.00" height="3.60" rx="1.80" fill="#1a1a1a" opacity="1.0" filter="url(#bl)"/>
<rect x="482.60" y="241.60" width="13.00" height="3.60" rx="1.80" fill="#1a1a1a" opacity="1.0" filter="url(#bl)"/>
<rect x="498.60" y="241.60" width="13.00" height="3.60" rx="1.80" fill="#1a1a1a" opacity="1.0" filter="url(#bl)"/>
<text x="445.5" y="255.5" font-size="5.6" text-anchor="end" font-weight="bold" stroke="#1a1a1a" stroke-width="0.3" fill="#1a1a1a" transform="rotate(-45 445.5 255.5)">Control</text>
<text x="460.5" y="255.5" font-size="5.6" text-anchor="end" font-weight="bold" stroke="#1a1a1a" stroke-width="0.3" fill="#1a1a1a" transform="rotate(-45 460.5 255.5)">Model</text>
<text x="475" y="255.5" font-size="5.6" text-anchor="end" font-weight="bold" stroke="#1a1a1a" stroke-width="0.3" fill="#1a1a1a" transform="rotate(-45 475 255.5)">KAT</text>
<text x="491" y="255.5" font-size="5.6" text-anchor="end" font-weight="bold" stroke="#1a1a1a" stroke-width="0.3" fill="#1a1a1a" transform="rotate(-45 491 255.5)">AAT</text>
<text x="507" y="255.5" font-size="5.6" text-anchor="end" font-weight="bold" stroke="#1a1a1a" stroke-width="0.3" fill="#1a1a1a" transform="rotate(-45 507 255.5)">AKAT</text>
<text x="5.5" y="289.2" font-size="12.5" text-anchor="start" fill="#1a1a1a">(f)</text>
<line x1="58.8" y1="298" x2="58.8" y2="383" stroke="#222" stroke-width="1.1"/>
<line x1="58.8" y1="382.9" x2="198" y2="382.9" stroke="#222" stroke-width="1.1"/>
<line x1="55.8" y1="382.3" x2="58.8" y2="382.3" stroke="#222" stroke-width="1"/>
<text x="54.5" y="385.3" font-size="9" text-anchor="end" font-weight="bold" stroke="#1a1a1a" stroke-width="0.08" fill="#1a1a1a">0.0</text>
<line x1="55.8" y1="361.34000000000003" x2="58.8" y2="361.34000000000003" stroke="#222" stroke-width="1"/>
<text x="54.5" y="364.34000000000003" font-size="9" text-anchor="end" font-weight="bold" stroke="#1a1a1a" stroke-width="0.08" fill="#1a1a1a">0.2</text>
<line x1="55.8" y1="340.38" x2="58.8" y2="340.38" stroke="#222" stroke-width="1"/>
<text x="54.5" y="343.38" font-size="9" text-anchor="end" font-weight="bold" stroke="#1a1a1a" stroke-width="0.08" fill="#1a1a1a">0.4</text>
<line x1="55.8" y1="319.42" x2="58.8" y2="319.42" stroke="#222" stroke-width="1"/>
<text x="54.5" y="322.42" font-size="9" text-anchor="end" font-weight="bold" stroke="#1a1a1a" stroke-width="0.08" fill="#1a1a1a">0.6</text>
<line x1="55.8" y1="298.46000000000004" x2="58.8" y2="298.46000000000004" stroke="#222" stroke-width="1"/>
<text x="54.5" y="301.46000000000004" font-size="9" text-anchor="end" font-weight="bold" stroke="#1a1a1a" stroke-width="0.08" fill="#1a1a1a">0.8</text>
<line x1="57.2" y1="371.82" x2="58.8" y2="371.82" stroke="#222" stroke-width="0.7"/>
<line x1="57.2" y1="350.86" x2="58.8" y2="350.86" stroke="#222" stroke-width="0.7"/>
<line x1="57.2" y1="329.90000000000003" x2="58.8" y2="329.90000000000003" stroke="#222" stroke-width="0.7"/>
<line x1="57.2" y1="308.94" x2="58.8" y2="308.94" stroke="#222" stroke-width="0.7"/>
<line x1="58.8" y1="382.9" x2="58.8" y2="386" stroke="#222" stroke-width="1"/>
<text x="58.8" y="395" font-size="9" text-anchor="middle" font-weight="bold" stroke="#1a1a1a" stroke-width="0.08" fill="#1a1a1a">0</text>
<line x1="105.1" y1="382.9" x2="105.1" y2="386" stroke="#222" stroke-width="1"/>
<text x="105.1" y="395" font-size="9" text-anchor="middle" font-weight="bold" stroke="#1a1a1a" stroke-width="0.08" fill="#1a1a1a">10</text>
<line x1="151.39999999999998" y1="382.9" x2="151.39999999999998" y2="386" stroke="#222" stroke-width="1"/>
<text x="151.39999999999998" y="395" font-size="9" text-anchor="middle" font-weight="bold" stroke="#1a1a1a" stroke-width="0.08" fill="#1a1a1a">20</text>
<line x1="197.7" y1="382.9" x2="197.7" y2="386" stroke="#222" stroke-width="1"/>
<text x="197.7" y="395" font-size="9" text-anchor="middle" font-weight="bold" stroke="#1a1a1a" stroke-width="0.08" fill="#1a1a1a">30</text>
<line x1="81.94999999999999" y1="382.9" x2="81.94999999999999" y2="384.8" stroke="#222" stroke-width="0.7"/>
<line x1="128.25" y1="382.9" x2="128.25" y2="384.8" stroke="#222" stroke-width="0.7"/>
<line x1="174.55" y1="382.9" x2="174.55" y2="384.8" stroke="#222" stroke-width="0.7"/>
<text x="128.8" y="409.5" font-size="11.3" text-anchor="middle" font-weight="bold" stroke="#1a1a1a" stroke-width="0.08" fill="#1a1a1a">Time (h)</text>
<text x="19.6" y="335" font-size="10.4" text-anchor="middle" font-weight="bold" stroke="#1a1a1a" stroke-width="0.08" fill="#1a1a1a" transform="rotate(-90 19.6 335)" dy="3.5" textLength="57.8" lengthAdjust="spacingAndGlyphs">Actarit plasma</text>
<text x="31.9" y="337.9" font-size="10.4" text-anchor="middle" font-weight="bold" stroke="#1a1a1a" stroke-width="0.08" fill="#1a1a1a" transform="rotate(-90 31.9 337.9)" dy="3.5" textLength="98.3" lengthAdjust="spacingAndGlyphs">concentration (ug/mL)</text>
<line x1="63.7" y1="293.4" x2="73.2" y2="293.4" stroke="#f05a5a" stroke-width="1"/>
<circle cx="68.4" cy="293.4" r="0.9" fill="#f05a5a"/>
<text x="79" y="296.8" font-size="9.8" text-anchor="start" fill="#1a1a1a">SIHDD-PSA</text>
<line x1="63.7" y1="304.6" x2="73.2" y2="304.6" stroke="#9fd59a" stroke-width="1"/>
<text x="79" y="308.3" font-size="9.8" text-anchor="start" fill="#1a1a1a">Oral Actarit</text>
<line x1="61.114999999999995" y1="366.05600000000004" x2="61.114999999999995" y2="374.44" stroke="#9fd59a" stroke-width="0.6"/>
<line x1="60.114999999999995" y1="366.05600000000004" x2="62.114999999999995" y2="366.05600000000004" stroke="#9fd59a" stroke-width="0.5"/>
<line x1="60.114999999999995" y1="374.44" x2="62.114999999999995" y2="374.44" stroke="#9fd59a" stroke-width="0.5"/>
<line x1="63.43" y1="361.7592" x2="63.43" y2="372.23920000000004" stroke="#9fd59a" stroke-width="0.6"/>
<line x1="62.43" y1="361.7592" x2="64.43" y2="361.7592" stroke="#9fd59a" stroke-width="0.5"/>
<line x1="62.43" y1="372.23920000000004" x2="64.43" y2="372.23920000000004" stroke="#9fd59a" stroke-width="0.5"/>
<line x1="65.745" y1="340.38" x2="65.745" y2="361.34000000000003" stroke="#9fd59a" stroke-width="0.6"/>
<line x1="64.745" y1="340.38" x2="66.745" y2="340.38" stroke="#9fd59a" stroke-width="0.5"/>
<line x1="64.745" y1="361.34000000000003" x2="66.745" y2="361.34000000000003" stroke="#9fd59a" stroke-width="0.5"/>
<line x1="68.06" y1="353.1656" x2="68.06" y2="369.9336" stroke="#9fd59a" stroke-width="0.6"/>
<line x1="67.06" y1="353.1656" x2="69.06" y2="353.1656" stroke="#9fd59a" stroke-width="0.5"/>
<line x1="67.06" y1="369.9336" x2="69.06" y2="369.9336" stroke="#9fd59a" stroke-width="0.5"/>
<line x1="72.69" y1="366.7896" x2="72.69" y2="375.1736" stroke="#9fd59a" stroke-width="0.6"/>
<line x1="71.69" y1="366.7896" x2="73.69" y2="366.7896" stroke="#9fd59a" stroke-width="0.5"/>
<line x1="71.69" y1="375.1736" x2="73.69" y2="375.1736" stroke="#9fd59a" stroke-width="0.5"/>
<line x1="77.32" y1="371.19120000000004" x2="77.32" y2="375.3832" stroke="#9fd59a" stroke-width="0.6"/>
<line x1="76.32" y1="371.19120000000004" x2="78.32" y2="371.19120000000004" stroke="#9fd59a" stroke-width="0.5"/>
<line x1="76.32" y1="375.3832" x2="78.32" y2="375.3832" stroke="#9fd59a" stroke-width="0.5"/>
<line x1="86.58" y1="372.868" x2="86.58" y2="377.06" stroke="#9fd59a" stroke-width="0.6"/>
<line x1="85.58" y1="372.868" x2="87.58" y2="372.868" stroke="#9fd59a" stroke-width="0.5"/>
<line x1="85.58" y1="377.06" x2="87.58" y2="377.06" stroke="#9fd59a" stroke-width="0.5"/>
<line x1="95.84" y1="377.7936" x2="95.84" y2="379.88960000000003" stroke="#9fd59a" stroke-width="0.6"/>
<line x1="94.84" y1="377.7936" x2="96.84" y2="377.7936" stroke="#9fd59a" stroke-width="0.5"/>
<line x1="94.84" y1="379.88960000000003" x2="96.84" y2="379.88960000000003" stroke="#9fd59a" stroke-width="0.5"/>
<line x1="105.1" y1="378.5272" x2="105.1" y2="380.6232" stroke="#9fd59a" stroke-width="0.6"/>
<line x1="104.1" y1="378.5272" x2="106.1" y2="378.5272" stroke="#9fd59a" stroke-width="0.5"/>
<line x1="104.1" y1="380.6232" x2="106.1" y2="380.6232" stroke="#9fd59a" stroke-width="0.5"/>
<polyline points="58.80,382.30 61.11,370.25 63.43,367.00 65.75,350.86 68.06,361.55 72.69,370.98 77.32,373.29 86.58,374.96 95.84,378.84 105.10,379.58" fill="none" stroke="#9fd59a" stroke-width="1.0" stroke-linejoin="round"/>
<line x1="61.114999999999995" y1="350.86" x2="61.114999999999995" y2="361.34000000000003" stroke="#f05a5a" stroke-width="0.6"/>
<line x1="60.01499999999999" y1="350.86" x2="62.214999999999996" y2="350.86" stroke="#f05a5a" stroke-width="0.5"/>
<line x1="60.01499999999999" y1="361.34000000000003" x2="62.214999999999996" y2="361.34000000000003" stroke="#f05a5a" stroke-width="0.5"/>
<line x1="63.43" y1="342.476" x2="63.43" y2="352.956" stroke="#f05a5a" stroke-width="0.6"/>
<line x1="62.33" y1="342.476" x2="64.53" y2="342.476" stroke="#f05a5a" stroke-width="0.5"/>
<line x1="62.33" y1="352.956" x2="64.53" y2="352.956" stroke="#f05a5a" stroke-width="0.5"/>
<line x1="65.745" y1="335.664" x2="65.745" y2="348.24" stroke="#f05a5a" stroke-width="0.6"/>
<line x1="64.64500000000001" y1="335.664" x2="66.845" y2="335.664" stroke="#f05a5a" stroke-width="0.5"/>
<line x1="64.64500000000001" y1="348.24" x2="66.845" y2="348.24" stroke="#f05a5a" stroke-width="0.5"/>
<line x1="68.06" y1="332.52000000000004" x2="68.06" y2="345.096" stroke="#f05a5a" stroke-width="0.6"/>
<line x1="66.96000000000001" y1="332.52000000000004" x2="69.16" y2="332.52000000000004" stroke="#f05a5a" stroke-width="0.5"/>
<line x1="66.96000000000001" y1="345.096" x2="69.16" y2="345.096" stroke="#f05a5a" stroke-width="0.5"/>
<line x1="72.69" y1="324.8696" x2="72.69" y2="339.5416" stroke="#f05a5a" stroke-width="0.6"/>
<line x1="71.59" y1="324.8696" x2="73.78999999999999" y2="324.8696" stroke="#f05a5a" stroke-width="0.5"/>
<line x1="71.59" y1="339.5416" x2="73.78999999999999" y2="339.5416" stroke="#f05a5a" stroke-width="0.5"/>
<line x1="77.32" y1="337.4456" x2="77.32" y2="347.92560000000003" stroke="#f05a5a" stroke-width="0.6"/>
<line x1="76.22" y1="337.4456" x2="78.41999999999999" y2="337.4456" stroke="#f05a5a" stroke-width="0.5"/>
<line x1="76.22" y1="347.92560000000003" x2="78.41999999999999" y2="347.92560000000003" stroke="#f05a5a" stroke-width="0.5"/>
<line x1="86.58" y1="346.0392" x2="86.58" y2="356.5192" stroke="#f05a5a" stroke-width="0.6"/>
<line x1="85.48" y1="346.0392" x2="87.67999999999999" y2="346.0392" stroke="#f05a5a" stroke-width="0.5"/>
<line x1="85.48" y1="356.5192" x2="87.67999999999999" y2="356.5192" stroke="#f05a5a" stroke-width="0.5"/>
<line x1="95.84" y1="358.196" x2="95.84" y2="366.58000000000004" stroke="#f05a5a" stroke-width="0.6"/>
<line x1="94.74000000000001" y1="358.196" x2="96.94" y2="358.196" stroke="#f05a5a" stroke-width="0.5"/>
<line x1="94.74000000000001" y1="366.58000000000004" x2="96.94" y2="366.58000000000004" stroke="#f05a5a" stroke-width="0.5"/>
<line x1="105.1" y1="366.2656" x2="105.1" y2="372.5536" stroke="#f05a5a" stroke-width="0.6"/>
<line x1="104.0" y1="366.2656" x2="106.19999999999999" y2="366.2656" stroke="#f05a5a" stroke-width="0.5"/>
<line x1="104.0" y1="372.5536" x2="106.19999999999999" y2="372.5536" stroke="#f05a5a" stroke-width="0.5"/>
<line x1="114.36" y1="372.344" x2="114.36" y2="376.536" stroke="#f05a5a" stroke-width="0.6"/>
<line x1="113.26" y1="372.344" x2="115.46" y2="372.344" stroke="#f05a5a" stroke-width="0.5"/>
<line x1="113.26" y1="376.536" x2="115.46" y2="376.536" stroke="#f05a5a" stroke-width="0.5"/>
<line x1="169.92000000000002" y1="376.2216" x2="169.92000000000002" y2="378.3176" stroke="#f05a5a" stroke-width="0.6"/>
<line x1="168.82000000000002" y1="376.2216" x2="171.02" y2="376.2216" stroke="#f05a5a" stroke-width="0.5"/>
<line x1="168.82000000000002" y1="378.3176" x2="171.02" y2="378.3176" stroke="#f05a5a" stroke-width="0.5"/>
<polyline points="58.80,382.30 61.11,356.10 63.43,347.72 65.75,341.95 68.06,338.81 72.69,332.21 77.32,342.69 86.58,351.28 95.84,362.39 105.10,369.41 114.36,374.44 169.92,377.27" fill="none" stroke="#f05a5a" stroke-width="1.0" stroke-linejoin="round"/>
<circle cx="61.1" cy="356.1" r="0.9" fill="#f05a5a"/>
<circle cx="63.4" cy="347.7" r="0.9" fill="#f05a5a"/>
<circle cx="65.7" cy="342.0" r="0.9" fill="#f05a5a"/>
<circle cx="68.1" cy="338.8" r="0.9" fill="#f05a5a"/>
<circle cx="72.7" cy="332.2" r="0.9" fill="#f05a5a"/>
<circle cx="77.3" cy="342.7" r="0.9" fill="#f05a5a"/>
<circle cx="86.6" cy="351.3" r="0.9" fill="#f05a5a"/>
<circle cx="95.8" cy="362.4" r="0.9" fill="#f05a5a"/>
<circle cx="105.1" cy="369.4" r="0.9" fill="#f05a5a"/>
<circle cx="114.4" cy="374.4" r="0.9" fill="#f05a5a"/>
<circle cx="169.9" cy="377.3" r="0.9" fill="#f05a5a"/>
<line x1="122.4" y1="317.4" x2="122.4" y2="358.6" stroke="#333" stroke-width="0.7"/>
<line x1="122.4" y1="358.6" x2="193.6" y2="358.6" stroke="#333" stroke-width="0.7"/>
<line x1="121" y1="358.6" x2="122.4" y2="358.6" stroke="#333" stroke-width="0.5"/>
<text x="120.5" y="359.90000000000003" font-size="3.9" text-anchor="end" font-weight="bold" stroke="#1a1a1a" stroke-width="0.3" fill="#1a1a1a">0.0</text>
<line x1="121" y1="348.3" x2="122.4" y2="348.3" stroke="#333" stroke-width="0.5"/>
<text x="120.5" y="349.6" font-size="3.9" text-anchor="end" font-weight="bold" stroke="#1a1a1a" stroke-width="0.3" fill="#1a1a1a">0.2</text>
<line x1="121" y1="338.0" x2="122.4" y2="338.0" stroke="#333" stroke-width="0.5"/>
<text x="120.5" y="339.3" font-size="3.9" text-anchor="end" font-weight="bold" stroke="#1a1a1a" stroke-width="0.3" fill="#1a1a1a">0.4</text>
<line x1="121" y1="327.70000000000005" x2="122.4" y2="327.70000000000005" stroke="#333" stroke-width="0.5"/>
<text x="120.5" y="329.00000000000006" font-size="3.9" text-anchor="end" font-weight="bold" stroke="#1a1a1a" stroke-width="0.3" fill="#1a1a1a">0.6</text>
<line x1="121" y1="317.40000000000003" x2="122.4" y2="317.40000000000003" stroke="#333" stroke-width="0.5"/>
<text x="120.5" y="318.70000000000005" font-size="3.9" text-anchor="end" font-weight="bold" stroke="#1a1a1a" stroke-width="0.3" fill="#1a1a1a">0.8</text>
<line x1="122.4" y1="358.6" x2="122.4" y2="360" stroke="#333" stroke-width="0.5"/>
<text x="122.4" y="364.5" font-size="3.9" text-anchor="middle" font-weight="bold" stroke="#1a1a1a" stroke-width="0.3" fill="#1a1a1a">0</text>
<line x1="139.97" y1="358.6" x2="139.97" y2="360" stroke="#333" stroke-width="0.5"/>
<text x="139.97" y="364.5" font-size="3.9" text-anchor="middle" font-weight="bold" stroke="#1a1a1a" stroke-width="0.3" fill="#1a1a1a">10</text>
<line x1="157.54000000000002" y1="358.6" x2="157.54000000000002" y2="360" stroke="#333" stroke-width="0.5"/>
<text x="157.54000000000002" y="364.5" font-size="3.9" text-anchor="middle" font-weight="bold" stroke="#1a1a1a" stroke-width="0.3" fill="#1a1a1a">20</text>
<line x1="175.11" y1="358.6" x2="175.11" y2="360" stroke="#333" stroke-width="0.5"/>
<text x="175.11" y="364.5" font-size="3.9" text-anchor="middle" font-weight="bold" stroke="#1a1a1a" stroke-width="0.3" fill="#1a1a1a">30</text>
<line x1="192.68" y1="358.6" x2="192.68" y2="360" stroke="#333" stroke-width="0.5"/>
<text x="192.68" y="364.5" font-size="3.9" text-anchor="middle" font-weight="bold" stroke="#1a1a1a" stroke-width="0.3" fill="#1a1a1a">40</text>
<text x="156.4" y="368.5" font-size="5" text-anchor="middle" font-weight="bold" stroke="#1a1a1a" stroke-width="0.3" fill="#1a1a1a">Time (h)</text>
<text x="102.8" y="336.5" font-size="5" text-anchor="middle" font-weight="bold" stroke="#1a1a1a" stroke-width="0.3" fill="#1a1a1a" transform="rotate(-90 102.8 336.5)" dy="1.7">Ketoprofen plasma</text>
<text x="108.9" y="338.9" font-size="5" text-anchor="middle" font-weight="bold" stroke="#1a1a1a" stroke-width="0.3" fill="#1a1a1a" transform="rotate(-90 108.9 338.9)" dy="1.7">concentration (ug/mL)</text>
<line x1="162.6" y1="322.4" x2="168" y2="322.4" stroke="#f27c7c" stroke-width="0.6"/>
<text x="171.4" y="323.9" font-size="4.9" text-anchor="start" fill="#333">SIHDD-PSA</text>
<line x1="162.6" y1="328.1" x2="168" y2="328.1" stroke="#8cc8c8" stroke-width="0.6"/>
<text x="171.4" y="329.4" font-size="4.9" text-anchor="start" fill="#333">Ketoprofen Patch</text>
<line x1="124.15700000000001" y1="340.57500000000005" x2="124.15700000000001" y2="345.725" stroke="#f27c7c" stroke-width="0.4"/>
<line x1="125.914" y1="336.45500000000004" x2="125.914" y2="341.605" stroke="#f27c7c" stroke-width="0.4"/>
<line x1="127.671" y1="334.39500000000004" x2="127.671" y2="339.545" stroke="#f27c7c" stroke-width="0.4"/>
<line x1="129.428" y1="333.88" x2="129.428" y2="339.03000000000003" stroke="#f27c7c" stroke-width="0.4"/>
<line x1="132.942" y1="334.39500000000004" x2="132.942" y2="339.545" stroke="#f27c7c" stroke-width="0.4"/>
<line x1="136.45600000000002" y1="336.97" x2="136.45600000000002" y2="342.12" stroke="#f27c7c" stroke-width="0.4"/>
<line x1="139.97" y1="340.57500000000005" x2="139.97" y2="345.725" stroke="#f27c7c" stroke-width="0.4"/>
<line x1="143.484" y1="343.15000000000003" x2="143.484" y2="348.3" stroke="#f27c7c" stroke-width="0.4"/>
<line x1="164.568" y1="348.815" x2="164.568" y2="353.96500000000003" stroke="#f27c7c" stroke-width="0.4"/>
<line x1="185.652" y1="353.45000000000005" x2="185.652" y2="358.6" stroke="#f27c7c" stroke-width="0.4"/>
<line x1="124.15700000000001" y1="347.27000000000004" x2="124.15700000000001" y2="351.39000000000004" stroke="#3fa3c8" stroke-width="0.4"/>
<line x1="125.914" y1="345.21000000000004" x2="125.914" y2="349.33000000000004" stroke="#3fa3c8" stroke-width="0.4"/>
<line x1="127.671" y1="344.69500000000005" x2="127.671" y2="348.815" stroke="#3fa3c8" stroke-width="0.4"/>
<line x1="129.428" y1="344.69500000000005" x2="129.428" y2="348.815" stroke="#3fa3c8" stroke-width="0.4"/>
<line x1="132.942" y1="348.815" x2="132.942" y2="352.935" stroke="#3fa3c8" stroke-width="0.4"/>
<line x1="136.45600000000002" y1="350.36" x2="136.45600000000002" y2="354.48" stroke="#3fa3c8" stroke-width="0.4"/>
<line x1="139.97" y1="352.42" x2="139.97" y2="356.54" stroke="#3fa3c8" stroke-width="0.4"/>
<line x1="143.484" y1="354.995" x2="143.484" y2="359.115" stroke="#3fa3c8" stroke-width="0.4"/>
<polyline points="122.40,356.03 124.16,349.33 125.91,347.27 127.67,346.75 129.43,346.75 132.94,350.88 136.46,352.42 139.97,354.48 143.48,357.06 164.57,358.09" fill="none" stroke="#3fa3c8" stroke-width="0.7" stroke-linejoin="round"/>
<polyline points="122.40,356.03 124.16,343.15 125.91,339.03 127.67,336.97 129.43,336.46 132.94,336.97 136.46,339.55 139.97,343.15 143.48,345.73 164.57,351.39 185.65,356.03" fill="none" stroke="#f27c7c" stroke-width="0.7" stroke-linejoin="round"/>
<text x="225.3" y="291" font-size="12.5" text-anchor="start" fill="#1a1a1a">(g)</text>
<line x1="268.9" y1="284.5" x2="268.9" y2="379.4" stroke="#444" stroke-width="1.35"/>
<line x1="265.2" y1="378.9" x2="268.9" y2="378.9" stroke="#333" stroke-width="0.9"/>
<text x="263.4" y="381.4" font-size="7.3" text-anchor="end" font-weight="bold" stroke="#1a1a1a" stroke-width="0.3" fill="#1a1a1a">0</text>
<line x1="265.2" y1="360.04999999999995" x2="268.9" y2="360.04999999999995" stroke="#333" stroke-width="0.9"/>
<text x="263.4" y="362.54999999999995" font-size="7.3" text-anchor="end" font-weight="bold" stroke="#1a1a1a" stroke-width="0.3" fill="#1a1a1a">1</text>
<line x1="265.2" y1="341.2" x2="268.9" y2="341.2" stroke="#333" stroke-width="0.9"/>
<text x="263.4" y="343.7" font-size="7.3" text-anchor="end" font-weight="bold" stroke="#1a1a1a" stroke-width="0.3" fill="#1a1a1a">2</text>
<line x1="265.2" y1="322.34999999999997" x2="268.9" y2="322.34999999999997" stroke="#333" stroke-width="0.9"/>
<text x="263.4" y="324.84999999999997" font-size="7.3" text-anchor="end" font-weight="bold" stroke="#1a1a1a" stroke-width="0.3" fill="#1a1a1a">3</text>
<line x1="265.2" y1="303.5" x2="268.9" y2="303.5" stroke="#333" stroke-width="0.9"/>
<text x="263.4" y="306.0" font-size="7.3" text-anchor="end" font-weight="bold" stroke="#1a1a1a" stroke-width="0.3" fill="#1a1a1a">4</text>
<line x1="265.2" y1="284.65" x2="268.9" y2="284.65" stroke="#333" stroke-width="0.9"/>
<text x="263.4" y="287.15" font-size="7.3" text-anchor="end" font-weight="bold" stroke="#1a1a1a" stroke-width="0.3" fill="#1a1a1a">5</text>
<line x1="268.9" y1="378.9" x2="367.4" y2="378.9" stroke="#333" stroke-width="1.2"/>
<text x="249.7" y="330.6" font-size="8.5" text-anchor="middle" font-weight="bold" stroke="#1a1a1a" stroke-width="0.08" fill="#1a1a1a" transform="rotate(-90 249.7 330.6)" dy="3">EI</text>
<rect x="273.60" y="358.73" width="9.40" height="20.17" fill="#6b6b6b"/>
<line x1="278.3" y1="356.28" x2="278.3" y2="358.73049999999995" stroke="#6b6b6b" stroke-width="0.7"/>
<line x1="276.6" y1="356.28" x2="280.0" y2="356.28" stroke="#6b6b6b" stroke-width="0.7"/>
<line x1="278.3" y1="378.9" x2="278.3" y2="381.5" stroke="#333" stroke-width="0.8"/>
<rect x="287.70" y="299.73" width="9.40" height="79.17" fill="#7e2a8c"/>
<line x1="292.4" y1="298.222" x2="292.4" y2="299.72999999999996" stroke="#7e2a8c" stroke-width="0.7"/>
<line x1="290.7" y1="298.222" x2="294.09999999999997" y2="298.222" stroke="#7e2a8c" stroke-width="0.7"/>
<line x1="292.4" y1="378.9" x2="292.4" y2="381.5" stroke="#333" stroke-width="0.8"/>
<rect x="301.30" y="356.85" width="9.40" height="22.05" fill="#3a68bd"/>
<line x1="306.0" y1="354.20649999999995" x2="306.0" y2="356.84549999999996" stroke="#3a68bd" stroke-width="0.7"/>
<line x1="304.3" y1="354.20649999999995" x2="307.7" y2="354.20649999999995" stroke="#3a68bd" stroke-width="0.7"/>
<line x1="306.0" y1="378.9" x2="306.0" y2="381.5" stroke="#333" stroke-width="0.8"/>
<rect x="315.10" y="356.28" width="9.40" height="22.62" fill="#d2392e"/>
<line x1="319.8" y1="354.395" x2="319.8" y2="356.28" stroke="#d2392e" stroke-width="0.7"/>
<line x1="318.1" y1="354.395" x2="321.5" y2="354.395" stroke="#d2392e" stroke-width="0.7"/>
<line x1="319.8" y1="378.9" x2="319.8" y2="381.5" stroke="#333" stroke-width="0.8"/>
<rect x="329.30" y="355.34" width="9.40" height="23.56" fill="#13a05a"/>
<line x1="334.0" y1="353.4525" x2="334.0" y2="355.3375" stroke="#13a05a" stroke-width="0.7"/>
<line x1="332.3" y1="353.4525" x2="335.7" y2="353.4525" stroke="#13a05a" stroke-width="0.7"/>
<line x1="334.0" y1="378.9" x2="334.0" y2="381.5" stroke="#333" stroke-width="0.8"/>
<rect x="342.80" y="355.90" width="9.40" height="23.00" fill="#fca50c"/>
<line x1="347.5" y1="355.149" x2="347.5" y2="355.90299999999996" stroke="#fca50c" stroke-width="0.7"/>
<line x1="345.8" y1="355.149" x2="349.2" y2="355.149" stroke="#fca50c" stroke-width="0.7"/>
<line x1="347.5" y1="378.9" x2="347.5" y2="381.5" stroke="#333" stroke-width="0.8"/>
<rect x="356.40" y="356.28" width="9.40" height="22.62" fill="#f86363"/>
<line x1="361.09999999999997" y1="354.772" x2="361.09999999999997" y2="356.28" stroke="#f86363" stroke-width="0.7"/>
<line x1="359.4" y1="354.772" x2="362.79999999999995" y2="354.772" stroke="#f86363" stroke-width="0.7"/>
<line x1="361.09999999999997" y1="378.9" x2="361.09999999999997" y2="381.5" stroke="#333" stroke-width="0.8"/>
<text x="280.8" y="388" font-size="8.3" text-anchor="end" font-weight="bold" stroke="#1a1a1a" stroke-width="0.08" fill="#1a1a1a" transform="rotate(-45 280.8 388)">Control</text>
<text x="294.6" y="388" font-size="8.3" text-anchor="end" font-weight="bold" stroke="#1a1a1a" stroke-width="0.08" fill="#1a1a1a" transform="rotate(-45 294.6 388)">Positive</text>
<text x="309" y="389.2" font-size="8.3" text-anchor="end" font-weight="bold" stroke="#1a1a1a" stroke-width="0.08" fill="#1a1a1a" transform="rotate(-45 309 389.2)">AT</text>
<text x="321.6" y="389.2" font-size="8.3" text-anchor="end" font-weight="bold" stroke="#1a1a1a" stroke-width="0.08" fill="#1a1a1a" transform="rotate(-45 321.6 389.2)">AAT</text>
<text x="335.8" y="389.2" font-size="8.3" text-anchor="end" font-weight="bold" stroke="#1a1a1a" stroke-width="0.08" fill="#1a1a1a" transform="rotate(-45 335.8 389.2)">KAT</text>
<text x="350.5" y="390" font-size="8.3" text-anchor="end" font-weight="bold" stroke="#1a1a1a" stroke-width="0.08" fill="#1a1a1a" transform="rotate(-45 350.5 390)">K</text>
<text x="364" y="389" font-size="8.3" text-anchor="end" font-weight="bold" stroke="#1a1a1a" stroke-width="0.08" fill="#1a1a1a" transform="rotate(-45 364 389)">AKAT</text>
<text x="369.3" y="271.8" font-size="12.5" text-anchor="start" fill="#1a1a1a">(h)</text>
<rect x="384.90" y="272.80" width="11.20" height="5.60" fill="#666666"/>
<text x="402" y="277.8" font-size="8.6" text-anchor="start" fill="#1a1a1a">Control</text>
<rect x="433.20" y="272.80" width="11.20" height="5.60" fill="#3065b5"/>
<text x="450" y="277.8" font-size="8.6" text-anchor="start" fill="#1a1a1a">AT</text>
<rect x="468.20" y="272.80" width="11.20" height="5.60" fill="#0ea05a"/>
<text x="485.5" y="277.8" font-size="8.6" text-anchor="start" fill="#1a1a1a">KAT</text>
<rect x="507.30" y="272.80" width="11.20" height="5.60" fill="#fb5c5f"/>
<text x="524.5" y="277.8" font-size="8.6" text-anchor="start" fill="#1a1a1a">AKAT</text>
<rect x="384.90" y="282.20" width="11.20" height="5.60" fill="#8dc63f"/>
<text x="402" y="287.2" font-size="8.6" text-anchor="start" fill="#1a1a1a">Model</text>
<rect x="433.20" y="282.20" width="11.20" height="5.60" fill="#d22e28"/>
<text x="450" y="287.2" font-size="8.6" text-anchor="start" fill="#1a1a1a">AAT</text>
<rect x="468.20" y="282.20" width="11.20" height="5.60" fill="#ffa500"/>
<text x="485.5" y="287.2" font-size="8.6" text-anchor="start" fill="#1a1a1a">OAK</text>
<line x1="421.7" y1="304.5" x2="421.7" y2="397" stroke="#222" stroke-width="1.0"/>
<line x1="419.2" y1="396.9" x2="421.7" y2="396.9" stroke="#222" stroke-width="0.8"/>
<text x="417.5" y="399.4" font-size="7.2" text-anchor="end" font-weight="bold" stroke="#1a1a1a" stroke-width="0.3" fill="#1a1a1a">0.0</text>
<line x1="419.2" y1="385.34999999999997" x2="421.7" y2="385.34999999999997" stroke="#222" stroke-width="0.8"/>
<text x="417.5" y="387.84999999999997" font-size="7.2" text-anchor="end" font-weight="bold" stroke="#1a1a1a" stroke-width="0.3" fill="#1a1a1a">0.5</text>
<line x1="419.2" y1="373.79999999999995" x2="421.7" y2="373.79999999999995" stroke="#222" stroke-width="0.8"/>
<text x="417.5" y="376.29999999999995" font-size="7.2" text-anchor="end" font-weight="bold" stroke="#1a1a1a" stroke-width="0.3" fill="#1a1a1a">1.0</text>
<line x1="419.2" y1="362.25" x2="421.7" y2="362.25" stroke="#222" stroke-width="0.8"/>
<text x="417.5" y="364.75" font-size="7.2" text-anchor="end" font-weight="bold" stroke="#1a1a1a" stroke-width="0.3" fill="#1a1a1a">1.5</text>
<line x1="419.2" y1="350.7" x2="421.7" y2="350.7" stroke="#222" stroke-width="0.8"/>
<text x="417.5" y="353.2" font-size="7.2" text-anchor="end" font-weight="bold" stroke="#1a1a1a" stroke-width="0.3" fill="#1a1a1a">2.0</text>
<line x1="419.2" y1="339.15" x2="421.7" y2="339.15" stroke="#222" stroke-width="0.8"/>
<text x="417.5" y="341.65" font-size="7.2" text-anchor="end" font-weight="bold" stroke="#1a1a1a" stroke-width="0.3" fill="#1a1a1a">2.5</text>
<line x1="419.2" y1="327.59999999999997" x2="421.7" y2="327.59999999999997" stroke="#222" stroke-width="0.8"/>
<text x="417.5" y="330.09999999999997" font-size="7.2" text-anchor="end" font-weight="bold" stroke="#1a1a1a" stroke-width="0.3" fill="#1a1a1a">3.0</text>
<line x1="419.2" y1="316.04999999999995" x2="421.7" y2="316.04999999999995" stroke="#222" stroke-width="0.8"/>
<text x="417.5" y="318.54999999999995" font-size="7.2" text-anchor="end" font-weight="bold" stroke="#1a1a1a" stroke-width="0.3" fill="#1a1a1a">3.5</text>
<line x1="419.2" y1="304.5" x2="421.7" y2="304.5" stroke="#222" stroke-width="0.8"/>
<text x="417.5" y="307.0" font-size="7.2" text-anchor="end" font-weight="bold" stroke="#1a1a1a" stroke-width="0.3" fill="#1a1a1a">4.0</text>
<line x1="421.7" y1="396.4" x2="543.5" y2="396.4" stroke="#222" stroke-width="1.0"/>
<line x1="451" y1="396.4" x2="451" y2="399" stroke="#222" stroke-width="0.8"/>
<line x1="513.4" y1="396.4" x2="513.4" y2="399" stroke="#222" stroke-width="0.8"/>
<text x="451.8" y="409" font-size="8.1" text-anchor="middle" font-weight="bold" stroke="#1a1a1a" stroke-width="0.08" fill="#1a1a1a">Days 14</text>
<text x="513.4" y="409" font-size="8.1" text-anchor="middle" font-weight="bold" stroke="#1a1a1a" stroke-width="0.08" fill="#1a1a1a">Days 24</text>
<text x="401.5" y="349.5" font-size="9.3" text-anchor="middle" font-weight="bold" stroke="#1a1a1a" stroke-width="0.08" fill="#1a1a1a" transform="rotate(-90 401.5 349.5)" dy="3">Pathological score (0 - 4)</text>
<rect x="424.50" y="392.51" width="6.20" height="3.89" fill="#666666"/>
<line x1="427.6" y1="390.91099999999994" x2="427.6" y2="392.51099999999997" stroke="#666666" stroke-width="0.6"/>
<line x1="426.3" y1="390.91099999999994" x2="428.9" y2="390.91099999999994" stroke="#666666" stroke-width="0.6"/>
<rect x="432.00" y="325.29" width="6.20" height="71.11" fill="#8dc63f"/>
<line x1="435.1" y1="323.68999999999994" x2="435.1" y2="325.28999999999996" stroke="#8dc63f" stroke-width="0.6"/>
<line x1="433.8" y1="323.68999999999994" x2="436.4" y2="323.68999999999994" stroke="#8dc63f" stroke-width="0.6"/>
<rect x="440.20" y="323.21" width="6.20" height="73.19" fill="#3065b5"/>
<line x1="443.3" y1="321.61099999999993" x2="443.3" y2="323.21099999999996" stroke="#3065b5" stroke-width="0.6"/>
<line x1="442.0" y1="321.61099999999993" x2="444.59999999999997" y2="321.61099999999993" stroke="#3065b5" stroke-width="0.6"/>
<rect x="448.00" y="331.53" width="6.20" height="64.87" fill="#d22e28"/>
<line x1="451.1" y1="329.92699999999996" x2="451.1" y2="331.527" stroke="#d22e28" stroke-width="0.6"/>
<line x1="449.8" y1="329.92699999999996" x2="452.4" y2="329.92699999999996" stroke="#d22e28" stroke-width="0.6"/>
<rect x="456.10" y="354.86" width="6.20" height="41.54" fill="#0ea05a"/>
<line x1="459.20000000000005" y1="353.2579999999999" x2="459.20000000000005" y2="354.85799999999995" stroke="#0ea05a" stroke-width="0.6"/>
<line x1="457.90000000000003" y1="353.2579999999999" x2="460.5" y2="353.2579999999999" stroke="#0ea05a" stroke-width="0.6"/>
<rect x="464.30" y="341.23" width="6.20" height="55.17" fill="#ffa500"/>
<line x1="467.40000000000003" y1="339.62899999999996" x2="467.40000000000003" y2="341.229" stroke="#ffa500" stroke-width="0.6"/>
<line x1="466.1" y1="339.62899999999996" x2="468.7" y2="339.62899999999996" stroke="#ffa500" stroke-width="0.6"/>
<rect x="472.10" y="358.32" width="6.20" height="38.08" fill="#fb5c5f"/>
<line x1="475.20000000000005" y1="356.72299999999996" x2="475.20000000000005" y2="358.323" stroke="#fb5c5f" stroke-width="0.6"/>
<line x1="473.90000000000003" y1="356.72299999999996" x2="476.5" y2="356.72299999999996" stroke="#fb5c5f" stroke-width="0.6"/>
<rect x="486.30" y="393.44" width="6.20" height="2.96" fill="#666666"/>
<line x1="489.40000000000003" y1="391.835" x2="489.40000000000003" y2="393.435" stroke="#666666" stroke-width="0.6"/>
<line x1="488.1" y1="391.835" x2="490.7" y2="391.835" stroke="#666666" stroke-width="0.6"/>
<rect x="494.40" y="319.51" width="6.20" height="76.88" fill="#8dc63f"/>
<line x1="497.5" y1="317.91499999999996" x2="497.5" y2="319.515" stroke="#8dc63f" stroke-width="0.6"/>
<line x1="496.2" y1="317.91499999999996" x2="498.79999999999995" y2="317.91499999999996" stroke="#8dc63f" stroke-width="0.6"/>
<rect x="501.90" y="320.21" width="6.20" height="76.19" fill="#3065b5"/>
<line x1="505.0" y1="318.60799999999995" x2="505.0" y2="320.20799999999997" stroke="#3065b5" stroke-width="0.6"/>
<line x1="503.7" y1="318.60799999999995" x2="506.29999999999995" y2="318.60799999999995" stroke="#3065b5" stroke-width="0.6"/>
<rect x="509.80" y="330.14" width="6.20" height="66.26" fill="#d22e28"/>
<line x1="512.9" y1="328.54099999999994" x2="512.9" y2="330.14099999999996" stroke="#d22e28" stroke-width="0.6"/>
<line x1="511.6" y1="328.54099999999994" x2="514.2" y2="328.54099999999994" stroke="#d22e28" stroke-width="0.6"/>
<rect x="517.90" y="362.25" width="6.20" height="34.15" fill="#0ea05a"/>
<line x1="521.0" y1="360.65" x2="521.0" y2="362.25" stroke="#0ea05a" stroke-width="0.6"/>
<line x1="519.6999999999999" y1="360.65" x2="522.3" y2="360.65" stroke="#0ea05a" stroke-width="0.6"/>
<rect x="526.00" y="350.24" width="6.20" height="46.16" fill="#ffa500"/>
<line x1="529.1" y1="348.6379999999999" x2="529.1" y2="350.23799999999994" stroke="#ffa500" stroke-width="0.6"/>
<line x1="527.8" y1="348.6379999999999" x2="530.4" y2="348.6379999999999" stroke="#ffa500" stroke-width="0.6"/>
<rect x="533.90" y="369.87" width="6.20" height="26.53" fill="#fb5c5f"/>
<line x1="537.0" y1="368.27299999999997" x2="537.0" y2="369.873" stroke="#fb5c5f" stroke-width="0.6"/>
<line x1="535.6999999999999" y1="368.27299999999997" x2="538.3" y2="368.27299999999997" stroke="#fb5c5f" stroke-width="0.6"/>
<polyline points="427.5,389 427.5,313.5 435,313.5 435,321.6" fill="none" stroke="#555" stroke-width="0.6"/>
<text x="431.25" y="312.8" font-size="4.5" text-anchor="middle" fill="#333">****</text>
<polyline points="435,321.6 435,308.1 466.7,308.1 466.7,338.2" fill="none" stroke="#555" stroke-width="0.6"/>
<text x="450.85" y="307.6" font-size="4.5" text-anchor="middle" fill="#333">*</text>
<polyline points="435,321.6 435,301.4 475.7,301.4 475.7,356.3" fill="none" stroke="#555" stroke-width="0.6"/>
<text x="455.35" y="300.8" font-size="4.5" text-anchor="middle" fill="#333">***</text>
<polyline points="496.2,317 496.2,309.6 528.4,309.6 528.4,348.7" fill="none" stroke="#555" stroke-width="0.6"/>
<text x="512.3" y="309" font-size="4.5" text-anchor="middle" fill="#333">*</text>
<polyline points="496.2,317 496.2,301.4 536,301.4 536,366.8" fill="none" stroke="#555" stroke-width="0.6"/>
<text x="516.1" y="300.8" font-size="4.5" text-anchor="middle" fill="#333">***</text>
</svg></body></html>
